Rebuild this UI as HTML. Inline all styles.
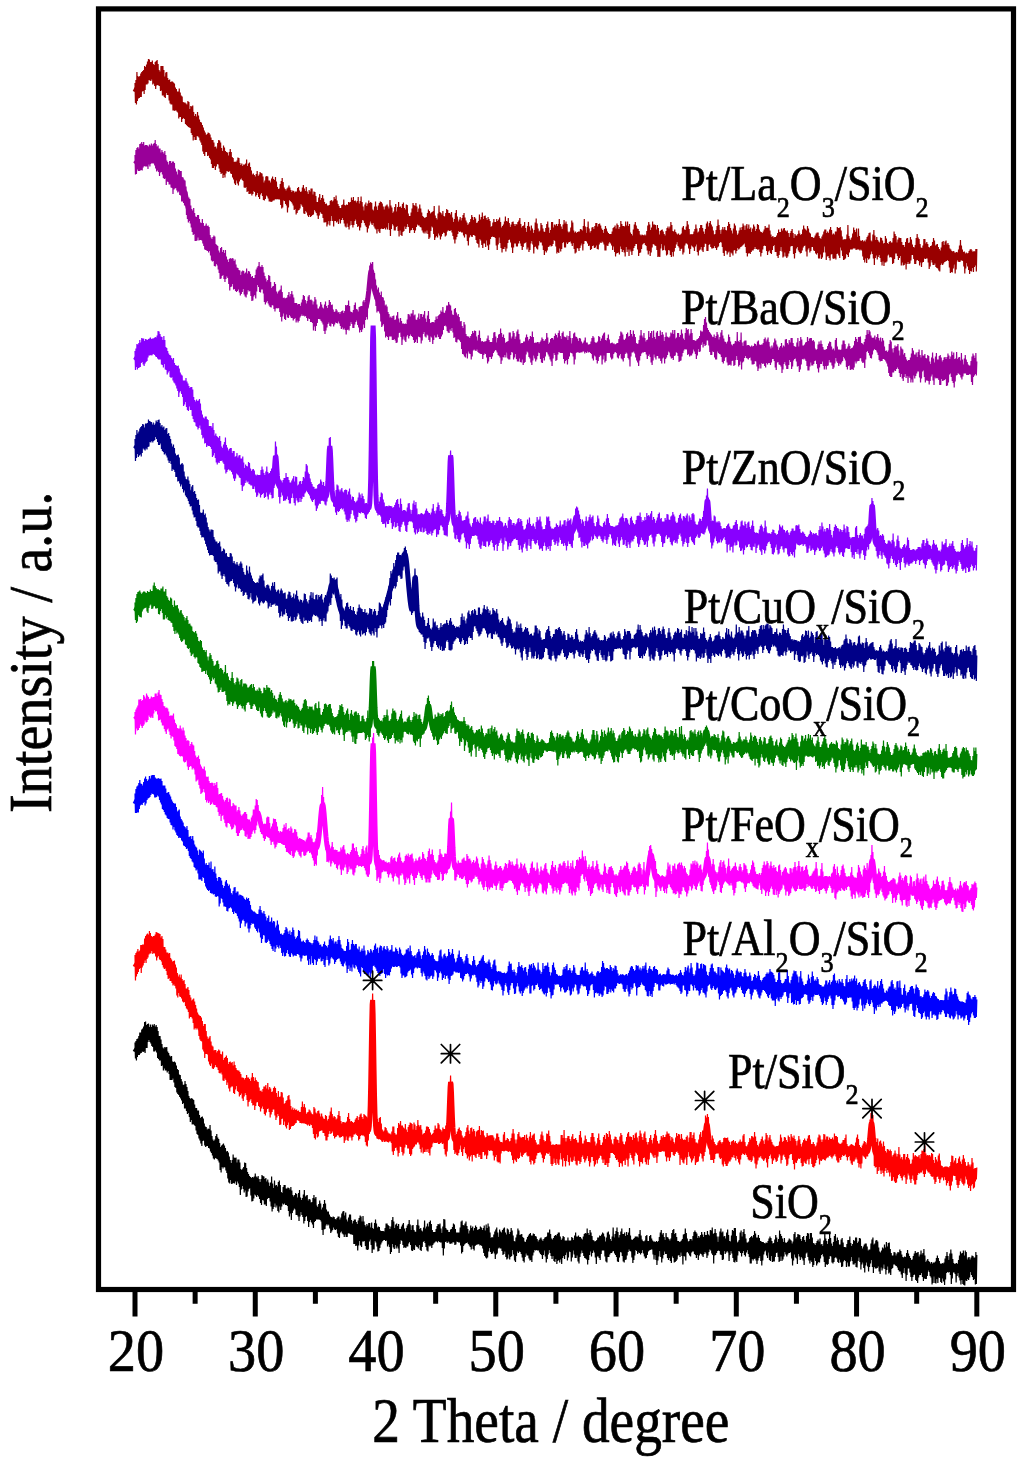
<!DOCTYPE html><html><head><meta charset="utf-8"><title>XRD</title><style>html,body{margin:0;padding:0;background:#fff;overflow:hidden}svg{display:block}text{font-family:'Liberation Serif','Times New Roman',serif;fill:#000;stroke:#000;stroke-width:0.7px}</style></head><body>
<svg width="1024" height="1461" viewBox="0 0 1024 1461">
<rect x="0" y="0" width="1024" height="1461" fill="#fff"/>
<path transform="translate(135.000 0) scale(0.48104 0.5)" d="M0 2104 l1-2 1-1 1-2 1-1 1-2 1-2 1-1 1-2 1-1 1-1 1-2 1-1 1-1 1-2 1-1 1-1 1-2 1-1 1-1 1-2 1-1 1-2 1-1 1-1 1-1 1-1 1-1 1-1 1 0 1 0 1 0 1 0 1 1 1 0 1 1 1 1 1 1 1 1 1 1 1 1 1 1 1 1 1 2 1 2 1 2 1 2 1 3 1 3 1 3 1 3 1 3 1 2 1 2 1 2 1 2 1 1 1 2 1 2 1 1 1 2 1 1 1 2 1 1 1 2 1 1 1 2 1 1 1 1 1 2 1 1 1 2 1 1 1 2 1 1 1 2 1 1 1 2 1 2 1 2 1 1 1 2 1 2 1 2 1 2 1 2 1 2 1 2 1 2 1 2 1 2 1 2 1 2 1 2 1 2 1 2 1 2 1 2 1 2 1 2 1 2 1 2 1 2 1 2 1 2 1 2 1 2 1 2 1 2 1 2 1 2 1 2 1 2 1 2 1 3 1 2 1 2 1 2 1 2 1 2 1 2 1 2 1 2 1 2 1 2 1 2 1 2 1 2 1 1 1 2 1 2 1 2 1 1 1 2 1 2 1 1 1 2 1 2 1 1 1 2 1 1 1 2 1 1 1 2 1 1 1 2 1 1 1 2 1 1 1 2 1 1 1 1 1 2 1 1 1 2 1 1 1 2 1 1 1 1 1 2 1 1 1 1 1 2 1 1 1 2 1 1 1 1 1 2 1 1 1 1 1 2 1 1 1 1 1 2 1 1 1 1 1 1 1 2 1 1 1 1 1 1 1 2 1 1 1 1 1 1 1 1 1 1 1 1 1 2 1 1 1 1 1 1 1 1 1 1 1 1 1 1 1 1 1 1 1 1 1 1 1 1 1 1 1 1 1 1 1 1 1 1 1 1 1 1 1 0 1 1 1 1 1 1 1 1 1 0 1 1 1 1 1 0 1 1 1 1 1 1 1 0 1 1 1 1 1 0 1 1 1 0 1 1 1 1 1 0 1 1 1 1 1 0 1 1 1 1 1 0 1 1 1 0 1 1 1 1 1 0 1 1 1 1 1 0 1 1 1 1 1 0 1 1 1 1 1 0 1 1 1 0 1 1 1 1 1 0 1 1 1 1 1 0 1 1 1 0 1 1 1 0 1 1 1 0 1 1 1 0 1 1 1 0 1 1 1 0 1 1 1 0 1 1 1 0 1 0 1 1 1 0 1 1 1 0 1 0 1 1 1 0 1 1 1 0 1 0 1 1 1 0 1 0 1 1 1 0 1 1 1 0 1 0 1 1 1 0 1 1 1 0 1 0 1 1 1 0 1 0 1 1 1 0 1 0 1 1 1 0 1 0 1 1 1 0 1 0 1 1 1 0 1 1 1 0 1 0 1 1 1 0 1 0 1 1 1 0 1 0 1 1 1 0 1 1 1 0 1 0 1 1 1 0 1 0 1 1 1 0 1 0 1 1 1 0 1 0 1 1 1 0 1 1 1 0 1 0 1 1 1 0 1 0 1 1 1 0 1 1 1 0 1 0 1 1 1 0 1 0 1 1 1 0 1 1 1 0 1 0 1 1 1 0 1 1 1 0 1 1 1 0 1 0 1 1 1 0 1 1 1 0 1 1 1 0 1 1 1 0 1 1 1 0 1 1 1 0 1 1 1 1 1 0 1 1 1 0 1 1 1 0 1 1 1 1 1 0 1 1 1 0 1 1 1 0 1 1 1 1 1 0 1 1 1 0 1 1 1 1 1 0 1 1 1 0 1 1 1 1 1 0 1 1 1 0 1 1 1 0 1 1 1 0 1 1 1 0 1 1 1 0 1 1 1 0 1 1 1 0 1 1 1 0 1 1 1 0 1 1 1 0 1 0 1 1 1 0 1 1 1 0 1 0 1 1 1 0 1 0 1 1 1 0 1 1 1 0 1 0 1 1 1 0 1 0 1 1 1 0 1 0 1 1 1 0 1 1 1 0 1 0 1 1 1 0 1 0 1 1 1 0 1 0 1 1 1 0 1 0 1 1 1 0 1 0 1 0 1 1 1 0 1 0 1 1 1 0 1 0 1 0 1 1 1 0 1 0 1 0 1 1 1 0 1 0 1 0 1 0 1 1 1 0 1 0 1 0 1 0 1 0 1 1 1 0 1 0 1 0 1 0 1 0 1 0 1 0 1 0 1 0 1 1 1 0 1 0 1 0 1 0 1 0 1 0 1 0 1 0 1 0 1 0 1 0 1 1 1 0 1 0 1 0 1 0 1 0 1 0 1 0 1 0 1 0 1 0 1 0 1 0 1 0 1 0 1 0 1 1 1 0 1 0 1 0 1 0 1 0 1 0 1 0 1 0 1 0 1 0 1 0 1 0 1 0 1 0 1 0 1 0 1 0 1 0 1 0 1 1 1 0 1 0 1 0 1 0 1 0 1 0 1 0 1 0 1 0 1 0 1 0 1 0 1 0 1 0 1 0 1 0 1 0 1 0 1 0 1 0 1 0 1 0 1 0 1 1 1 0 1 0 1 0 1 0 1 0 1 0 1 0 1 0 1 0 1 0 1 0 1 0 1 0 1 0 1 0 1 0 1 0 1 0 1 0 1 0 1 0 1 0 1 0 1 0 1 0 1 0 1 0 1 0 1 0 1 0 1 0 1 1 1 0 1 0 1 0 1 0 1 0 1 0 1 0 1 0 1 0 1 0 1 0 1 0 1 0 1 0 1 0 1 0 1 0 1 0 1 0 1 0 1 0 1 0 1 0 1 0 1 0 1 0 1 0 1 0 1 0 1 0 1 0 1 0 1 0 1 0 1 0 1 0 1 0 1 0 1 0 1 1 1 0 1 0 1 0 1 0 1 0 1 0 1 0 1 0 1 0 1 0 1 0 1 0 1 0 1 0 1 0 1 0 1 0 1 0 1 0 1 0 1 0 1 0 1 0 1 0 1 0 1 0 1 0 1 0 1 1 1 0 1 0 1 0 1 0 1 0 1 0 1 0 1 0 1 0 1 0 1 0 1 0 1 0 1 0 1 0 1 0 1 0 1 0 1 0 1 1 1 0 1 0 1 0 1 0 1 0 1 0 1 0 1 0 1 0 1 0 1 0 1 1 1 0 1 0 1 0 1 0 1 0 1 0 1 1 1 0 1 0 1 0 1 0 1 0 1 0 1 1 1 0 1 0 1 0 1 0 1 0 1 1 1 0 1 0 1 0 1 0 1 0 1 1 1 0 1 0 1 0 1 0 1 1 1 0 1 0 1 0 1 0 1 0 1 1 1 0 1 0 1 0 1 0 1 0 1 0 1 1 1 0 1 0 1 0 1 0 1 0 1 0 1 1 1 0 1 0 1 0 1 0 1 0 1 0 1 0 1 1 1 0 1 0 1 0 1 0 1 0 1 0 1 0 1 1 1 0 1 0 1 0 1 0 1 0 1 0 1 0 1 1 1 0 1 0 1 0 1 0 1 0 1 0 1 0 1 1 1 0 1 0 1 0 1 0 1 0 1 0 1 0 1 0 1 0 1 1 1 0 1 0 1 0 1 0 1 0 1 0 1 0 1 0 1 0 1 0 1 0 1 0 1 0 1 0 1 1 1 0 1 0 1 0 1 0 1 0 1 0 1 0 1 0 1 0 1 0 1 0 1 0 1 0 1 0 1 0 1 0 1 0 1 0 1 0 1 0 1 0 1 0 1 0 1 0 1 0 1 0 1 0 1 0 1 0 1 0 1 0 1 0 1 0 1 0 1 0 1 0 1 0 1 0 1 0 1 0 1 0 1 0 1 0 1 0 1 0 1 0 1 0 1 0 1 0 1 0 1 0 1 0 1 0 1 0 1 0 1 0 1 0 1 0 1 0 1 0 1 0 1 0 1 0 1 0 1 0 1 0 1 0 1 0 1 0 1 0 1 0 1 0 1 0 1 0 1 0 1 0 1 0 1 0 1 0 1 0 1 0 1 0 1 0 1 0 1 0 1 0 1 0 1 0 1 0 1 0 1 0 1 0 1 0 1 0 1 0 1 0 1 0 1 0 1 0 1 0 1 0 1 0 1 0 1 0 1 0 1 0 1 0 1 0 1 0 1 0 1 0 1 0 1 0 1 0 1 0 1 0 1 0 1 0 1 0 1 0 1 0 1 0 1 0 1 0 1 0 1 0 1 0 1 0 1 0 1 0 1 0 1 0 1 0 1 0 1 0 1 0 1 0 1 0 1 0 1 0 1 0 1 0 1 0 1 0 1 0 1 0 1 0 1 0 1 0 1 0 1 0 1 0 1 0 1 0 1 0 1 0 1 0 1 0 1 0 1 0 1 0 1 0 1 0 1 0 1 0 1 0 1 0 1 0 1 0 1 0 1 0 1 0 1 0 1 0 1 0 1 0 1 0 1 0 1 0 1 0 1 0 1 0 1 0 1 0 1 0 1 0 1 0 1 0 1 0 1 0 1 0 1 0 1 0 1 0 1 0 1 0 1 0 1 0 1 0 1 0 1 0 1 0 1 0 1 0 1 0 1 0 1 0 1 0 1 0 1 0 1 0 1 0 1 0 1 0 1 0 1 0 1 0 1 0 1 0 1 0 1 0 1 0 1 0 1 0 1 0 1 0 1 0 1 0 1 0 1 0 1 0 1 0 1 0 1 0 1 0 1 0 1 0 1 0 1 0 1 0 1 0 1 0 1 0 1 0 1 0 1 0 1 0 1 0 1 0 1 0 1 0 1 0 1 0 1 0 1 0 1 0 1 0 1 0 1 0 1 0 1 0 1 0 1 0 1 0 1 0 1 0 1 0 1 0 1 0 1 0 1 0 1 0 1 0 1 0 1 0 1 0 1 0 1 0 1 0 1 0 1 0 1 0 1 0 1 0 1 0 1 0 1 0 1 0 1 0 1 0 1 0 1 0 1 0 1 0 1 0 1 0 1 0 1 0 1 0 1 0 1 0 1 0 1 0 1 0 1 0 1 0 1 0 1 0 1 0 1 0 1 0 1 0 1 0 1 0 1 0 1 0 1 0 1 0 1 0 1 0 1 0 1 0 1 0 1 0 1 0 1 0 1 0 1 0 1 0 1 0 1 0 1 0 1 0 1 0 1 0 1 0 1 0 1 0 1 0 1 0 1 0 1 0 1 0 1 0 1 0 1 0 1 0 1 0 1 0 1 0 1 0 1 0 1 0 1 0 1 0 1 0 1 0 1 0 1 0 1 0 1 0 1 0 1 0 1 0 1 0 1 0 1 0 1 0 1 0 1 0 1 0 1 0 1 0 1 0 1 0 1 0 1 0 1 0 1 0 1 0 1 0 1 0 1 0 1 0 1 0 1 0 1 0 1 0 1 0 1 0 1 0 1 0 1 0 1 0 1 0 1 0 1 0 1 0 1 0 1 0 1 0 1 0 1 0 1 0 1 0 1 0 1 0 1 0 1 0 1 0 1 0 1 0 1 0 1 0 1 0 1 0 1 0 1 0 1 0 1 0 1 0 1 0 1 0 1 0 1 0 1 0 1 0 1 0 1 0 1 0 1 0 1 0 1 0 1 0 1 0 1 0 1 0 1 0 1 0 1 0 1 0 1 0 1 0 1 0 1 0 1 0 1 0 1 0 1 0 1 0 1 0 1 0 1 0 1 0 1 1 1 0 1 0 1 0 1 0 1 0 1 0 1 0 1 0 1 0 1 0 1 0 1 0 1 0 1 0 1 0 1 0 1 0 1 0 1 0 1 0 1 0 1 0 1 0 1 0 1 0 1 0 1 0 1 0 1 0 1 0 1 0 1 0 1 0 1 0 1 0 1 0 1 0 1 0 1 0 1 0 1 0 1 1 1 0 1 0 1 0 1 0 1 0 1 0 1 0 1 0 1 0 1 0 1 0 1 0 1 0 1 0 1 0 1 0 1 0 1 0 1 0 1 0 1 0 1 0 1 0 1 0 1 0 1 0 1 0 1 0 1 0 1 0 1 0 1 0 1 0 1 0 1 0 1 1 1 0 1 0 1 0 1 0 1 0 1 0 1 0 1 0 1 0 1 0 1 0 1 0 1 0 1 0 1 0 1 0 1 0 1 0 1 0 1 0 1 0 1 0 1 0 1 0 1 0 1 1 1 0 1 0 1 0 1 0 1 0 1 0 1 0 1 0 1 0 1 0 1 0 1 0 1 0 1 0 1 0 1 0 1 0 1 0 1 0 1 0 1 1 1 0 1 0 1 0 1 0 1 0 1 0 1 0 1 0 1 0 1 0 1 0 1 0 1 0 1 0 1 0 1 0 1 0 1 0 1 1 1 0 1 0 1 0 1 0 1 0 1 0 1 0 1 0 1 0 1 0 1 0 1 0 1 0 1 0 1 0 1 0 1 1 1 0 1 0 1 0 1 0 1 0 1 0 1 0 1 0 1 0 1 0 1 0 1 0 1 0 1 0 1 1 1 0 1 0 1 0 1 0 1 0 1 0 1 0 1 0 1 0 1 0 1 0 1 0 1 0 1 0 1 1 1 0 1 0 1 0 1 0 1 0 1 0 1 0 1 0 1 0 1 0 1 0 1 0 1 1 1 0 1 0 1 0 1 0 1 0 1 0 1 0 1 0 1 0 1 0 1 1 1 0 1 0 1 0 1 0 1 0 1 0 1 0 1 0 1 0 1 1 1 0 1 0 1 0 1 0 1 0 1 0 1 0 1 0 1 1 1 0 1 0 1 0 1 0 1 0 1 0 1 0 1 0 1 1 1 0 1 0 1 0 1 0 1 0 1 0 1 1 1 0 1 0 1 0 1 0 1 0 1 0 1 1 1 0 1 0 1 0 1 0 1 1 1 0 1 0 1 0 1 0 1 1 1 0 1 0 1 0 1 0 1 1 1 0 1 0 1 0 1 0 1 1 1 0 1 0 1 0 1 0 1 1 1 0 1 0 1 0 1 1 1 0 1 0 1 0 1 0 1 1 1 0 1 0 1 0 1 0 1 1 1 0 1 0 1 0 1 0 1 1 1 0 1 0 1 0 1 0 1 1 1 0 1 0 1 0 1 0 1 0 1 1 1 0 1 0 1 0 1 0 1 0 1 1 1 0 1 0 1 0 1 0 1 1 1 0 1 0 1 0 1 0 1 1 1 0 1 0 1 0 1 0 1 1 1 0 1 0 1 0 1 0 1 1 1 0 1 0 1 0 1 0 1 0 1 1 1 0 1 0 1 0 1 0 1 1 1 0 1 0 1 0 1 0 1 1 1 0 1 0 1 0 1 0 1 1 1 0 1 0 1 0 1 0 1 1 1 0 1 0 1 0 1 0 1 0 1 1 1 0 1 0 1 0 1 0 1 1 1 0 1 0 1 0 1 0 1 0 1 0 1 1 1 0 1 0 1 0 1 0 1 0 1 1 1 0 1 0 1 0 1 0 1 0 1 0 1 1 1 0 1 0 1 0 1 0 1 0 1 0 1 0 1 0 1 1 1 0 1 0 1 0 1 0 1 0 1 0 1 0 1 0 1 0 1 0 1 0 1 1 1 0 1 0 1 0 1 0 1 0 1 0 1 0 1 0 1 0 1 0 1 0 1 0 1 0 1 0 1 0 1 0 1 0 1 0 1 0 1 0 1 0 1 0 1 0 1 0 1 0 1 0 1 0 1 0 1 0 1 0 1 0 1 0 1 0 1 0 1 0 1 0 1 0 1 0 1 0 1 0 1 0 1 0 1 0 1 0 1 0 1 0 1 0 1 0 1 0 1 0 1 0 1 0 1 0 1 0 1 0 1 0 1 0 1 0 1 0 1 0 1 0 1 0 1 0 1 0 1 0 1 0 1 0 1 0 1 0 1 0 1 0 1 0 1 0 1 0 1 0" fill="none" stroke="#000000" stroke-width="5.00" stroke-linejoin="bevel" vector-effect="non-scaling-stroke"/>
<path transform="translate(135.000 0) scale(0.48104 0.5)" d="M0 2085 l1 32 1-35 1 39 1-43 1 36 1-37 1 33 1-38 1 38 1-45 1 42 1-42 1 41 1-47 1 44 1-46 1 47 1-51 1 50 1-59 1 62 1-63 1 53 1-46 1 46 1-48 1 36 1-37 1 33 1-26 1 30 1-35 1 38 1-33 1 38 1-43 1 45 1-43 1 52 1-55 1 55 1-50 1 48 1-51 1 55 1-51 1 62 1-54 1 56 1-46 1 49 1-49 1 49 1-42 1 53 1-44 1 43 1-36 1 46 1-44 1 40 1-43 1 47 1-46 1 46 1-47 1 51 1-42 1 39 1-36 1 42 1-37 1 49 1-47 1 47 1-48 1 48 1-37 1 34 1-33 1 41 1-42 1 51 1-49 1 51 1-45 1 54 1-47 1 50 1-48 1 50 1-41 1 45 1-44 1 47 1-39 1 43 1-38 1 45 1-38 1 36 1-37 1 48 1-55 1 55 1-49 1 54 1-48 1 54 1-46 1 44 1-34 1 42 1-38 1 48 1-46 1 42 1-44 1 53 1-51 1 50 1-48 1 50 1-41 1 43 1-36 1 45 1-45 1 52 1-47 1 49 1-49 1 56 1-47 1 51 1-45 1 51 1-53 1 58 1-59 1 49 1-45 1 44 1-34 1 44 1-38 1 41 1-40 1 38 1-33 1 33 1-35 1 39 1-38 1 39 1-47 1 53 1-42 1 45 1-34 1 39 1-32 1 38 1-35 1 37 1-40 1 37 1-44 1 45 1-49 1 50 1-43 1 46 1-43 1 47 1-39 1 54 1-46 1 51 1-54 1 43 1-45 1 48 1-50 1 47 1-43 1 44 1-39 1 45 1-38 1 43 1-44 1 55 1-52 1 60 1-52 1 54 1-47 1 40 1-34 1 42 1-48 1 47 1-58 1 57 1-51 1 52 1-51 1 47 1-48 1 55 1-45 1 38 1-44 1 48 1-48 1 55 1-49 1 65 1-52 1 41 1-39 1 32 1-35 1 41 1-44 1 51 1-60 1 56 1-55 1 68 1-58 1 57 1-49 1 39 1-35 1 30 1-26 1 24 1-22 1 37 1-35 1 47 1-49 1 48 1-47 1 42 1-44 1 36 1-42 1 44 1-38 1 41 1-39 1 35 1-38 1 41 1-35 1 40 1-34 1 42 1-48 1 52 1-60 1 50 1-48 1 49 1-48 1 56 1-51 1 51 1-53 1 56 1-49 1 35 1-39 1 37 1-31 1 31 1-24 1 31 1-38 1 48 1-60 1 70 1-56 1 51 1-42 1 38 1-53 1 46 1-36 1 44 1-45 1 41 1-38 1 49 1-58 1 61 1-64 1 52 1-43 1 50 1-36 1 29 1-27 1 21 1-33 1 35 1-39 1 37 1-37 1 40 1-33 1 33 1-33 1 35 1-37 1 47 1-46 1 57 1-54 1 48 1-53 1 66 1-59 1 45 1-36 1 31 1-28 1 24 1-27 1 29 1-33 1 44 1-42 1 42 1-35 1 38 1-47 1 56 1-62 1 53 1-38 1 29 1-24 1 30 1-34 1 38 1-45 1 58 1-67 1 62 1-49 1 41 1-43 1 41 1-42 1 52 1-41 1 53 1-56 1 46 1-45 1 41 1-35 1 40 1-41 1 45 1-53 1 60 1-66 1 54 1-47 1 45 1-48 1 45 1-28 1 28 1-25 1 25 1-31 1 31 1-38 1 39 1-33 1 36 1-24 1 41 1-45 1 55 1-62 1 51 1-59 1 58 1-51 1 44 1-32 1 29 1-25 1 28 1-28 1 26 1-20 1 28 1-24 1 33 1-32 1 29 1-28 1 25 1-27 1 22 1-21 1 25 1-21 1 22 1-21 1 19 1-22 1 31 1-34 1 41 1-41 1 43 1-37 1 26 1-30 1 28 1-36 1 40 1-44 1 46 1-47 1 52 1-43 1 38 1-44 1 49 1-35 1 35 1-31 1 24 1-32 1 31 1-37 1 39 1-39 1 40 1-29 1 29 1-22 1 23 1-28 1 46 1-49 1 49 1-49 1 53 1-48 1 47 1-43 1 53 1-60 1 50 1-55 1 46 1-51 1 60 1-58 1 61 1-51 1 40 1-51 1 51 1-40 1 39 1-32 1 42 1-39 1 46 1-51 1 52 1-49 1 48 1-53 1 37 1-37 1 33 1-24 1 35 1-45 1 61 1-50 1 43 1-41 1 41 1-53 1 36 1-43 1 46 1-38 1 46 1-38 1 48 1-50 1 49 1-48 1 42 1-35 1 28 1-27 1 23 1-23 1 20 1-20 1 18 1-17 1 17 1-24 1 26 1-35 1 34 1-34 1 46 1-43 1 39 1-37 1 42 1-36 1 50 1-55 1 51 1-64 1 48 1-54 1 61 1-52 1 55 1-42 1 34 1-41 1 48 1-50 1 46 1-41 1 45 1-49 1 58 1-48 1 30 1-30 1 22 1-27 1 29 1-33 1 41 1-44 1 50 1-39 1 37 1-31 1 33 1-40 1 37 1-42 1 42 1-45 1 39 1-47 1 44 1-35 1 41 1-30 1 41 1-50 1 51 1-52 1 49 1-39 1 40 1-37 1 27 1-26 1 29 1-43 1 44 1-55 1 58 1-46 1 39 1-32 1 42 1-44 1 46 1-41 1 33 1-31 1 21 1-29 1 27 1-41 1 45 1-29 1 37 1-41 1 48 1-54 1 56 1-50 1 38 1-47 1 49 1-52 1 50 1-43 1 48 1-36 1 30 1-26 1 23 1-23 1 21 1-21 1 19 1-25 1 25 1-31 1 33 1-37 1 34 1-33 1 35 1-37 1 38 1-28 1 28 1-19 1 30 1-43 1 58 1-73 1 59 1-58 1 45 1-28 1 27 1-24 1 27 1-26 1 23 1-19 1 21 1-21 1 24 1-29 1 28 1-29 1 29 1-33 1 30 1-37 1 38 1-36 1 41 1-32 1 31 1-24 1 18 1-18 1 19 1-19 1 20 1-20 1 20 1-30 1 36 1-48 1 64 1-66 1 63 1-54 1 42 1-41 1 38 1-42 1 40 1-44 1 43 1-34 1 33 1-27 1 30 1-21 1 24 1-30 1 33 1-43 1 48 1-43 1 35 1-38 1 45 1-37 1 40 1-45 1 36 1-41 1 39 1-36 1 35 1-29 1 29 1-30 1 29 1-30 1 33 1-38 1 37 1-35 1 37 1-32 1 37 1-41 1 50 1-55 1 61 1-51 1 54 1-66 1 68 1-61 1 59 1-68 1 56 1-50 1 43 1-31 1 39 1-28 1 32 1-34 1 33 1-32 1 28 1-34 1 38 1-44 1 55 1-59 1 50 1-54 1 52 1-42 1 32 1-23 1 21 1-36 1 38 1-34 1 34 1-32 1 37 1-42 1 50 1-53 1 51 1-53 1 48 1-38 1 49 1-45 1 50 1-62 1 60 1-58 1 50 1-41 1 51 1-55 1 50 1-58 1 56 1-51 1 39 1-29 1 38 1-27 1 39 1-38 1 41 1-49 1 37 1-43 1 34 1-46 1 49 1-45 1 42 1-33 1 34 1-35 1 39 1-40 1 47 1-41 1 48 1-46 1 49 1-42 1 31 1-30 1 23 1-28 1 32 1-37 1 37 1-40 1 46 1-49 1 53 1-55 1 54 1-49 1 53 1-53 1 40 1-44 1 38 1-37 1 32 1-28 1 29 1-28 1 27 1-22 1 23 1-18 1 18 1-21 1 25 1-28 1 31 1-33 1 35 1-31 1 39 1-36 1 28 1-32 1 23 1-26 1 38 1-39 1 51 1-52 1 45 1-53 1 44 1-44 1 35 1-41 1 47 1-38 1 44 1-35 1 41 1-39 1 33 1-36 1 46 1-50 1 52 1-54 1 48 1-47 1 57 1-60 1 54 1-57 1 55 1-55 1 60 1-52 1 46 1-39 1 48 1-51 1 39 1-44 1 40 1-38 1 44 1-37 1 29 1-29 1 24 1-24 1 40 1-46 1 40 1-34 1 22 1-22 1 23 1-23 1 42 1-49 1 41 1-39 1 25 1-21 1 29 1-38 1 45 1-51 1 51 1-43 1 38 1-38 1 50 1-52 1 56 1-53 1 40 1-40 1 33 1-30 1 24 1-22 1 27 1-33 1 39 1-44 1 48 1-50 1 51 1-50 1 52 1-62 1 72 1-63 1 54 1-50 1 40 1-50 1 43 1-38 1 48 1-41 1 34 1-26 1 21 1-20 1 24 1-22 1 32 1-33 1 46 1-48 1 33 1-38 1 38 1-38 1 41 1-45 1 49 1-48 1 36 1-39 1 32 1-36 1 36 1-34 1 34 1-28 1 40 1-30 1 40 1-48 1 50 1-60 1 49 1-51 1 51 1-45 1 40 1-31 1 28 1-24 1 24 1-33 1 30 1-48 1 47 1-27 1 32 1-39 1 42 1-48 1 52 1-59 1 68 1-59 1 60 1-49 1 40 1-45 1 34 1-41 1 42 1-48 1 55 1-44 1 55 1-55 1 57 1-60 1 55 1-48 1 47 1-55 1 47 1-41 1 34 1-39 1 34 1-43 1 46 1-31 1 32 1-24 1 36 1-35 1 46 1-48 1 42 1-44 1 35 1-38 1 27 1-27 1 29 1-29 1 35 1-33 1 30 1-37 1 38 1-46 1 49 1-38 1 35 1-27 1 21 1-18 1 25 1-24 1 30 1-32 1 36 1-45 1 44 1-46 1 40 1-28 1 21 1-21 1 19 1-29 1 28 1-30 1 29 1-22 1 22 1-18 1 28 1-26 1 36 1-36 1 27 1-26 1 36 1-38 1 48 1-46 1 37 1-39 1 31 1-39 1 28 1-37 1 49 1-54 1 65 1-56 1 48 1-51 1 44 1-36 1 29 1-23 1 28 1-42 1 42 1-34 1 42 1-41 1 45 1-42 1 38 1-35 1 41 1-45 1 49 1-60 1 47 1-53 1 56 1-58 1 67 1-57 1 56 1-58 1 56 1-48 1 45 1-37 1 29 1-29 1 28 1-26 1 30 1-31 1 22 1-24 1 31 1-34 1 51 1-60 1 43 1-44 1 45 1-56 1 64 1-55 1 39 1-28 1 27 1-21 1 24 1-25 1 29 1-33 1 35 1-35 1 27 1-24 1 22 1-31 1 31 1-39 1 44 1-47 1 49 1-46 1 52 1-49 1 43 1-34 1 44 1-48 1 39 1-36 1 32 1-37 1 38 1-44 1 47 1-42 1 45 1-40 1 34 1-44 1 40 1-34 1 37 1-37 1 46 1-54 1 49 1-42 1 35 1-33 1 28 1-39 1 41 1-40 1 46 1-52 1 55 1-42 1 59 1-61 1 45 1-53 1 52 1-44 1 40 1-33 1 29 1-18 1 17 1-28 1 29 1-39 1 46 1-52 1 53 1-45 1 55 1-57 1 56 1-46 1 29 1-30 1 36 1-31 1 28 1-40 1 37 1-43 1 46 1-35 1 52 1-40 1 28 1-27 1 19 1-31 1 36 1-47 1 56 1-54 1 62 1-68 1 69 1-69 1 65 1-49 1 52 1-39 1 26 1-28 1 19 1-22 1 23 1-38 1 41 1-45 1 52 1-40 1 33 1-42 1 38 1-44 1 52 1-42 1 45 1-36 1 28 1-20 1 15 1-15 1 23 1-25 1 31 1-38 1 51 1-53 1 53 1-55 1 46 1-43 1 46 1-51 1 48 1-56 1 55 1-50 1 54 1-46 1 53 1-53 1 46 1-51 1 46 1-40 1 36 1-30 1 40 1-39 1 48 1-47 1 37 1-37 1 25 1-23 1 17 1-16 1 14 1-16 1 26 1-25 1 30 1-34 1 23 1-28 1 43 1-47 1 49 1-46 1 36 1-30 1 42 1-37 1 36 1-37 1 37 1-44 1 35 1-44 1 36 1-31 1 30 1-21 1 30 1-36 1 46 1-63 1 61 1-54 1 45 1-41 1 50 1-45 1 42 1-35 1 29 1-37 1 28 1-19 1 24 1-23 1 27 1-29 1 25 1-28 1 25 1-29 1 29 1-27 1 25 1-23 1 36 1-30 1 44 1-48 1 38 1-53 1 41 1-45 1 51 1-38 1 40 1-43 1 54 1-60 1 40 1-39 1 44 1-43 1 50 1-42 1 36 1-32 1 35 1-43 1 47 1-49 1 58 1-50 1 36 1-32 1 23 1-35 1 33 1-39 1 48 1-47 1 54 1-43 1 49 1-61 1 55 1-55 1 58 1-49 1 59 1-48 1 44 1-43 1 29 1-26 1 32 1-36 1 45 1-49 1 45 1-48 1 45 1-41 1 42 1-48 1 40 1-28 1 21 1-22 1 20 1-16 1 21 1-32 1 43 1-58 1 68 1-57 1 51 1-46 1 48 1-42 1 40 1-50 1 40 1-50 1 44 1-36 1 37 1-26 1 38 1-33 1 35 1-43 1 40 1-52 1 44 1-48 1 46 1-32 1 35 1-42 1 49 1-44 1 46 1-37 1 30 1-30 1 36 1-46 1 55 1-58 1 57 1-48 1 38 1-29 1 26 1-26 1 28 1-27 1 39 1-46 1 37 1-45 1 53 1-53 1 53 1-60 1 50 1-37 1 28 1-22 1 30 1-34 1 41 1-49 1 49 1-47 1 44 1-51 1 59 1-59 1 60 1-49 1 36 1-39 1 32 1-39 1 48 1-47 1 62 1-47 1 37 1-32 1 28 1-32 1 43 1-47 1 56 1-58 1 44 1-44 1 38 1-32 1 40 1-32 1 42 1-44 1 35 1-35 1 28 1-40 1 33 1-41 1 55 1-59 1 71 1-57 1 45 1-47 1 50 1-56 1 56 1-57 1 56 1-53 1 50 1-38 1 48 1-40 1 45 1-43 1 30 1-34 1 40 1-46 1 42 1-40 1 32 1-40 1 49 1-43 1 54 1-65 1 56 1-47 1 40 1-47 1 61 1-62 1 60 1-47 1 52 1-44 1 32 1-27 1 25 1-25 1 18 1-25 1 25 1-24 1 26 1-20 1 21 1-25 1 28 1-31 1 36 1-35 1 38 1-44 1 44 1-41 1 47 1-40 1 47 1-42 1 32 1-31 1 21 1-23 1 34 1-33 1 48 1-56 1 44 1-50 1 37 1-30 1 30 1-25 1 33 1-29 1 38 1-34 1 42 1-43 1 35 1-42 1 38 1-43 1 42 1-47 1 58 1-54 1 56 1-57 1 61 1-62 1 51 1-42 1 37 1-41 1 41 1-49 1 45 1-37 1 45 1-48 1 56 1-64 1 59 1-46 1 47 1-34 1 34 1-37 1 31 1-34 1 23 1-19 1 22 1-20 1 28 1-25 1 28 1-31 1 45 1-42 1 39 1-41 1 28 1-28 1 41 1-43 1 44 1-51 1 42 1-47 1 55 1-50 1 39 1-33 1 34 1-29 1 37 1-36 1 38 1-40 1 31 1-30 1 36 1-38 1 45 1-53 1 42 1-47 1 34 1-42 1 40 1-32 1 33 1-25 1 24 1-37 1 43 1-51 1 69 1-61 1 50 1-39 1 27 1-19 1 19 1-17 1 20 1-21 1 38 1-39 1 26 1-24 1 18 1-26 1 35 1-44 1 50 1-58 1 66 1-62 1 53 1-54 1 62 1-67 1 69 1-59 1 60 1-70 1 60 1-57 1 58 1-43 1 39 1-43 1 45 1-46 1 41 1-36 1 25 1-29 1 35 1-39 1 43 1-42 1 48 1-45 1 43 1-43 1 54 1-65 1 64 1-58" fill="none" stroke="#000000" stroke-width="1.20" vector-effect="non-scaling-stroke"/>
<path transform="translate(135.000 0) scale(0.48104 0.5)" d="M0 1934 l1-2 1-1 1-2 1-1 1-2 1-2 1-1 1-2 1-1 1-2 1-2 1-1 1-2 1-2 1-1 1-2 1-2 1-2 1-2 1-1 1-2 1-1 1-2 1-1 1-1 1-1 1-1 1-1 1-1 1 0 1-1 1-1 1-1 1 0 1-1 1 0 1 0 1 0 1 0 1 0 1 1 1 0 1 1 1 1 1 0 1 1 1 1 1 1 1 1 1 1 1 1 1 1 1 2 1 2 1 2 1 2 1 2 1 2 1 3 1 2 1 3 1 2 1 2 1 3 1 2 1 2 1 2 1 2 1 2 1 1 1 2 1 2 1 2 1 1 1 2 1 1 1 2 1 2 1 1 1 2 1 1 1 2 1 2 1 1 1 2 1 1 1 2 1 2 1 2 1 1 1 2 1 2 1 1 1 2 1 2 1 1 1 2 1 2 1 1 1 2 1 2 1 2 1 1 1 2 1 2 1 1 1 2 1 2 1 2 1 1 1 2 1 2 1 2 1 2 1 1 1 2 1 2 1 2 1 2 1 2 1 2 1 2 1 2 1 2 1 2 1 2 1 2 1 3 1 2 1 2 1 3 1 2 1 3 1 2 1 3 1 3 1 2 1 3 1 2 1 3 1 2 1 3 1 2 1 2 1 3 1 2 1 2 1 2 1 2 1 2 1 1 1 2 1 2 1 2 1 2 1 2 1 1 1 2 1 2 1 2 1 1 1 2 1 1 1 2 1 2 1 1 1 2 1 1 1 1 1 2 1 1 1 1 1 2 1 1 1 1 1 1 1 1 1 1 1 1 1 1 1 1 1 1 1 1 1 1 1 1 1 1 1 1 1 0 1 1 1 1 1 1 1 1 1 0 1 1 1 1 1 1 1 1 1 0 1 1 1 1 1 1 1 1 1 1 1 0 1 1 1 1 1 1 1 1 1 0 1 1 1 1 1 1 1 1 1 1 1 0 1 1 1 1 1 1 1 1 1 0 1 1 1 1 1 1 1 0 1 1 1 1 1 1 1 0 1 1 1 1 1 1 1 0 1 1 1 1 1 0 1 1 1 1 1 1 1 0 1 1 1 1 1 0 1 1 1 1 1 0 1 1 1 1 1 0 1 1 1 1 1 0 1 1 1 0 1 1 1 1 1 0 1 1 1 0 1 1 1 0 1 1 1 0 1 1 1 0 1 1 1 0 1 1 1 0 1 1 1 0 1 0 1 1 1 0 1 1 1 0 1 1 1 0 1 0 1 1 1 0 1 1 1 0 1 1 1 0 1 1 1 0 1 0 1 1 1 0 1 1 1 1 1 0 1 1 1 0 1 1 1 0 1 1 1 1 1 0 1 1 1 1 1 0 1 1 1 1 1 0 1 1 1 1 1 0 1 1 1 0 1 1 1 0 1 1 1 1 1 0 1 0 1 1 1 0 1 1 1 0 1 1 1 0 1 1 1 0 1 1 1 0 1 0 1 1 1 0 1 1 1 0 1 1 1 0 1 0 1 1 1 0 1 1 1 0 1 0 1 1 1 0 1 0 1 1 1 0 1 1 1 0 1 0 1 1 1 0 1 0 1 1 1 0 1 0 1 1 1 0 1 0 1 0 1 1 1 0 1 0 1 1 1 0 1 0 1 1 1 0 1 0 1 0 1 1 1 0 1 0 1 1 1 0 1 0 1 0 1 1 1 0 1 0 1 0 1 1 1 0 1 0 1 0 1 1 1 0 1 0 1 1 1 0 1 0 1 0 1 0 1 1 1 0 1 0 1 0 1 1 1 0 1 0 1 0 1 1 1 0 1 0 1 0 1 0 1 1 1 0 1 0 1 0 1 0 1 1 1 0 1 0 1 0 1 0 1 1 1 0 1 0 1 0 1 0 1 0 1 1 1 0 1 0 1 0 1 0 1 0 1 1 1 0 1 0 1 0 1 0 1 0 1 0 1 0 1 1 1 0 1 0 1 0 1 0 1 0 1 0 1 0 1 0 1 1 1 0 1 0 1 0 1 0 1 0 1 0 1 0 1 0 1 0 1 1 1 0 1 0 1 0 1 0 1 0 1 0 1 0 1 0 1 1 1 0 1 0 1 0 1 0 1 0 1 0 1 0 1 1 1 0 1 0 1 0 1 0 1 0 1 1 1 0 1 0 1 0 1 0 1 1 1 0 1 0 1 0 1 0 1-3 1-6 1-15 1-28 1-44 1-57 1-58 1-42 1-9 1 28 1 52 1 61 1 52 1 36 1 22 1 10 1 5 1 2 1 0 1 1 1 0 1 0 1 1 1 0 1 0 1 1 1 0 1 0 1 1 1 0 1 0 1 1 1 0 1 0 1 1 1 0 1 0 1 0 1 1 1 0 1 0 1 0 1 1 1 0 1 0 1 0 1 0 1 1 1 0 1 0 1 0 1 0 1 0 1 0 1 1 1 0 1 0 1 0 1 0 1 0 1 0 1 0 1 0 1 0 1 0 1 0 1 0 1 0 1 0 1 0 1 0 1 0 1 0 1 0 1 0 1 0 1 0 1 0 1 0 1 0 1 0 1 0 1 0 1 0 1 0 1 0 1 0 1 0 1 0 1 0 1 0 1 0 1 0 1 0 1 0 1 0 1 0 1 0 1 0 1 0 1-1 1 0 1 0 1 0 1 0 1 0 1 0 1 0 1 0 1 0 1 0 1 0 1 0 1 0 1 0 1 0 1 0 1 0 1 0 1 0 1 0 1 0 1 0 1 0 1 0 1 0 1 0 1 0 1 0 1 0 1 0 1 0 1 0 1 0 1 0 1 0 1 0 1 0 1 0 1 0 1 0 1 0 1 0 1 0 1 0 1 0 1 0 1 0 1 0 1 0 1 0 1 0 1 1 1 0 1 0 1 0 1 0 1 0 1 0 1 0 1 0 1 0 1-1 1-1 1-5 1-9 1-15 1-23 1-26 1-23 1-11 1 4 1 18 1 26 1 25 1 19 1 13 1 7 1 3 1 1 1 0 1 1 1 0 1 0 1 0 1 0 1 0 1 1 1 0 1 0 1 0 1 0 1 0 1 0 1 1 1 0 1 0 1 0 1 0 1 0 1 1 1 0 1 0 1 0 1 0 1 0 1 1 1 0 1 0 1 0 1 0 1 0 1 1 1 0 1 0 1 0 1 0 1 0 1 1 1 0 1 0 1 0 1 0 1 0 1 1 1 0 1 0 1 0 1 0 1 0 1 0 1 1 1 0 1 0 1 0 1 0 1 0 1 0 1 1 1 0 1 0 1 0 1 0 1 0 1 0 1 0 1 1 1 0 1 0 1 0 1 0 1 0 1 0 1 0 1 0 1 0 1 1 1 0 1 0 1 0 1 0 1 0 1 0 1 0 1 0 1 0 1 0 1 0 1 0 1 1 1 0 1 0 1 0 1 0 1 0 1 0 1 0 1 0 1 0 1 0 1 0 1 0 1 0 1 0 1 1 1 0 1 0 1 0 1 0 1 0 1 0 1 0 1 0 1 0 1 0 1 0 1 0 1 0 1 0 1 1 1 0 1 0 1 0 1 0 1 0 1 0 1 0 1 0 1 0 1 0 1 0 1 0 1 0 1 0 1 0 1 1 1 0 1 0 1 0 1 0 1 0 1 0 1 0 1 0 1 0 1 0 1 0 1 0 1 0 1 0 1 0 1 0 1 0 1 1 1 0 1 0 1 0 1 0 1 0 1 0 1 0 1 0 1 0 1 0 1 0 1 0 1 0 1 0 1 0 1 0 1 0 1 0 1 0 1 0 1 0 1 0 1 0 1 1 1 0 1 0 1 0 1 0 1 0 1 0 1 0 1 0 1 0 1 0 1 0 1 0 1 0 1 0 1 0 1 0 1 0 1 0 1 0 1 0 1 0 1 0 1 0 1 0 1 0 1 0 1 0 1 0 1 0 1 0 1 0 1 0 1 0 1 0 1 0 1 0 1 0 1 0 1 0 1 0 1 0 1 0 1 0 1 0 1 0 1 0 1 0 1 0 1 0 1 0 1 0 1 0 1 0 1 0 1 0 1 0 1 0 1 0 1 0 1 0 1 0 1 0 1 0 1 0 1 0 1 0 1 0 1 0 1 0 1 0 1 0 1 0 1 0 1 0 1 0 1 0 1 0 1 0 1 0 1 0 1 0 1 0 1 0 1 0 1 0 1 0 1 0 1 0 1 0 1 0 1 0 1 0 1 0 1 0 1 0 1 0 1 0 1 0 1 0 1 0 1 0 1 0 1 0 1 0 1 0 1 0 1 0 1 0 1 0 1 0 1 0 1 0 1 0 1 0 1 0 1 0 1 0 1 0 1 0 1 0 1 0 1 0 1 0 1 0 1 0 1 0 1 0 1 0 1 0 1 0 1 0 1 0 1 0 1 0 1 0 1 0 1 0 1 0 1 0 1 0 1 0 1 0 1 0 1 0 1 0 1 0 1 0 1 0 1 0 1 0 1 0 1 0 1 0 1 0 1 0 1 0 1 0 1 0 1 0 1 0 1 0 1 0 1 0 1 0 1 0 1 0 1 0 1 0 1 0 1 0 1 0 1 0 1 0 1 0 1 0 1 0 1 0 1 0 1 0 1 0 1 0 1 0 1 0 1-1 1 0 1 0 1 0 1 0 1 0 1 0 1 0 1 0 1 0 1 0 1 0 1 0 1 0 1 0 1 0 1 0 1 0 1 0 1 0 1 0 1 0 1 0 1 0 1 0 1 0 1 0 1 0 1 0 1 0 1-1 1 0 1 0 1 0 1 0 1 0 1 0 1 0 1 0 1 0 1 0 1 0 1 0 1 0 1 0 1 0 1 0 1 0 1 0 1 0 1 0 1 0 1 0 1 0 1 0 1 0 1 0 1 0 1 0 1-1 1 0 1 0 1 0 1 0 1 0 1 0 1 0 1 0 1 0 1 0 1 0 1 0 1 0 1 0 1 0 1 0 1 0 1 0 1 0 1 0 1 0 1 0 1 0 1 0 1 0 1 0 1 0 1 0 1 0 1 0 1 0 1 0 1 0 1 0 1 0 1 0 1 0 1 0 1 0 1 0 1 0 1 0 1 0 1 0 1 0 1 0 1 0 1 0 1 0 1 0 1 0 1 0 1 0 1 0 1 0 1 1 1 0 1 0 1 0 1 0 1 0 1 0 1 0 1 0 1 0 1 0 1 0 1 0 1 0 1 0 1 0 1 0 1 0 1 0 1 0 1 0 1 0 1 1 1 0 1 0 1 0 1 0 1 0 1 0 1 0 1 0 1 0 1 0 1 0 1 0 1 0 1 0 1 0 1-1 1-1 1-3 1-4 1-7 1-8 1-10 1-8 1-6 1-1 1 3 1 8 1 9 1 9 1 8 1 6 1 3 1 2 1 1 1 1 1 0 1 0 1 0 1 0 1 0 1 0 1 0 1 0 1 0 1 0 1 0 1 0 1 0 1 0 1 0 1 1 1 0 1 0 1 0 1 0 1 0 1 0 1 0 1 0 1 0 1 0 1 0 1 0 1 0 1 0 1 0 1 0 1 0 1 0 1 0 1 0 1 0 1 0 1 0 1 0 1 0 1 0 1 0 1 0 1 0 1 0 1 0 1 1 1 0 1 0 1 0 1 0 1 0 1 0 1 0 1 0 1 0 1 0 1 0 1 0 1 0 1 0 1 0 1 0 1 0 1 0 1 0 1 0 1 0 1 0 1 0 1 0 1 0 1 0 1 0 1 0 1 0 1 0 1 0 1 0 1 0 1 0 1 0 1 0 1 0 1 0 1 0 1 0 1 1 1 0 1 0 1 0 1 0 1 0 1 0 1 0 1 0 1 0 1 0 1 0 1 0 1 0 1 0 1 0 1 0 1 0 1 0 1 0 1 0 1 0 1 0 1 0 1 0 1 0 1 0 1 0 1 0 1 0 1 0 1 0 1 0 1 0 1 0 1 0 1 0 1 0 1 0 1 0 1 0 1 0 1 0 1 0 1 0 1 0 1 0 1 0 1 0 1 0 1 0 1 0 1 0 1 0 1 0 1 0 1 0 1 0 1 0 1 0 1 0 1 0 1 0 1 0 1 0 1 0 1 0 1 0 1 0 1 0 1 0 1 0 1 0 1 0 1 0 1 0 1 0 1 0 1 0 1 0 1 0 1 0 1 0 1 0 1 0 1 0 1 0 1 0 1 0 1 0 1 0 1 0 1 0 1 0 1 0 1 0 1 0 1 0 1 0 1 0 1 0 1 0 1 0 1 0 1 0 1 0 1 0 1 0 1 0 1 0 1 0 1 0 1 0 1 0 1 0 1 0 1 0 1 0 1 0 1 0 1 0 1 0 1 0 1 0 1 0 1 0 1 0 1 0 1 0 1 0 1 0 1 0 1 0 1 0 1 0 1 0 1 0 1 0 1 0 1 0 1 0 1 0 1 0 1 0 1 0 1 0 1 0 1 0 1 0 1 0 1 0 1 0 1 0 1 0 1 0 1 0 1 0 1 0 1 0 1 0 1 0 1 0 1 0 1 0 1 0 1 0 1 0 1 0 1 0 1 0 1 0 1 0 1 0 1 0 1 0 1 0 1 0 1 0 1 0 1 0 1 0 1 0 1 0 1 0 1 0 1 0 1 0 1 0 1 1 1 0 1 0 1 0 1 0 1 0 1 0 1 0 1 0 1 0 1 0 1 0 1 0 1 0 1 0 1 0 1 0 1 0 1 0 1 0 1 1 1 0 1 0 1 0 1 0 1 0 1 0 1 0 1 0 1 0 1 0 1 0 1 0 1 0 1 0 1 1 1 0 1 0 1 0 1 0 1 0 1 0 1 0 1 0 1 0 1 0 1 0 1-1 1-3 1-4 1-7 1-9 1-11 1-11 1-9 1-4 1 2 1 7 1 11 1 12 1 11 1 9 1 6 1 3 1 2 1 2 1 1 1 0 1 1 1 0 1 0 1 1 1 0 1 1 1 0 1 1 1 0 1 1 1 0 1 1 1 0 1 1 1 0 1 1 1 0 1 1 1 0 1 1 1 0 1 1 1 0 1 1 1 0 1 1 1 0 1 1 1 0 1 1 1 0 1 0 1 1 1 0 1 1 1 0 1 1 1 0 1 0 1 1 1 0 1 0 1 1 1 0 1 0 1 1 1 0 1 0 1 0 1 1 1 0 1 0 1 0 1 1 1 0 1 0 1 0 1 0 1 0 1 0 1 1 1 0 1 0 1 0 1 0 1 0 1 0 1 1 1 0 1 0 1 0 1 0 1 0 1 0 1 0 1 1 1 0 1 0 1 0 1 0 1 0 1 0 1 0 1 0 1 1 1 0 1 0 1 0 1-1 1 0 1-1 1-1 1-2 1-1 1-3 1-2 1-2 1-1 1-1 1 0 1 1 1 2 1 2 1 2 1 3 1 2 1 1 1 2 1 1 1 0 1 1 1 0 1 0 1 0 1 0 1 0 1 1 1 0 1 0 1 0 1 0 1 0 1 0 1 0 1 0 1 0 1 0 1 0 1 0 1 0 1 1 1 0 1 0 1 0 1 0 1 0 1 0 1 0 1 0 1 0 1 0 1 0 1 0 1 0 1 0 1 1 1 0 1 0 1 0 1 0 1 0 1 0 1 0 1 0 1 0 1 0 1 0 1 0 1 0 1 0 1 0 1 1 1 0 1 0 1 0 1 0 1 0 1 0 1 0 1 0 1 0 1 0 1 0 1 0 1 0 1 0 1 0 1 0 1 0 1 0 1 1 1 0 1 0 1 0 1 0 1 0 1 0 1 0 1 0 1 0 1 0 1 0 1 0 1 0 1 0 1 0 1 0 1 0 1 0 1 0 1 0 1 0 1 0 1 1 1 0 1 0 1 0" fill="none" stroke="#ff0000" stroke-width="5.00" stroke-linejoin="bevel" vector-effect="non-scaling-stroke"/>
<path transform="translate(135.000 0) scale(0.48104 0.5)" d="M0 1910 l1 51 1-55 1 47 1-50 1 45 1-50 1 46 1-41 1 35 1-37 1 35 1-46 1 56 1-56 1 45 1-46 1 42 1-42 1 37 1-49 1 44 1-49 1 54 1-57 1 49 1-51 1 48 1-46 1 40 1-47 1 45 1-41 1 41 1-35 1 30 1-28 1 34 1-36 1 34 1-34 1 35 1-38 1 44 1-49 1 57 1-56 1 50 1-49 1 46 1-45 1 52 1-51 1 52 1-45 1 48 1-51 1 58 1-52 1 57 1-41 1 44 1-44 1 43 1-38 1 43 1-37 1 45 1-45 1 53 1-51 1 49 1-50 1 56 1-46 1 46 1-43 1 47 1-43 1 48 1-49 1 47 1-48 1 51 1-43 1 48 1-42 1 56 1-45 1 49 1-42 1 33 1-37 1 44 1-38 1 39 1-45 1 48 1-39 1 45 1-41 1 43 1-45 1 44 1-36 1 44 1-35 1 40 1-40 1 42 1-45 1 50 1-44 1 57 1-47 1 44 1-39 1 39 1-33 1 36 1-38 1 47 1-49 1 62 1-56 1 53 1-46 1 49 1-42 1 39 1-31 1 34 1-30 1 43 1-41 1 48 1-47 1 50 1-47 1 48 1-41 1 57 1-47 1 51 1-55 1 68 1-68 1 60 1-46 1 46 1-35 1 36 1-31 1 45 1-48 1 54 1-57 1 60 1-49 1 44 1-36 1 46 1-44 1 45 1-37 1 34 1-35 1 30 1-30 1 34 1-29 1 30 1-33 1 38 1-41 1 47 1-45 1 46 1-39 1 37 1-36 1 40 1-46 1 58 1-41 1 42 1-46 1 41 1-43 1 46 1-49 1 59 1-54 1 49 1-37 1 49 1-53 1 59 1-60 1 52 1-49 1 47 1-49 1 49 1-42 1 55 1-63 1 65 1-58 1 49 1-43 1 36 1-32 1 42 1-41 1 43 1-43 1 52 1-49 1 46 1-42 1 39 1-32 1 42 1-42 1 47 1-46 1 37 1-34 1 27 1-30 1 34 1-40 1 50 1-45 1 58 1-58 1 49 1-46 1 43 1-39 1 36 1-43 1 51 1-60 1 65 1-57 1 56 1-48 1 58 1-65 1 57 1-52 1 45 1-42 1 41 1-40 1 48 1-37 1 39 1-32 1 41 1-42 1 36 1-33 1 29 1-35 1 40 1-45 1 55 1-55 1 58 1-61 1 55 1-48 1 41 1-52 1 51 1-38 1 45 1-50 1 61 1-58 1 52 1-45 1 40 1-41 1 36 1-43 1 43 1-46 1 58 1-55 1 64 1-54 1 49 1-41 1 34 1-46 1 50 1-38 1 56 1-57 1 56 1-65 1 54 1-53 1 52 1-42 1 55 1-42 1 35 1-37 1 47 1-51 1 55 1-57 1 50 1-58 1 53 1-55 1 70 1-61 1 59 1-46 1 41 1-34 1 33 1-37 1 37 1-32 1 30 1-33 1 30 1-27 1 26 1-27 1 21 1-18 1 19 1-20 1 21 1-18 1 22 1-22 1 22 1-32 1 33 1-44 1 43 1-32 1 33 1-39 1 39 1-32 1 33 1-20 1 21 1-24 1 26 1-27 1 25 1-30 1 33 1-31 1 28 1-24 1 25 1-22 1 28 1-27 1 39 1-54 1 62 1-59 1 62 1-54 1 43 1-41 1 48 1-53 1 51 1-52 1 42 1-36 1 35 1-29 1 28 1-34 1 34 1-28 1 33 1-29 1 29 1-28 1 34 1-42 1 51 1-49 1 49 1-40 1 33 1-36 1 30 1-37 1 31 1-39 1 45 1-53 1 51 1-38 1 35 1-28 1 37 1-40 1 45 1-43 1 40 1-35 1 34 1-36 1 33 1-40 1 41 1-49 1 53 1-43 1 43 1-33 1 32 1-27 1 25 1-28 1 29 1-29 1 42 1-41 1 36 1-36 1 28 1-30 1 37 1-46 1 48 1-56 1 49 1-37 1 34 1-29 1 32 1-33 1 39 1-37 1 30 1-28 1 23 1-25 1 25 1-30 1 28 1-31 1 34 1-38 1 40 1-32 1 41 1-47 1 44 1-49 1 43 1-45 1 43 1-36 1 37 1-33 1 33 1-43 1 45 1-43 1 54 1-52 1 59 1-57 1 59 1-56 1 44 1-47 1 34 1-53 1 17 1-88 1-13 1-97 1-12 1-35 1 51 1 17 1 97 1 19 1 70 1-6 1 37 1-27 1 32 1-39 1 40 1-34 1 35 1-43 1 42 1-44 1 46 1-33 1 36 1-24 1 25 1-21 1 18 1-20 1 23 1-30 1 29 1-27 1 27 1-22 1 23 1-19 1 20 1-18 1 16 1-16 1 16 1-14 1 17 1-23 1 40 1-50 1 57 1-57 1 49 1-36 1 30 1-27 1 26 1-26 1 32 1-45 1 57 1-67 1 60 1-57 1 44 1-51 1 52 1-43 1 53 1-53 1 60 1-56 1 52 1-50 1 38 1-47 1 41 1-30 1 31 1-26 1 33 1-43 1 43 1-47 1 58 1-63 1 67 1-66 1 63 1-61 1 50 1-39 1 36 1-50 1 48 1-44 1 40 1-29 1 29 1-37 1 33 1-45 1 45 1-35 1 39 1-36 1 45 1-48 1 55 1-46 1 36 1-26 1 38 1-40 1 37 1-38 1 38 1-43 1 38 1-46 1 51 1-51 1 45 1-44 1 52 1-48 1 53 1-46 1 32 1-27 1 24 1-26 1 19 1-21 1 19 1-25 1 26 1-35 1 35 1-29 1 29 1-29 1 28 1-39 1 42 1-39 1 39 1-30 1 28 1-26 1 25 1-22 1 25 1-33 1 32 1-29 1 40 1-40 1 51 1-58 1 62 1-59 1 49 1-64 1 38 1-61 1 17 1-62 1 18 1-38 1 35 1-9 1 60 1-8 1 46 1-14 1 39 1-30 1 38 1-38 1 35 1-37 1 42 1-47 1 48 1-53 1 48 1-51 1 44 1-39 1 31 1-29 1 42 1-33 1 41 1-37 1 23 1-23 1 19 1-22 1 34 1-42 1 45 1-54 1 62 1-67 1 63 1-52 1 60 1-53 1 45 1-57 1 54 1-55 1 68 1-60 1 47 1-52 1 52 1-48 1 51 1-40 1 43 1-53 1 45 1-47 1 46 1-47 1 54 1-62 1 58 1-40 1 48 1-58 1 58 1-56 1 42 1-43 1 43 1-33 1 40 1-36 1 34 1-35 1 44 1-52 1 45 1-40 1 29 1-28 1 30 1-32 1 31 1-30 1 30 1-31 1 32 1-31 1 40 1-36 1 46 1-40 1 33 1-37 1 33 1-43 1 56 1-56 1 58 1-51 1 50 1-43 1 46 1-43 1 23 1-23 1 18 1-17 1 17 1-33 1 34 1-39 1 38 1-21 1 20 1-21 1 22 1-26 1 27 1-25 1 26 1-21 1 19 1-20 1 22 1-28 1 35 1-44 1 53 1-62 1 69 1-60 1 52 1-40 1 42 1-34 1 37 1-45 1 37 1-48 1 50 1-54 1 52 1-43 1 32 1-30 1 37 1-37 1 39 1-40 1 36 1-36 1 33 1-37 1 36 1-26 1 24 1-35 1 42 1-35 1 37 1-32 1 31 1-39 1 51 1-60 1 65 1-53 1 44 1-49 1 51 1-53 1 60 1-62 1 59 1-46 1 38 1-33 1 26 1-21 1 16 1-18 1 18 1-16 1 15 1-27 1 27 1-36 1 40 1-46 1 53 1-45 1 54 1-45 1 38 1-35 1 28 1-29 1 24 1-39 1 40 1-39 1 40 1-47 1 44 1-33 1 40 1-29 1 45 1-38 1 42 1-43 1 39 1-39 1 28 1-27 1 36 1-37 1 41 1-42 1 30 1-29 1 38 1-38 1 41 1-41 1 30 1-30 1 17 1-36 1 49 1-49 1 63 1-57 1 40 1-56 1 62 1-46 1 57 1-50 1 39 1-46 1 34 1-38 1 52 1-52 1 59 1-53 1 37 1-33 1 41 1-50 1 51 1-56 1 53 1-43 1 35 1-35 1 44 1-46 1 53 1-49 1 51 1-46 1 36 1-36 1 37 1-52 1 58 1-66 1 62 1-49 1 39 1-27 1 24 1-24 1 31 1-37 1 44 1-54 1 50 1-43 1 39 1-33 1 28 1-28 1 38 1-38 1 49 1-48 1 40 1-51 1 40 1-48 1 48 1-48 1 56 1-48 1 59 1-50 1 46 1-38 1 29 1-33 1 40 1-51 1 43 1-52 1 49 1-36 1 31 1-21 1 22 1-22 1 29 1-34 1 41 1-52 1 45 1-49 1 60 1-52 1 52 1-64 1 60 1-58 1 66 1-60 1 52 1-64 1 54 1-47 1 37 1-27 1 27 1-19 1 19 1-17 1 19 1-30 1 32 1-37 1 43 1-42 1 46 1-41 1 40 1-39 1 44 1-38 1 48 1-61 1 53 1-60 1 61 1-57 1 63 1-50 1 39 1-34 1 33 1-32 1 41 1-47 1 34 1-43 1 46 1-53 1 66 1-69 1 53 1-44 1 33 1-33 1 37 1-36 1 42 1-36 1 41 1-51 1 59 1-53 1 36 1-45 1 38 1-40 1 42 1-32 1 35 1-27 1 39 1-50 1 61 1-72 1 63 1-57 1 57 1-50 1 53 1-47 1 36 1-49 1 48 1-52 1 61 1-48 1 53 1-45 1 35 1-30 1 41 1-46 1 35 1-43 1 29 1-35 1 36 1-26 1 29 1-22 1 26 1-37 1 40 1-48 1 42 1-50 1 55 1-44 1 55 1-44 1 31 1-26 1 16 1-16 1 17 1-24 1 24 1-32 1 31 1-28 1 27 1-32 1 33 1-29 1 29 1-29 1 39 1-44 1 54 1-60 1 52 1-48 1 48 1-48 1 55 1-50 1 43 1-34 1 23 1-30 1 30 1-27 1 33 1-26 1 28 1-25 1 21 1-33 1 29 1-38 1 37 1-31 1 34 1-38 1 42 1-41 1 61 1-52 1 39 1-49 1 52 1-43 1 48 1-45 1 47 1-48 1 40 1-39 1 35 1-41 1 56 1-59 1 43 1-30 1 20 1-29 1 38 1-49 1 53 1-53 1 61 1-49 1 45 1-51 1 47 1-52 1 47 1-34 1 52 1-45 1 40 1-40 1 39 1-37 1 36 1-44 1 34 1-44 1 37 1-42 1 44 1-34 1 43 1-56 1 62 1-60 1 49 1-47 1 39 1-73 1 52 1-48 1 46 1-53 1 48 1-42 1 56 1-32 1 51 1-32 1 43 1-40 1 40 1-49 1 49 1-43 1 49 1-42 1 34 1-30 1 20 1-17 1 16 1-17 1 17 1-22 1 22 1-25 1 33 1-35 1 38 1-34 1 32 1-29 1 42 1-45 1 49 1-57 1 47 1-48 1 53 1-52 1 56 1-56 1 56 1-57 1 52 1-46 1 42 1-39 1 39 1-33 1 29 1-36 1 31 1-32 1 33 1-35 1 30 1-25 1 31 1-34 1 39 1-35 1 26 1-24 1 30 1-33 1 40 1-42 1 46 1-50 1 40 1-35 1 26 1-27 1 24 1-36 1 37 1-40 1 42 1-26 1 23 1-15 1 18 1-17 1 21 1-25 1 30 1-35 1 37 1-45 1 44 1-41 1 45 1-52 1 49 1-48 1 39 1-37 1 40 1-51 1 63 1-54 1 64 1-55 1 47 1-39 1 31 1-28 1 22 1-28 1 28 1-32 1 29 1-34 1 39 1-44 1 46 1-38 1 41 1-34 1 31 1-40 1 37 1-50 1 59 1-55 1 65 1-54 1 37 1-43 1 37 1-42 1 39 1-30 1 38 1-33 1 44 1-39 1 32 1-30 1 25 1-23 1 26 1-26 1 31 1-32 1 30 1-30 1 23 1-24 1 17 1-25 1 28 1-42 1 58 1-52 1 45 1-36 1 27 1-29 1 27 1-35 1 40 1-39 1 44 1-39 1 52 1-48 1 45 1-58 1 46 1-43 1 36 1-28 1 26 1-40 1 40 1-35 1 47 1-44 1 52 1-57 1 68 1-61 1 47 1-43 1 44 1-35 1 30 1-40 1 36 1-45 1 46 1-39 1 37 1-28 1 38 1-33 1 40 1-48 1 47 1-52 1 43 1-46 1 49 1-45 1 47 1-46 1 39 1-44 1 41 1-47 1 58 1-59 1 48 1-39 1 36 1-27 1 40 1-40 1 46 1-50 1 51 1-47 1 44 1-39 1 33 1-35 1 29 1-35 1 25 1-35 1 42 1-48 1 60 1-58 1 50 1-42 1 43 1-38 1 35 1-40 1 39 1-50 1 52 1-51 1 52 1-42 1 38 1-44 1 42 1-42 1 42 1-35 1 32 1-37 1 36 1-33 1 36 1-36 1 39 1-42 1 38 1-34 1 32 1-44 1 41 1-36 1 41 1-41 1 49 1-47 1 51 1-40 1 40 1-38 1 29 1-28 1 32 1-33 1 27 1-29 1 25 1-30 1 32 1-32 1 31 1-35 1 33 1-40 1 45 1-26 1 33 1-29 1 22 1-21 1 19 1-21 1 30 1-32 1 38 1-39 1 42 1-40 1 33 1-32 1 32 1-31 1 27 1-34 1 30 1-40 1 44 1-50 1 57 1-48 1 57 1-45 1 38 1-34 1 43 1-41 1 31 1-36 1 20 1-24 1 26 1-31 1 33 1-31 1 34 1-29 1 24 1-27 1 27 1-37 1 28 1-41 1 37 1-61 1 55 1-68 1 43 1-49 1 71 1-61 1 74 1-42 1 70 1-45 1 48 1-59 1 58 1-50 1 64 1-71 1 65 1-51 1 43 1-51 1 58 1-60 1 67 1-61 1 54 1-48 1 53 1-63 1 70 1-61 1 50 1-40 1 34 1-31 1 41 1-48 1 42 1-41 1 46 1-43 1 51 1-54 1 46 1-43 1 60 1-49 1 48 1-51 1 44 1-47 1 56 1-62 1 65 1-59 1 58 1-52 1 44 1-49 1 42 1-56 1 54 1-39 1 43 1-35 1 39 1-42 1 47 1-42 1 34 1-45 1 42 1-42 1 47 1-36 1 49 1-54 1 45 1-51 1 39 1-31 1 35 1-32 1 40 1-31 1 38 1-39 1 31 1-39 1 32 1-45 1 55 1-48 1 56 1-59 1 59 1-57 1 48 1-46 1 36 1-37 1 33 1-36 1 37 1-30 1 28 1-37 1 37 1-44 1 40 1-39 1 46 1-50 1 56 1-63 1 57 1-41 1 30 1-26 1 30 1-31 1 35 1-34 1 34 1-35 1 38 1-35 1 39 1-46 1 48 1-46 1 45 1-33 1 39 1-33 1 42 1-54 1 50 1-45 1 35 1-31 1 30 1-42 1 47 1-51 1 59 1-45 1 38 1-28 1 24 1-23 1 23 1-20 1 26 1-27 1 20 1-21 1 27 1-27 1 38 1-38 1 33 1-32 1 28 1-27 1 37 1-40 1 49 1-57 1 47 1-60 1 52 1-51 1 39 1-26 1 27 1-31 1 31 1-36 1 44 1-33 1 43 1-44 1 50 1-59 1 53 1-57 1 49 1-39 1 34 1-29 1 37 1-46 1 49 1-58 1 61 1-54 1 50 1-43 1 29 1-21 1 27 1-28 1 38 1-45 1 52 1-47 1 43 1-39 1 49 1-53 1 42 1-55 1 52 1-43 1 52 1-39 1 37 1-39 1 27 1-27 1 23 1-24" fill="none" stroke="#ff0000" stroke-width="1.20" vector-effect="non-scaling-stroke"/>
<path transform="translate(135.000 0) scale(0.48104 0.5)" d="M0 1608 l1-2 1-2 1-2 1-1 1-2 1-2 1-1 1-2 1-2 1-1 1-1 1-2 1-1 1-1 1-1 1 0 1-1 1-1 1-1 1 0 1-1 1-1 1-1 1 0 1-1 1-1 1 0 1-1 1 0 1-1 1-1 1 0 1 0 1-1 1 0 1-1 1 0 1 0 1 0 1 0 1-1 1 0 1 0 1 1 1 0 1 1 1 0 1 1 1 1 1 2 1 1 1 1 1 2 1 1 1 2 1 2 1 2 1 2 1 2 1 1 1 2 1 2 1 2 1 2 1 2 1 2 1 1 1 2 1 1 1 2 1 2 1 2 1 1 1 2 1 2 1 2 1 2 1 2 1 1 1 2 1 2 1 2 1 2 1 2 1 2 1 2 1 2 1 2 1 2 1 2 1 1 1 2 1 2 1 2 1 2 1 2 1 1 1 2 1 2 1 2 1 2 1 1 1 2 1 2 1 2 1 1 1 2 1 2 1 2 1 1 1 2 1 2 1 2 1 1 1 2 1 2 1 2 1 1 1 2 1 2 1 1 1 2 1 2 1 2 1 1 1 2 1 2 1 1 1 2 1 2 1 1 1 2 1 2 1 2 1 1 1 2 1 2 1 1 1 2 1 1 1 2 1 2 1 1 1 2 1 1 1 1 1 2 1 1 1 2 1 1 1 1 1 2 1 1 1 1 1 2 1 1 1 1 1 1 1 2 1 1 1 1 1 1 1 1 1 2 1 1 1 1 1 1 1 1 1 1 1 1 1 1 1 2 1 1 1 1 1 1 1 1 1 1 1 1 1 0 1 1 1 1 1 1 1 1 1 1 1 1 1 1 1 0 1 1 1 1 1 1 1 1 1 1 1 0 1 1 1 1 1 1 1 1 1 1 1 0 1 1 1 1 1 1 1 1 1 1 1 0 1 1 1 1 1 1 1 1 1 1 1 1 1 1 1 0 1 1 1 1 1 1 1 1 1 1 1 0 1 1 1 1 1 1 1 1 1 0 1 1 1 1 1 1 1 0 1 1 1 1 1 0 1 1 1 1 1 0 1 1 1 1 1 0 1 1 1 0 1 1 1 1 1 0 1 1 1 0 1 1 1 1 1 0 1 1 1 1 1 0 1 1 1 1 1 0 1 1 1 1 1 1 1 0 1 1 1 1 1 1 1 1 1 0 1 1 1 1 1 1 1 1 1 1 1 1 1 1 1 1 1 0 1 1 1 1 1 1 1 1 1 1 1 1 1 1 1 1 1 1 1 0 1 1 1 1 1 1 1 1 1 1 1 0 1 1 1 1 1 1 1 0 1 1 1 1 1 0 1 1 1 0 1 1 1 0 1 1 1 0 1 1 1 0 1 1 1 0 1 1 1 0 1 0 1 1 1 0 1 0 1 1 1 0 1 1 1 0 1 0 1 1 1 0 1 0 1 1 1 0 1 0 1 1 1 0 1 0 1 1 1 0 1 0 1 0 1 1 1 0 1 0 1 1 1 0 1 0 1 0 1 1 1 0 1 0 1 0 1 1 1 0 1 0 1 0 1 1 1 0 1 0 1 0 1 1 1 0 1 0 1 0 1 1 1 0 1 0 1 0 1 0 1 1 1 0 1 0 1 0 1 1 1 0 1 0 1 0 1 1 1 0 1 0 1 0 1 0 1 1 1 0 1 0 1 0 1 0 1 1 1 0 1 0 1 0 1 0 1 1 1 0 1 0 1 0 1 0 1 0 1 1 1 0 1 0 1 0 1 0 1 1 1 0 1 0 1 0 1 0 1 0 1 1 1 0 1 0 1 0 1 0 1 0 1 1 1 0 1 0 1 0 1 0 1 1 1 0 1 0 1 0 1 0 1 0 1 1 1 0 1 0 1 0 1 0 1 1 1 0 1 0 1 0 1 0 1 0 1 1 1 0 1 0 1 0 1 1 1 0 1 0 1 0 1 0 1 1 1 0 1 0 1 0 1 1 1 0 1 0 1 0 1 1 1 0 1 0 1 0 1 1 1 0 1 0 1 0 1 1 1 0 1 0 1 0 1 0 1 1 1 0 1 0 1 0 1 1 1 0 1 0 1 0 1 0 1 1 1 0 1 0 1 0 1 0 1 1 1 0 1 0 1 0 1 0 1 1 1 0 1 0 1 0 1 0 1 0 1 0 1 1 1 0 1 0 1 0 1 0 1 0 1 0 1 0 1 0 1 0 1 1 1 0 1 0 1 0 1 0 1 0 1 0 1 0 1 0 1 0 1 0 1 0 1 0 1 0 1 1 1 0 1 0 1 0 1 0 1 0 1 0 1 0 1 0 1 0 1 0 1 0 1 0 1 0 1 0 1 0 1 0 1 0 1 0 1 0 1 1 1 0 1 0 1 0 1 0 1 0 1 0 1 0 1 0 1 0 1 0 1 0 1 0 1 0 1 0 1 0 1 0 1 0 1 1 1 0 1 0 1 0 1 0 1 0 1 0 1 0 1 0 1 0 1 0 1 0 1 0 1 0 1 1 1 0 1 0 1 0 1 0 1 0 1 0 1 0 1 0 1 0 1 0 1 0 1 0 1 1 1 0 1 0 1 0 1 0 1 0 1 0 1 0 1 0 1 0 1 0 1 0 1 0 1 1 1 0 1 0 1 0 1 0 1 0 1 0 1 0 1 0 1 0 1 0 1 0 1 1 1 0 1 0 1 0 1 0 1 0 1 0 1 0 1 0 1 0 1 0 1 1 1 0 1 0 1 0 1 0 1 0 1 0 1 0 1 0 1 0 1 0 1 1 1 0 1 0 1 0 1 0 1 0 1 0 1 0 1 0 1 0 1 1 1 0 1 0 1 0 1 0 1 0 1 0 1 0 1 0 1 0 1 1 1 0 1 0 1 0 1 0 1 0 1 0 1 0 1 0 1 0 1 1 1 0 1 0 1 0 1 0 1 0 1 0 1 0 1 0 1 1 1 0 1 0 1 0 1 0 1 0 1 0 1 0 1 0 1 1 1 0 1 0 1 0 1 0 1 0 1 0 1 0 1 1 1 0 1 0 1 0 1 0 1 0 1 0 1 0 1 0 1 1 1 0 1 0 1 0 1 0 1 0 1 0 1 1 1 0 1 0 1 0 1 0 1 0 1 0 1 1 1 0 1 0 1 0 1 0 1 1 1 0 1 0 1 0 1 0 1 1 1 0 1 0 1 0 1 0 1 1 1 0 1 0 1 0 1 1 1 0 1 0 1 0 1 0 1 1 1 0 1 0 1 0 1 1 1 0 1 0 1 0 1 1 1 0 1 0 1 0 1 1 1 0 1 0 1 0 1 1 1 0 1 0 1 0 1 1 1 0 1 0 1 0 1 1 1 0 1 0 1 0 1 1 1 0 1 0 1 0 1 1 1 0 1 0 1 0 1 1 1 0 1 0 1 0 1 0 1 1 1 0 1 0 1 0 1 1 1 0 1 0 1 0 1 0 1 1 1 0 1 0 1 0 1 0 1 0 1 1 1 0 1 0 1 0 1 0 1 1 1 0 1 0 1 0 1 0 1 0 1 0 1 1 1 0 1 0 1 0 1 0 1 0 1 0 1 0 1 0 1 0 1 1 1 0 1 0 1 0 1 0 1 0 1 0 1 0 1 0 1 0 1 0 1 0 1 0 1 0 1 0 1 0 1 0 1 0 1 0 1 0 1 0 1 0 1 0 1 0 1 0 1 0 1 0 1 0 1 0 1 0 1 0 1 0 1 0 1 0 1 0 1 0 1 0 1 0 1 0 1 0 1 0 1 0 1 0 1 0 1 0 1 0 1 0 1 0 1 0 1 0 1 0 1 0 1 0 1 0 1 0 1 0 1 0 1 0 1 0 1 0 1 0 1 0 1 0 1 0 1 0 1 0 1 0 1 0 1 0 1 0 1 0 1 0 1 0 1 0 1 0 1 0 1 0 1 0 1 0 1 0 1 0 1 0 1 0 1 0 1 0 1 0 1 0 1 0 1 0 1 0 1 0 1 0 1 0 1 0 1 0 1 0 1 0 1 0 1 0 1 0 1 0 1 0 1 0 1 0 1 0 1 0 1 0 1 0 1 0 1 0 1 0 1 0 1 0 1 0 1 0 1 0 1 0 1 0 1 0 1 0 1 0 1 0 1 0 1 0 1 0 1 0 1 0 1 0 1 0 1 0 1 0 1 0 1 0 1 0 1 0 1 0 1 0 1 0 1 0 1 0 1 0 1 0 1 0 1 0 1 0 1 0 1 0 1 0 1 0 1 0 1 0 1 0 1 0 1 0 1 0 1 0 1 0 1 0 1 0 1 0 1 0 1 0 1 0 1 0 1 0 1 0 1 0 1 0 1 0 1 0 1 0 1 0 1 0 1 0 1 0 1 0 1-1 1 0 1 0 1 0 1 0 1 0 1 0 1 0 1 0 1 0 1 0 1 0 1 0 1 0 1 0 1 0 1 0 1 0 1 0 1 0 1 0 1 0 1 0 1 0 1 0 1 0 1 0 1 0 1 0 1 0 1 0 1 0 1 0 1 0 1 0 1 0 1 0 1 0 1 0 1 0 1 0 1 0 1 0 1-1 1 0 1 0 1 0 1 0 1 0 1 0 1 0 1 0 1 0 1 0 1 0 1 0 1 0 1 0 1 0 1 0 1 0 1 0 1 0 1 0 1 0 1 0 1 0 1 0 1 0 1 0 1 0 1 0 1 0 1 0 1 0 1 0 1 0 1 0 1 0 1 0 1 0 1 0 1 0 1 0 1 0 1 0 1 0 1 0 1 0 1 0 1 0 1 0 1 0 1 0 1 0 1 0 1 0 1 0 1 0 1 0 1 0 1 0 1 0 1 0 1 0 1 0 1 0 1 0 1 0 1 0 1 0 1 0 1 0 1 0 1 0 1 0 1 0 1 0 1 0 1 0 1 0 1 0 1 0 1 0 1 0 1 0 1 0 1 0 1 0 1 0 1 0 1 0 1 0 1 0 1 0 1 0 1 0 1 0 1 0 1 0 1 0 1 0 1 1 1 0 1 0 1 0 1 0 1 0 1 0 1 0 1 0 1 0 1 0 1 0 1 0 1 0 1 0 1 0 1 0 1 0 1 0 1 0 1 0 1 0 1 0 1 0 1 0 1 0 1 0 1 0 1 0 1 0 1 0 1 0 1 0 1 0 1 0 1 0 1 0 1 0 1 0 1 0 1 0 1 0 1 0 1 0 1 0 1 0 1 0 1 0 1 1 1 0 1 0 1 0 1 0 1 0 1 0 1 0 1 0 1 0 1 0 1 0 1 0 1 0 1 0 1 0 1 0 1 0 1 0 1 0 1 0 1 0 1 0 1 0 1 0 1 0 1 0 1 0 1 0 1 0 1 0 1 0 1 1 1 0 1 0 1 0 1 0 1 0 1 0 1 0 1 0 1 0 1 0 1 0 1 0 1 0 1 0 1 1 1 0 1 0 1 0 1 0 1 0 1 0 1 0 1 0 1 0 1 0 1 0 1 1 1 0 1 0 1 0 1 0 1 0 1 0 1 0 1 0 1 0 1 0 1 1 1 0 1 0 1 0 1 0 1 0 1 0 1 0 1 0 1 1 1 0 1 0 1 0 1 0 1 0 1 0 1 0 1 0 1 1 1 0 1 0 1 0 1 0 1 0 1 0 1 0 1 0 1 1 1 0 1 0 1 0 1 0 1 0 1 0 1 0 1 0 1 1 1 0 1 0 1 0 1 0 1 0 1 0 1 0 1 1 1 0 1 0 1 0 1 0 1 0 1 0 1 0 1 0 1 1 1 0 1 0 1 0 1 0 1 0 1 0 1 0 1 0 1 1 1 0 1 0 1 0 1 0 1 0 1 0 1 0 1 0 1 0 1 1 1 0 1 0 1 0 1 0 1 0 1 0 1 0 1 0 1 0 1 0 1 1 1 0 1 0 1 0 1 0 1 0 1 0 1 0 1 0 1 0 1 0 1 0 1 1 1 0 1 0 1 0 1 0 1 0 1 0 1 0 1 0 1 0 1 0 1 0 1 0 1 1 1 0 1 0 1 0 1 0 1 0 1 0 1 0 1 0 1 0 1 0 1 0 1 0 1 1 1 0 1 0 1 0 1 0 1 0 1 0 1 0 1 0 1 0 1 0 1 0 1 0 1 0 1 1 1 0 1 0 1 0 1 0 1 0 1 0 1 0 1 0 1 0 1 0 1 0 1 0 1 0 1 1 1 0 1 0 1 0 1 0 1 0 1 0 1 0 1 0 1 0 1 0 1 0 1 0 1 0 1 1 1 0 1 0 1 0 1 0 1 0 1 0 1 0 1 0 1 0 1 0 1 0 1 0 1 0 1 1 1 0 1 0 1 0 1 0 1 0 1 0 1 0 1 0 1 0 1 0 1 0 1 0 1 1 1 0 1 0 1 0 1 0 1 0 1 0 1 0 1 0 1 0 1 0 1 0 1 0 1 1 1 0 1 0 1 0 1 0 1 0 1 0 1 0 1 0 1 0 1 0 1 0 1 1 1 0 1 0 1 0 1 0 1 0 1 0 1 0 1 0 1 0 1 0 1 0 1 1 1 0 1 0 1 0 1 0 1 0 1 0 1 0 1 0 1 0 1 0 1 0 1 1 1 0 1 0 1 0 1 0 1 0 1 0 1 0 1 0 1 0 1 0 1 1 1 0 1 0 1 0 1 0 1 0 1 0 1 0 1 0 1 0 1 0 1 0 1 1 1 0 1 0 1 0 1 0 1 0 1 0 1 0 1 0 1 0 1 0 1 1 1 0 1 0 1 0 1 0 1 0 1 0 1 0 1 0 1 0 1 0 1 1 1 0 1 0 1 0 1 0 1 0 1 0 1 0 1 0 1 0 1 1 1 0 1 0 1 0 1 0 1 0 1 0 1 0 1 0 1 0 1 1 1 0 1 0 1 0 1 0 1 0 1 0 1 0 1 0 1 0 1 1 1 0 1 0 1 0 1 0 1 0 1 0 1 0 1 0 1 0 1 1 1 0 1 0 1 0 1 0 1 0 1 0 1 0 1 0 1 1 1 0 1 0 1 0 1 0 1 0 1 0 1 0 1 0 1 1 1 0 1 0 1 0 1 0 1 0 1 0 1 0 1 1 1 0 1 0 1 0 1 0 1 0 1 0 1 1 1 0 1 0 1 0 1 0 1 0 1 0 1 1 1 0 1 0 1 0 1 0 1 0 1 0 1 1 1 0 1 0 1 0 1 0 1 0 1 0 1 1 1 0 1 0 1 0 1 0 1 0 1 1 1 0 1 0 1 0 1 0 1 0 1 0 1 1 1 0 1 0 1 0 1 0 1 0 1 1 1 0 1 0 1 0 1 0 1 0 1 0 1 1 1 0 1 0 1 0 1 0 1 0 1 0 1 1 1 0 1 0 1 0 1 0 1 0 1 0 1 1 1 0 1 0 1 0 1 0 1 0 1 0 1 1 1 0 1 0 1 0 1 0 1 0 1 0 1 0 1 1 1 0 1 0 1 0 1 0 1 0 1 0 1 0 1 1 1 0 1 0 1 0 1 0 1 0 1 0 1 0 1 0 1 0 1 1 1 0 1 0 1 0 1 0 1 0 1 0 1 0 1 0 1 0 1 0 1 1 1 0 1 0 1 0 1 0 1 0 1 0 1 0 1 0 1 0 1 0 1 0 1 0 1 1 1 0 1 0 1 0 1 0 1 0 1 0 1 0 1 0 1 0 1 0 1 0 1 0 1 0 1 1 1 0 1 0 1 0 1 0 1 0 1 0 1 0 1 0 1 0 1 0 1 0 1 0 1 0 1 0 1 0 1 0 1 1 1 0 1 0 1 0 1 0 1 0 1 0 1 0 1 0 1 0 1 0" fill="none" stroke="#0000ff" stroke-width="5.00" stroke-linejoin="bevel" vector-effect="non-scaling-stroke"/>
<path transform="translate(135.000 0) scale(0.48104 0.5)" d="M0 1587 l1 39 1-48 1 48 1-53 1 52 1-54 1 54 1-59 1 52 1-58 1 51 1-44 1 42 1-41 1 42 1-39 1 35 1-42 1 40 1-47 1 54 1-58 1 54 1-49 1 42 1-38 1 35 1-38 1 37 1-44 1 42 1-37 1 33 1-39 1 36 1-37 1 38 1-38 1 39 1-39 1 45 1-40 1 40 1-38 1 37 1-36 1 33 1-35 1 37 1-36 1 43 1-42 1 47 1-48 1 52 1-47 1 56 1-47 1 49 1-49 1 53 1-53 1 58 1-52 1 54 1-45 1 50 1-51 1 53 1-54 1 54 1-49 1 56 1-52 1 57 1-51 1 52 1-48 1 56 1-53 1 48 1-47 1 54 1-54 1 58 1-51 1 56 1-47 1 49 1-51 1 55 1-57 1 56 1-42 1 43 1-38 1 43 1-40 1 42 1-38 1 46 1-39 1 40 1-38 1 40 1-37 1 41 1-46 1 45 1-37 1 42 1-28 1 38 1-39 1 43 1-44 1 46 1-40 1 45 1-51 1 53 1-44 1 53 1-45 1 47 1-43 1 48 1-46 1 44 1-38 1 46 1-37 1 49 1-60 1 60 1-58 1 58 1-56 1 59 1-56 1 48 1-53 1 55 1-39 1 49 1-37 1 44 1-47 1 51 1-47 1 50 1-50 1 52 1-57 1 55 1-44 1 50 1-63 1 64 1-48 1 48 1-49 1 51 1-45 1 44 1-55 1 60 1-46 1 47 1-38 1 36 1-30 1 31 1-39 1 59 1-59 1 53 1-51 1 40 1-35 1 37 1-28 1 35 1-29 1 37 1-41 1 41 1-50 1 51 1-54 1 62 1-55 1 56 1-51 1 45 1-48 1 47 1-39 1 37 1-28 1 31 1-28 1 35 1-42 1 46 1-53 1 48 1-49 1 52 1-40 1 41 1-44 1 49 1-49 1 54 1-46 1 52 1-54 1 67 1-66 1 57 1-56 1 50 1-49 1 47 1-44 1 47 1-44 1 55 1-53 1 47 1-52 1 50 1-47 1 59 1-61 1 69 1-63 1 55 1-47 1 40 1-31 1 27 1-25 1 27 1-25 1 24 1-24 1 32 1-30 1 33 1-31 1 35 1-34 1 37 1-37 1 29 1-38 1 46 1-53 1 63 1-55 1 66 1-61 1 53 1-51 1 43 1-48 1 49 1-43 1 57 1-52 1 53 1-45 1 43 1-48 1 43 1-48 1 51 1-38 1 44 1-45 1 49 1-57 1 63 1-53 1 57 1-60 1 51 1-50 1 61 1-49 1 42 1-46 1 39 1-49 1 53 1-45 1 48 1-36 1 30 1-23 1 28 1-29 1 39 1-36 1 42 1-43 1 36 1-39 1 47 1-53 1 52 1-58 1 52 1-49 1 43 1-37 1 45 1-40 1 45 1-52 1 53 1-44 1 36 1-42 1 45 1-54 1 58 1-53 1 51 1-38 1 38 1-33 1 34 1-37 1 33 1-36 1 36 1-48 1 50 1-48 1 53 1-38 1 46 1-40 1 34 1-34 1 28 1-30 1 30 1-27 1 28 1-26 1 25 1-31 1 31 1-34 1 44 1-41 1 50 1-46 1 34 1-33 1 44 1-43 1 26 1-23 1 37 1-40 1 44 1-50 1 38 1-47 1 49 1-40 1 50 1-57 1 50 1-41 1 35 1-32 1 33 1-28 1 25 1-26 1 34 1-30 1 29 1-29 1 25 1-30 1 42 1-47 1 51 1-44 1 30 1-28 1 20 1-17 1 25 1-30 1 41 1-52 1 48 1-56 1 46 1-39 1 36 1-33 1 36 1-41 1 43 1-32 1 41 1-45 1 41 1-41 1 37 1-32 1 30 1-38 1 37 1-45 1 45 1-37 1 43 1-34 1 39 1-32 1 36 1-34 1 35 1-32 1 26 1-25 1 21 1-21 1 29 1-39 1 54 1-68 1 60 1-54 1 47 1-31 1 42 1-43 1 36 1-47 1 55 1-63 1 49 1-41 1 47 1-44 1 46 1-49 1 42 1-42 1 45 1-36 1 42 1-40 1 45 1-51 1 54 1-43 1 49 1-52 1 33 1-37 1 39 1-34 1 40 1-51 1 57 1-47 1 43 1-33 1 35 1-37 1 42 1-51 1 50 1-47 1 42 1-39 1 49 1-57 1 49 1-46 1 42 1-38 1 27 1-32 1 31 1-40 1 43 1-47 1 50 1-39 1 44 1-47 1 51 1-40 1 41 1-52 1 57 1-61 1 57 1-56 1 55 1-46 1 45 1-51 1 43 1-46 1 56 1-50 1 58 1-56 1 49 1-57 1 59 1-54 1 53 1-47 1 48 1-51 1 44 1-45 1 38 1-47 1 43 1-30 1 31 1-31 1 31 1-31 1 29 1-37 1 39 1-36 1 36 1-32 1 30 1-24 1 24 1-37 1 40 1-36 1 48 1-40 1 49 1-46 1 41 1-40 1 40 1-42 1 46 1-48 1 47 1-55 1 53 1-53 1 46 1-49 1 46 1-39 1 38 1-50 1 48 1-37 1 47 1-39 1 46 1-43 1 33 1-34 1 25 1-27 1 25 1-19 1 19 1-28 1 30 1-33 1 31 1-37 1 38 1-33 1 33 1-25 1 35 1-28 1 35 1-43 1 33 1-40 1 44 1-55 1 60 1-53 1 60 1-49 1 51 1-64 1 55 1-48 1 54 1-51 1 48 1-43 1 40 1-42 1 41 1-45 1 52 1-48 1 43 1-35 1 22 1-19 1 20 1-19 1 23 1-22 1 39 1-40 1 33 1-44 1 35 1-45 1 42 1-44 1 48 1-34 1 47 1-43 1 39 1-47 1 41 1-43 1 51 1-46 1 40 1-37 1 36 1-39 1 45 1-59 1 70 1-64 1 56 1-50 1 42 1-45 1 44 1-53 1 51 1-41 1 35 1-26 1 26 1-18 1 20 1-22 1 22 1-29 1 29 1-36 1 37 1-45 1 44 1-31 1 42 1-42 1 43 1-39 1 45 1-40 1 36 1-32 1 25 1-31 1 27 1-36 1 36 1-40 1 38 1-30 1 32 1-21 1 26 1-25 1 35 1-33 1 27 1-26 1 19 1-28 1 29 1-39 1 37 1-29 1 30 1-20 1 25 1-22 1 31 1-34 1 45 1-47 1 43 1-49 1 39 1-40 1 45 1-49 1 45 1-49 1 65 1-68 1 63 1-51 1 41 1-37 1 30 1-31 1 32 1-29 1 31 1-36 1 41 1-45 1 44 1-38 1 44 1-35 1 46 1-42 1 43 1-52 1 44 1-52 1 41 1-43 1 48 1-36 1 38 1-27 1 25 1-23 1 17 1-19 1 25 1-24 1 26 1-26 1 30 1-28 1 35 1-34 1 45 1-45 1 36 1-37 1 25 1-23 1 19 1-20 1 27 1-30 1 42 1-53 1 58 1-67 1 57 1-52 1 43 1-44 1 39 1-26 1 26 1-22 1 33 1-38 1 49 1-44 1 43 1-36 1 22 1-27 1 20 1-32 1 39 1-49 1 59 1-51 1 55 1-53 1 48 1-52 1 62 1-56 1 50 1-45 1 40 1-46 1 42 1-43 1 40 1-30 1 33 1-26 1 21 1-34 1 31 1-40 1 58 1-56 1 56 1-59 1 44 1-36 1 34 1-44 1 55 1-50 1 47 1-43 1 35 1-29 1 29 1-31 1 28 1-42 1 49 1-35 1 41 1-39 1 37 1-30 1 29 1-33 1 39 1-57 1 61 1-49 1 51 1-57 1 54 1-55 1 62 1-62 1 55 1-61 1 50 1-41 1 43 1-33 1 40 1-33 1 46 1-52 1 46 1-61 1 60 1-65 1 54 1-44 1 33 1-28 1 30 1-22 1 20 1-19 1 20 1-17 1 17 1-18 1 23 1-22 1 31 1-31 1 24 1-26 1 24 1-35 1 40 1-45 1 51 1-47 1 47 1-53 1 51 1-55 1 52 1-39 1 32 1-33 1 41 1-45 1 55 1-50 1 48 1-43 1 31 1-36 1 42 1-53 1 45 1-40 1 33 1-22 1 24 1-21 1 32 1-31 1 39 1-39 1 37 1-37 1 27 1-36 1 30 1-36 1 33 1-34 1 37 1-30 1 32 1-32 1 31 1-47 1 48 1-31 1 38 1-42 1 54 1-48 1 44 1-39 1 32 1-33 1 23 1-25 1 23 1-26 1 25 1-20 1 32 1-28 1 43 1-44 1 35 1-33 1 32 1-40 1 42 1-45 1 44 1-43 1 49 1-46 1 41 1-43 1 45 1-55 1 60 1-72 1 69 1-65 1 55 1-46 1 37 1-34 1 36 1-38 1 52 1-52 1 52 1-50 1 46 1-45 1 39 1-48 1 55 1-51 1 45 1-37 1 40 1-46 1 49 1-46 1 38 1-46 1 46 1-45 1 40 1-32 1 26 1-19 1 20 1-15 1 16 1-18 1 17 1-19 1 19 1-17 1 19 1-21 1 30 1-28 1 33 1-32 1 33 1-35 1 29 1-30 1 22 1-19 1 32 1-37 1 47 1-52 1 47 1-53 1 39 1-42 1 47 1-46 1 43 1-38 1 29 1-25 1 24 1-26 1 33 1-43 1 61 1-59 1 44 1-45 1 43 1-35 1 35 1-39 1 35 1-29 1 24 1-28 1 32 1-37 1 39 1-34 1 35 1-41 1 49 1-55 1 58 1-43 1 52 1-46 1 47 1-56 1 45 1-50 1 60 1-54 1 50 1-49 1 55 1-52 1 40 1-48 1 40 1-42 1 34 1-28 1 28 1-28 1 31 1-29 1 28 1-18 1 31 1-33 1 33 1-34 1 24 1-20 1 18 1-19 1 22 1-24 1 25 1-25 1 19 1-17 1 19 1-21 1 21 1-28 1 27 1-33 1 32 1-29 1 29 1-19 1 21 1-20 1 19 1-18 1 18 1-19 1 18 1-17 1 19 1-17 1 14 1-16 1 20 1-21 1 24 1-21 1 23 1-27 1 29 1-31 1 36 1-42 1 48 1-43 1 40 1-35 1 21 1-20 1 20 1-27 1 36 1-46 1 47 1-40 1 52 1-58 1 53 1-57 1 50 1-36 1 37 1-45 1 32 1-43 1 43 1-34 1 37 1-24 1 33 1-29 1 18 1-21 1 27 1-35 1 40 1-56 1 55 1-54 1 56 1-45 1 54 1-54 1 50 1-59 1 52 1-53 1 49 1-39 1 48 1-57 1 58 1-56 1 59 1-58 1 64 1-52 1 40 1-33 1 22 1-20 1 18 1-26 1 24 1-32 1 41 1-48 1 51 1-53 1 49 1-40 1 36 1-29 1 36 1-36 1 37 1-34 1 31 1-28 1 26 1-41 1 53 1-53 1 65 1-48 1 41 1-57 1 55 1-50 1 48 1-46 1 40 1-38 1 36 1-34 1 35 1-46 1 49 1-55 1 64 1-57 1 61 1-58 1 47 1-49 1 40 1-30 1 28 1-35 1 41 1-39 1 49 1-44 1 48 1-39 1 31 1-37 1 35 1-44 1 38 1-42 1 37 1-31 1 31 1-28 1 30 1-33 1 30 1-29 1 36 1-28 1 34 1-32 1 34 1-42 1 48 1-56 1 49 1-42 1 37 1-30 1 27 1-25 1 23 1-25 1 26 1-33 1 43 1-37 1 48 1-37 1 29 1-30 1 24 1-31 1 24 1-30 1 32 1-30 1 28 1-22 1 27 1-31 1 37 1-47 1 53 1-44 1 46 1-37 1 31 1-28 1 22 1-25 1 20 1-24 1 24 1-26 1 28 1-29 1 32 1-37 1 40 1-43 1 48 1-45 1 48 1-51 1 45 1-52 1 49 1-44 1 54 1-53 1 57 1-55 1 55 1-51 1 51 1-44 1 55 1-48 1 34 1-34 1 31 1-35 1 41 1-56 1 58 1-60 1 51 1-34 1 38 1-32 1 28 1-27 1 24 1-25 1 19 1-22 1 21 1-26 1 26 1-26 1 35 1-53 1 66 1-54 1 44 1-31 1 22 1-20 1 19 1-26 1 46 1-53 1 51 1-57 1 62 1-68 1 67 1-65 1 57 1-58 1 68 1-61 1 53 1-49 1 49 1-37 1 44 1-56 1 55 1-66 1 55 1-40 1 39 1-33 1 31 1-24 1 19 1-18 1 17 1-20 1 21 1-21 1 22 1-29 1 40 1-52 1 59 1-51 1 48 1-39 1 34 1-46 1 40 1-51 1 59 1-50 1 41 1-31 1 27 1-30 1 31 1-28 1 28 1-36 1 36 1-32 1 31 1-21 1 24 1-22 1 27 1-27 1 34 1-31 1 37 1-37 1 34 1-34 1 22 1-26 1 33 1-41 1 49 1-49 1 43 1-35 1 29 1-33 1 28 1-33 1 31 1-22 1 28 1-33 1 46 1-49 1 57 1-68 1 60 1-63 1 54 1-40 1 30 1-25 1 24 1-29 1 33 1-27 1 26 1-35 1 34 1-29 1 35 1-33 1 32 1-39 1 41 1-33 1 37 1-31 1 37 1-36 1 36 1-51 1 47 1-55 1 45 1-30 1 31 1-32 1 31 1-37 1 37 1-32 1 32 1-38 1 46 1-42 1 55 1-59 1 63 1-69 1 65 1-54 1 51 1-56 1 64 1-51 1 46 1-50 1 43 1-45 1 35 1-30 1 28 1-24 1 38 1-39 1 50 1-58 1 45 1-49 1 57 1-59 1 52 1-42 1 38 1-32 1 25 1-20 1 29 1-29 1 33 1-50 1 46 1-49 1 41 1-22 1 27 1-29 1 38 1-42 1 56 1-59 1 48 1-45 1 49 1-46 1 35 1-48 1 52 1-37 1 32 1-38 1 43 1-52 1 45 1-49 1 49 1-39 1 36 1-27 1 26 1-18 1 17 1-16 1 15 1-20 1 21 1-19 1 21 1-27 1 33 1-37 1 39 1-39 1 39 1-49 1 57 1-60 1 71 1-63 1 54 1-44 1 50 1-53 1 48 1-43 1 32 1-49 1 50 1-51 1 56 1-43 1 40 1-54 1 56 1-41 1 38 1-25 1 19 1-18 1 17 1-31 1 40 1-47 1 56 1-43 1 37 1-28 1 22 1-28 1 36 1-37 1 29 1-33 1 28 1-34 1 34 1-36 1 35 1-35 1 49 1-44 1 55 1-45 1 47 1-57 1 44 1-52 1 41 1-36 1 42 1-40 1 49 1-45 1 46 1-33 1 35 1-36 1 46 1-43 1 40 1-41 1 32 1-37 1 34 1-44 1 54 1-49 1 55 1-56 1 50 1-53 1 54 1-51 1 56 1-48 1 32 1-27 1 26 1-30 1 44 1-49 1 43 1-46 1 44 1-42 1 45 1-39 1 39 1-38 1 47 1-43 1 41 1-40 1 31 1-28 1 23 1-24 1 29 1-29 1 24 1-24 1 20 1-19 1 20 1-21 1 27 1-38 1 45 1-57 1 57 1-51 1 44 1-27 1 28 1-35 1 42 1-51 1 53 1-62 1 56 1-48 1 50 1-44 1 50 1-51 1 49 1-60 1 56 1-55 1 44 1-34 1 41 1-36 1 46 1-40 1 31 1-28 1 29 1-28 1 34 1-34 1 32 1-32 1 30 1-29 1 37 1-36 1 32 1-31 1 25 1-32 1 31 1-44 1 54 1-57 1 67 1-61 1 55 1-53 1 44 1-38 1 30 1-28 1 25 1-30 1 37 1-37 1 42 1-46 1 46 1-42 1 40 1-35" fill="none" stroke="#0000ff" stroke-width="1.20" vector-effect="non-scaling-stroke"/>
<path transform="translate(135.000 0) scale(0.48104 0.5)" d="M0 1439 l1-1 1-1 1-1 1-1 1-2 1-1 1-1 1-1 1-1 1-1 1-1 1-1 1 0 1-1 1-1 1-1 1 0 1-1 1-1 1-1 1-1 1 0 1-1 1-1 1-1 1 0 1-1 1-1 1 0 1-1 1-1 1 0 1-1 1 0 1-1 1 0 1 0 1-1 1 0 1 0 1 0 1 0 1 0 1 0 1 0 1 1 1 1 1 0 1 1 1 1 1 2 1 1 1 1 1 2 1 1 1 2 1 2 1 1 1 2 1 2 1 1 1 2 1 2 1 1 1 2 1 1 1 2 1 1 1 2 1 1 1 2 1 1 1 2 1 1 1 2 1 1 1 2 1 2 1 1 1 2 1 2 1 1 1 2 1 1 1 2 1 2 1 1 1 2 1 2 1 1 1 2 1 1 1 2 1 1 1 2 1 2 1 1 1 1 1 2 1 1 1 2 1 1 1 2 1 1 1 1 1 2 1 1 1 1 1 2 1 1 1 2 1 1 1 1 1 2 1 1 1 2 1 1 1 2 1 1 1 2 1 2 1 1 1 2 1 2 1 1 1 2 1 2 1 2 1 2 1 2 1 2 1 2 1 2 1 3 1 2 1 2 1 2 1 2 1 2 1 2 1 2 1 2 1 2 1 1 1 2 1 2 1 1 1 2 1 1 1 2 1 1 1 1 1 1 1 2 1 1 1 1 1 1 1 2 1 1 1 1 1 1 1 1 1 1 1 1 1 1 1 1 1 1 1 1 1 2 1 1 1 1 1 1 1 1 1 1 1 1 1 1 1 1 1 1 1 1 1 2 1 1 1 1 1 1 1 1 1 1 1 1 1 1 1 1 1 2 1 1 1 1 1 1 1 1 1 1 1 1 1 1 1 0 1 1 1 1 1 1 1 1 1 1 1 0 1 1 1 1 1 1 1 0 1 1 1 1 1 1 1 0 1 1 1 1 1 0 1 1 1 1 1 0 1 1 1 1 1 0 1 1 1 0 1 1 1 0 1 1 1 0 1 0 1 1 1 0 1 0 1 1 1 0 1 0 1 1 1 0 1 0 1 0 1 1 1 0 1 0 1 0 1 0 1 0 1 0 1-1 1-1 1-2 1-2 1-3 1-4 1-4 1-4 1-3 1-2 1 0 1 1 1 3 1 3 1 5 1 5 1 4 1 4 1 3 1 2 1 2 1 1 1 1 1 1 1 0 1 1 1 0 1 1 1 0 1 1 1 0 1 1 1 0 1 0 1 1 1 0 1 1 1 0 1 1 1 0 1 1 1 0 1 1 1 0 1 0 1 1 1 0 1 1 1 0 1 1 1 0 1 0 1 1 1 0 1 1 1 0 1 0 1 1 1 0 1 0 1 1 1 0 1 1 1 0 1 0 1 1 1 0 1 0 1 1 1 0 1 0 1 1 1 0 1 0 1 1 1 0 1 0 1 1 1 0 1 0 1 1 1 0 1 0 1 1 1 0 1 0 1 1 1 0 1 0 1 0 1 1 1 0 1 0 1 1 1 0 1 0 1 1 1 0 1 0 1 1 1 0 1 0 1 1 1 0 1 0 1 0 1 1 1 0 1 0 1 1 1 0 1 0 1 1 1 0 1 0 1 1 1 0 1 0 1 0 1 1 1 0 1 0 1 1 1 0 1 0 1 1 1 0 1 0 1 0 1 1 1 0 1-1 1 0 1-2 1-2 1-4 1-5 1-7 1-8 1-11 1-11 1-12 1-10 1-9 1-5 1-2 1 2 1 6 1 9 1 12 1 12 1 12 1 11 1 9 1 8 1 5 1 4 1 3 1 2 1 2 1 0 1 1 1 1 1 0 1 0 1 1 1 0 1 0 1 0 1 1 1 0 1 0 1 1 1 0 1 0 1 0 1 1 1 0 1 0 1 0 1 1 1 0 1 0 1 0 1 1 1 0 1 0 1 0 1 1 1 0 1 0 1 1 1 0 1 0 1 0 1 1 1 0 1 0 1 0 1 1 1 0 1 0 1 0 1 1 1 0 1 0 1 0 1 1 1 0 1 0 1 0 1 0 1 1 1 0 1 0 1 0 1 1 1 0 1 0 1 0 1 0 1 1 1 0 1 0 1 0 1 1 1 0 1 0 1 0 1 0 1 0 1 1 1 0 1 0 1 0 1 1 1 0 1 0 1 0 1 0 1 0 1 0 1-2 1-4 1-11 1-22 1-37 1-50 1-54 1-43 1-16 1 17 1 43 1 55 1 50 1 37 1 22 1 12 1 5 1 2 1 1 1 0 1 0 1 0 1 1 1 0 1 0 1 0 1 0 1 1 1 0 1 0 1 0 1 0 1 0 1 1 1 0 1 0 1 0 1 0 1 0 1 0 1 1 1 0 1 0 1 0 1 0 1 0 1 0 1 0 1 0 1 1 1 0 1 0 1 0 1 0 1 0 1 0 1 0 1 0 1 0 1 0 1 0 1 0 1 0 1 0 1 0 1 0 1 0 1 0 1 0 1 0 1 0 1 0 1 0 1 0 1 0 1 0 1 0 1 0 1 0 1 0 1 0 1 0 1 0 1 0 1 0 1-1 1 0 1 0 1 0 1 0 1 0 1 0 1 0 1 0 1 0 1 0 1 0 1 0 1 0 1 0 1 0 1 0 1 0 1 0 1 0 1 0 1 0 1 0 1 0 1 0 1 0 1 0 1-1 1 0 1 0 1 0 1 0 1 0 1 0 1 0 1 0 1 0 1 0 1 0 1 0 1 0 1 0 1 0 1 0 1 0 1 0 1 0 1 0 1 0 1 0 1 0 1 0 1 0 1 0 1 0 1 0 1 0 1 0 1 0 1 0 1 0 1 0 1 0 1 0 1 0 1 0 1 0 1 1 1 0 1 0 1 0 1 0 1 0 1 0 1 0 1 0 1 0 1 0 1-1 1-3 1-7 1-12 1-18 1-22 1-21 1-13 1 0 1 13 1 21 1 23 1 18 1 12 1 7 1 3 1 2 1 0 1 0 1 1 1 0 1 0 1 0 1 0 1 0 1 1 1 0 1 0 1 0 1 0 1 0 1 0 1 1 1 0 1 0 1 0 1 0 1 0 1 1 1 0 1 0 1 0 1 0 1 0 1 1 1 0 1 0 1 0 1 0 1 0 1 0 1 1 1 0 1 0 1 0 1 0 1 0 1 1 1 0 1 0 1 0 1 0 1 0 1 1 1 0 1 0 1 0 1 0 1 0 1 1 1 0 1 0 1 0 1 0 1 0 1 0 1 1 1 0 1 0 1 0 1 0 1 0 1 0 1 1 1 0 1 0 1 0 1 0 1 0 1 0 1 1 1 0 1 0 1 0 1 0 1 0 1 0 1 0 1 0 1 1 1 0 1 0 1 0 1 0 1 0 1 0 1 0 1 0 1 1 1 0 1 0 1 0 1 0 1 0 1 0 1 0 1 1 1 0 1 0 1 0 1 0 1 0 1 0 1 0 1 1 1 0 1 0 1 0 1 0 1 0 1 0 1 0 1 1 1 0 1 0 1 0 1 0 1 0 1 0 1 0 1 0 1 1 1 0 1 0 1 0 1 0 1 0 1 0 1 0 1 0 1 1 1 0 1 0 1 0 1 0 1 0 1 0 1 0 1 0 1 0 1 1 1 0 1 0 1 0 1 0 1 0 1 0 1 0 1 0 1 0 1 0 1 0 1 0 1 1 1 0 1 0 1 0 1 0 1 0 1 0 1 0 1 0 1 0 1 0 1 0 1 0 1 0 1 0 1 0 1 0 1 0 1 0 1 0 1 0 1 0 1 0 1 0 1 0 1 0 1 0 1 0 1 0 1 0 1 0 1 0 1 0 1 0 1 0 1 0 1 0 1 0 1 0 1 0 1 0 1 0 1 0 1 0 1 0 1 0 1 0 1 0 1 0 1 0 1 0 1 0 1 0 1 0 1 0 1 0 1 0 1 0 1 0 1 0 1 0 1 0 1 0 1 0 1 0 1 0 1 0 1 0 1 0 1 0 1 0 1 0 1 0 1 0 1 0 1 0 1 0 1 0 1 0 1 0 1 0 1 0 1 0 1 0 1 0 1 0 1 0 1-1 1 0 1 0 1 0 1-1 1-1 1 0 1-1 1-1 1-2 1-1 1-2 1-1 1-2 1-1 1-2 1-1 1-1 1-1 1-1 1 0 1 0 1 1 1 1 1 1 1 1 1 2 1 1 1 2 1 1 1 2 1 1 1 2 1 1 1 1 1 0 1 1 1 1 1 0 1 0 1 0 1 1 1 0 1 0 1 0 1 0 1 0 1 0 1 0 1 0 1 0 1 0 1 0 1 0 1 0 1 0 1 0 1 0 1 0 1 0 1 0 1 0 1 0 1 0 1 0 1 0 1 0 1 0 1 0 1 0 1 0 1 0 1 0 1 0 1 0 1 0 1 0 1 0 1 0 1 0 1 0 1 0 1 0 1 0 1 0 1 0 1 0 1 0 1 0 1 0 1 0 1 0 1 0 1 0 1 0 1 0 1 0 1 0 1 0 1 0 1 0 1 0 1 0 1 0 1 0 1 0 1 0 1 0 1 0 1 0 1 0 1 0 1 0 1 0 1 0 1 0 1 1 1 0 1 0 1 0 1 0 1 0 1 0 1 0 1 0 1 0 1 0 1 0 1 0 1 0 1 0 1 0 1 0 1 0 1 0 1 0 1 0 1 0 1 0 1 0 1 0 1 0 1 0 1 0 1 1 1 0 1 0 1 0 1 0 1-1 1 0 1-1 1-1 1-1 1-3 1-4 1-5 1-6 1-8 1-7 1-7 1-5 1-2 1 0 1 2 1 6 1 6 1 8 1 7 1 6 1 6 1 4 1 2 1 2 1 1 1 1 1 0 1 1 1 0 1 0 1 0 1 0 1 0 1 0 1 0 1 0 1 0 1 0 1 0 1 0 1 0 1 0 1 0 1 0 1 0 1 0 1 0 1 0 1 0 1 0 1 0 1 0 1 0 1 0 1 0 1 0 1 0 1 0 1 0 1 0 1 0 1 0 1 0 1 0 1 0 1 0 1 0 1 0 1 0 1 0 1 0 1 0 1 0 1-1 1 0 1 0 1 0 1 0 1 0 1 0 1 0 1 0 1 0 1-1 1 0 1 0 1 0 1 0 1 0 1 0 1 0 1-1 1 0 1 0 1 0 1 0 1 0 1 0 1 0 1-1 1 0 1 0 1 0 1 0 1 0 1 0 1-1 1 0 1 0 1 0 1 0 1 0 1 0 1 0 1-1 1 0 1 0 1 0 1 0 1 0 1 0 1-1 1-1 1-2 1-3 1-5 1-6 1-7 1-7 1-5 1-2 1 2 1 5 1 7 1 7 1 6 1 5 1 3 1 1 1 1 1 1 1 0 1 0 1 0 1 0 1 0 1 0 1 0 1 0 1 0 1 0 1 0 1 0 1 0 1 0 1 0 1 0 1 0 1 0 1 0 1 0 1 0 1 0 1 0 1 0 1 0 1 0 1 0 1 0 1 0 1 1 1 0 1 0 1 0 1 0 1 0 1 0 1 0 1 0 1 0 1 0 1 0 1 0 1 0 1 0 1 0 1 0 1 0 1 0 1 0 1 0 1 0 1 0 1 0 1 0 1 0 1 0 1 0 1 1 1 0 1 0 1 0 1 0 1 0 1 0 1 0 1 0 1 0 1 0 1 0 1 0 1 0 1 0 1 0 1 0 1 0 1 0 1 0 1 0 1 0 1 0 1 1 1 0 1 0 1 0 1 0 1 0 1 0 1 0 1 0 1 0 1 0 1 0 1 0 1 0 1 0 1 0 1 0 1 0 1 0 1 0 1 0 1 0 1 0 1 0 1 0 1 1 1 0 1 0 1 0 1 0 1 0 1 0 1 0 1 0 1 0 1 0 1 0 1 0 1 0 1 0 1 0 1 0 1 0 1 0 1 0 1 0 1 0 1 0 1 0 1 0 1 0 1 0 1 0 1 0 1 0 1 0 1 0 1 0 1 1 1 0 1 0 1 0 1 0 1 0 1 0 1 0 1 0 1 0 1 0 1 0 1 0 1 0 1 0 1 0 1 0 1 0 1 0 1 0 1 0 1 0 1 0 1 0 1 0 1 0 1 0 1 0 1 0 1 0 1 0 1 0 1 0 1 0 1 0 1 0 1 0 1 0 1 0 1 0 1 1 1 0 1 0 1 0 1 0 1 0 1 0 1 0 1 0 1 0 1 0 1 0 1 0 1 0 1 0 1 0 1 0 1 0 1 0 1 0 1 0 1 0 1 0 1 0 1 0 1 0 1 0 1 0 1 0 1 0 1 0 1 0 1 0 1 0 1 0 1 0 1 0 1 0 1 0 1 0 1 1 1 0 1 0 1 0 1 0 1 0 1 0 1 0 1 0 1 0 1 0 1 0 1 0 1 0 1 0 1 0 1 0 1 0 1 0 1 0 1 0 1 0 1 0 1 0 1 0 1 0 1 0 1 0 1 0 1 0 1 0 1 0 1 0 1 0 1 1 1 0 1 0 1 0 1 0 1 0 1 0 1 0 1 0 1 0 1 0 1 0 1 0 1 0 1 0 1 0 1 0 1 0 1 0 1 0 1 0 1 0 1 0 1 0 1 0 1 0 1 0 1 0 1 0 1 0 1 0 1 0 1 0 1 1 1 0 1 0 1 0 1 0 1 0 1 0 1 0 1 0 1 0 1 0 1 0 1 0 1 0 1 0 1 0 1 0 1 0 1 0 1 0 1 0 1 0 1 0 1 1 1 0 1 0 1 0 1 0 1 0 1 0 1 0 1 0 1 0 1 0 1 0 1 0 1 0 1 0 1-1 1-1 1-3 1-4 1-7 1-8 1-8 1-8 1-4 1 0 1 5 1 7 1 9 1 9 1 6 1 5 1 3 1 2 1 1 1 0 1 1 1 0 1 0 1 1 1 0 1 0 1 0 1 0 1 1 1 0 1 0 1 0 1 1 1 0 1 0 1 0 1 1 1 0 1 0 1 0 1 0 1 1 1 0 1 0 1 0 1 1 1 0 1 0 1 0 1 1 1 0 1 0 1 0 1 1 1 0 1 0 1 0 1 0 1 1 1 0 1 0 1 0 1 0 1 1 1 0 1 0 1 0 1 0 1 0 1 1 1 0 1 0 1 0 1 0 1 0 1 0 1 1 1 0 1 0 1 0 1 0 1 0 1 0 1 0 1 1 1 0 1 0 1 0 1 0 1 0 1 0 1 0 1 1 1 0 1 0 1 0 1 0 1 0 1 0 1 1 1 0 1 0 1 0 1 0 1 0 1 0 1 0 1 1 1 0 1 0 1 0 1 0 1 0 1 0 1 0 1 1 1 0 1 0 1 0 1 0 1 0 1 0 1 0 1 0 1 1 1 0 1 0 1 0 1 0 1 0 1 0 1 0 1 0 1 0 1 0 1 1 1 0 1 0 1 0 1 0 1 0 1 0 1 0 1 0 1 0 1 0 1 0 1 0 1 0 1 1 1 0 1 0 1 0 1 0 1 0 1 0 1 0 1 0 1 0 1 0 1 0 1 0 1 0 1 0 1 0 1 0 1 0 1 0 1 0 1 0 1 0 1 0 1 0 1 0 1 0 1 0 1 0 1 0 1 0 1 0 1 0 1 0 1 0 1 0 1 0 1 0 1 0 1 0 1 0 1 0 1 0 1 0 1 0 1 0 1 0 1 0 1 0 1 0 1 0 1 0 1 0 1 0 1 0 1 0 1 0 1 0 1 0 1 0 1 0 1 0 1 0 1 0 1 0 1 0 1 0 1 0 1 0 1 0 1 0 1 0 1 0 1 0 1 0 1 0 1 0 1 0 1 0" fill="none" stroke="#ff00ff" stroke-width="5.00" stroke-linejoin="bevel" vector-effect="non-scaling-stroke"/>
<path transform="translate(135.000 0) scale(0.48104 0.5)" d="M0 1424 l1 45 1-50 1 38 1-42 1 46 1-50 1 49 1-61 1 57 1-57 1 50 1-51 1 54 1-50 1 54 1-56 1 52 1-62 1 59 1-56 1 48 1-44 1 48 1-58 1 57 1-53 1 49 1-46 1 37 1-33 1 36 1-37 1 39 1-43 1 40 1-38 1 41 1-42 1 33 1-33 1 26 1-33 1 36 1-36 1 35 1-30 1 37 1-44 1 56 1-61 1 60 1-51 1 50 1-49 1 55 1-47 1 53 1-47 1 47 1-39 1 46 1-45 1 50 1-47 1 52 1-53 1 44 1-42 1 40 1-34 1 40 1-31 1 38 1-39 1 46 1-46 1 41 1-41 1 43 1-47 1 54 1-42 1 53 1-46 1 48 1-45 1 49 1-42 1 52 1-51 1 52 1-52 1 55 1-61 1 62 1-56 1 55 1-51 1 52 1-58 1 68 1-62 1 64 1-54 1 53 1-48 1 45 1-39 1 51 1-53 1 60 1-58 1 52 1-42 1 40 1-44 1 45 1-49 1 55 1-50 1 47 1-45 1 48 1-37 1 47 1-38 1 52 1-48 1 46 1-47 1 45 1-48 1 59 1-52 1 59 1-48 1 59 1-55 1 53 1-49 1 47 1-46 1 40 1-45 1 52 1-44 1 59 1-47 1 52 1-51 1 47 1-48 1 53 1-44 1 41 1-37 1 44 1-44 1 42 1-43 1 40 1-39 1 43 1-37 1 38 1-44 1 44 1-40 1 44 1-50 1 51 1-39 1 48 1-35 1 43 1-44 1 40 1-41 1 55 1-56 1 46 1-40 1 38 1-31 1 40 1-36 1 43 1-46 1 53 1-57 1 59 1-60 1 51 1-42 1 42 1-49 1 51 1-49 1 54 1-40 1 46 1-47 1 46 1-52 1 49 1-46 1 40 1-38 1 40 1-40 1 55 1-43 1 49 1-52 1 52 1-58 1 52 1-45 1 40 1-32 1 31 1-28 1 25 1-28 1 31 1-33 1 35 1-38 1 48 1-48 1 50 1-46 1 41 1-31 1 40 1-39 1 38 1-38 1 39 1-35 1 31 1-39 1 33 1-37 1 32 1-44 1 41 1-41 1 48 1-56 1 49 1-62 1 53 1-51 1 39 1-29 1 33 1-21 1 33 1-27 1 36 1-26 1 30 1-24 1 25 1-20 1 27 1-28 1 34 1-35 1 31 1-30 1 24 1-37 1 39 1-41 1 42 1-41 1 42 1-30 1 35 1-24 1 33 1-37 1 31 1-37 1 36 1-46 1 52 1-51 1 59 1-59 1 56 1-50 1 45 1-36 1 32 1-23 1 24 1-21 1 21 1-24 1 24 1-22 1 24 1-25 1 26 1-33 1 34 1-41 1 41 1-36 1 42 1-50 1 58 1-44 1 44 1-46 1 48 1-50 1 52 1-46 1 48 1-57 1 49 1-45 1 55 1-46 1 50 1-51 1 48 1-55 1 47 1-46 1 42 1-37 1 37 1-28 1 31 1-26 1 31 1-33 1 36 1-35 1 38 1-37 1 26 1-25 1 24 1-23 1 31 1-30 1 31 1-29 1 27 1-31 1 26 1-30 1 28 1-38 1 37 1-37 1 41 1-32 1 31 1-35 1 39 1-32 1 39 1-32 1 37 1-36 1 47 1-49 1 45 1-51 1 54 1-66 1 46 1-51 1 35 1-43 1 28 1-41 1 18 1-41 1 29 1-55 1 52 1-68 1 71 1-51 1 59 1-48 1 66 1-30 1 59 1-35 1 59 1-42 1 41 1-40 1 42 1-35 1 31 1-24 1 36 1-40 1 34 1-43 1 38 1-28 1 31 1-25 1 29 1-30 1 29 1-28 1 36 1-36 1 39 1-35 1 27 1-28 1 26 1-26 1 36 1-44 1 55 1-51 1 40 1-46 1 48 1-51 1 45 1-36 1 30 1-22 1 28 1-26 1 39 1-42 1 38 1-36 1 25 1-24 1 30 1-35 1 33 1-37 1 39 1-52 1 62 1-62 1 64 1-55 1 49 1-43 1 34 1-42 1 37 1-28 1 27 1-20 1 23 1-19 1 18 1-19 1 19 1-24 1 26 1-36 1 34 1-40 1 40 1-31 1 35 1-28 1 33 1-46 1 54 1-58 1 62 1-48 1 49 1-40 1 35 1-42 1 21 1-67 1 14 1-95 1-19 1-86 1 31 1-40 1 102 1 4 1 103 1-4 1 69 1-34 1 56 1-59 1 54 1-57 1 54 1-44 1 56 1-49 1 40 1-38 1 26 1-24 1 23 1-24 1 21 1-20 1 22 1-19 1 19 1-20 1 20 1-17 1 22 1-23 1 30 1-31 1 25 1-22 1 19 1-31 1 34 1-37 1 44 1-37 1 44 1-47 1 37 1-38 1 32 1-25 1 30 1-28 1 30 1-39 1 41 1-47 1 60 1-64 1 46 1-36 1 36 1-29 1 24 1-21 1 24 1-24 1 34 1-37 1 48 1-58 1 54 1-57 1 46 1-43 1 47 1-52 1 49 1-42 1 53 1-57 1 40 1-41 1 38 1-40 1 45 1-35 1 43 1-35 1 45 1-48 1 34 1-39 1 39 1-35 1 29 1-29 1 22 1-28 1 31 1-33 1 39 1-32 1 36 1-38 1 42 1-56 1 46 1-42 1 43 1-35 1 41 1-39 1 47 1-43 1 43 1-51 1 44 1-56 1 63 1-68 1 68 1-56 1 47 1-48 1 41 1-50 1 42 1-31 1 37 1-27 1 30 1-26 1 29 1-26 1 27 1-29 1 35 1-39 1 39 1-50 1 49 1-61 1 46 1-37 1 41 1-39 1 53 1-48 1 46 1-46 1 34 1-41 1 39 1-39 1 42 1-41 1 38 1-30 1 22 1-38 1 23 1-47 1 9 1-62 1 28 1-46 1 58 1-16 1 57 1-3 1 39 1-17 1 38 1-38 1 38 1-36 1 29 1-27 1 21 1-27 1 29 1-24 1 30 1-31 1 30 1-29 1 32 1-39 1 39 1-41 1 38 1-40 1 37 1-31 1 39 1-38 1 46 1-60 1 67 1-63 1 56 1-50 1 42 1-43 1 44 1-40 1 44 1-38 1 36 1-39 1 34 1-38 1 37 1-31 1 25 1-28 1 31 1-41 1 40 1-36 1 41 1-31 1 42 1-34 1 29 1-26 1 24 1-35 1 42 1-55 1 61 1-57 1 62 1-55 1 49 1-45 1 33 1-26 1 38 1-45 1 54 1-62 1 54 1-64 1 68 1-59 1 55 1-48 1 47 1-37 1 39 1-36 1 27 1-28 1 32 1-40 1 41 1-49 1 57 1-50 1 41 1-34 1 30 1-31 1 26 1-29 1 47 1-48 1 44 1-40 1 46 1-41 1 35 1-37 1 30 1-36 1 33 1-40 1 40 1-38 1 38 1-30 1 28 1-37 1 34 1-41 1 41 1-38 1 38 1-31 1 32 1-39 1 43 1-37 1 40 1-37 1 46 1-47 1 44 1-47 1 55 1-66 1 73 1-61 1 51 1-42 1 43 1-46 1 36 1-46 1 40 1-37 1 39 1-30 1 30 1-36 1 43 1-47 1 57 1-49 1 41 1-35 1 31 1-26 1 37 1-34 1 43 1-46 1 36 1-46 1 36 1-45 1 39 1-43 1 46 1-33 1 41 1-42 1 39 1-32 1 42 1-45 1 48 1-62 1 52 1-40 1 34 1-21 1 16 1-23 1 24 1-34 1 36 1-29 1 45 1-43 1 45 1-50 1 44 1-52 1 54 1-57 1 63 1-51 1 39 1-32 1 20 1-18 1 19 1-16 1 20 1-31 1 32 1-41 1 47 1-55 1 65 1-53 1 48 1-47 1 39 1-44 1 51 1-39 1 43 1-38 1 29 1-41 1 45 1-52 1 61 1-62 1 56 1-52 1 44 1-44 1 37 1-43 1 43 1-46 1 44 1-40 1 39 1-29 1 31 1-35 1 35 1-46 1 51 1-40 1 54 1-48 1 41 1-53 1 61 1-54 1 58 1-70 1 61 1-47 1 50 1-47 1 53 1-59 1 52 1-64 1 54 1-55 1 57 1-55 1 60 1-67 1 52 1-48 1 34 1-35 1 32 1-48 1 47 1-35 1 45 1-37 1 42 1-51 1 41 1-32 1 41 1-24 1 33 1-37 1 48 1-53 1 48 1-39 1 54 1-58 1 54 1-56 1 54 1-64 1 54 1-41 1 34 1-29 1 27 1-35 1 34 1-45 1 52 1-45 1 51 1-41 1 43 1-36 1 30 1-26 1 20 1-20 1 30 1-29 1 34 1-41 1 25 1-41 1 42 1-36 1 41 1-28 1 40 1-38 1 32 1-41 1 48 1-53 1 54 1-54 1 40 1-42 1 34 1-30 1 30 1-25 1 34 1-26 1 39 1-37 1 40 1-43 1 46 1-43 1 35 1-35 1 23 1-29 1 34 1-39 1 44 1-52 1 41 1-33 1 42 1-43 1 46 1-50 1 54 1-58 1 60 1-59 1 46 1-55 1 57 1-54 1 65 1-53 1 53 1-48 1 41 1-34 1 30 1-34 1 24 1-29 1 28 1-34 1 39 1-41 1 42 1-39 1 38 1-31 1 40 1-41 1 46 1-59 1 49 1-53 1 48 1-45 1 45 1-37 1 36 1-23 1 19 1-29 1 35 1-50 1 65 1-48 1 39 1-33 1 23 1-30 1 33 1-51 1 51 1-72 1 49 1-58 1 38 1-40 1 26 1-18 1 28 1-16 1 30 1-23 1 36 1-35 1 58 1-54 1 72 1-56 1 45 1-36 1 23 1-22 1 25 1-23 1 27 1-24 1 29 1-30 1 23 1-25 1 23 1-21 1 30 1-29 1 33 1-32 1 24 1-27 1 36 1-48 1 37 1-51 1 44 1-36 1 36 1-40 1 45 1-32 1 35 1-29 1 32 1-49 1 56 1-55 1 54 1-59 1 62 1-52 1 51 1-49 1 43 1-53 1 56 1-58 1 69 1-71 1 63 1-58 1 59 1-64 1 57 1-51 1 43 1-37 1 38 1-43 1 49 1-45 1 48 1-39 1 48 1-45 1 39 1-35 1 29 1-31 1 22 1-33 1 34 1-46 1 54 1-52 1 48 1-55 1 47 1-42 1 45 1-51 1 57 1-48 1 50 1-57 1 50 1-46 1 40 1-31 1 27 1-32 1 41 1-43 1 53 1-43 1 44 1-37 1 24 1-26 1 17 1-21 1 11 1-29 1 22 1-42 1 35 1-52 1 56 1-42 1 55 1-41 1 52 1-42 1 47 1-37 1 44 1-49 1 55 1-65 1 70 1-59 1 52 1-40 1 39 1-36 1 29 1-26 1 14 1-17 1 20 1-31 1 37 1-45 1 59 1-64 1 66 1-52 1 42 1-52 1 45 1-48 1 44 1-36 1 33 1-26 1 28 1-17 1 19 1-33 1 35 1-51 1 54 1-39 1 39 1-29 1 24 1-27 1 32 1-35 1 44 1-47 1 58 1-59 1 54 1-61 1 51 1-43 1 31 1-24 1 23 1-21 1 21 1-30 1 29 1-34 1 35 1-29 1 31 1-22 1 22 1-25 1 27 1-41 1 51 1-48 1 55 1-53 1 43 1-36 1 29 1-21 1 20 1-17 1 18 1-21 1 17 1-24 1 25 1-34 1 37 1-46 1 51 1-47 1 50 1-41 1 41 1-32 1 34 1-29 1 30 1-30 1 31 1-30 1 22 1-25 1 20 1-16 1 30 1-34 1 42 1-52 1 41 1-47 1 49 1-56 1 58 1-50 1 61 1-63 1 56 1-63 1 60 1-56 1 66 1-55 1 47 1-53 1 46 1-54 1 50 1-41 1 46 1-42 1 53 1-59 1 60 1-54 1 43 1-45 1 56 1-48 1 40 1-38 1 51 1-64 1 57 1-59 1 54 1-43 1 40 1-29 1 26 1-33 1 25 1-28 1 30 1-34 1 42 1-45 1 57 1-54 1 46 1-38 1 38 1-36 1 45 1-44 1 41 1-53 1 50 1-49 1 40 1-32 1 28 1-36 1 40 1-43 1 47 1-57 1 59 1-49 1 48 1-41 1 37 1-46 1 39 1-49 1 56 1-46 1 46 1-35 1 36 1-45 1 44 1-45 1 43 1-34 1 39 1-41 1 42 1-49 1 43 1-46 1 38 1-29 1 35 1-25 1 22 1-18 1 19 1-20 1 23 1-24 1 27 1-31 1 30 1-34 1 29 1-31 1 37 1-41 1 47 1-60 1 58 1-45 1 36 1-20 1 29 1-31 1 37 1-36 1 28 1-42 1 42 1-54 1 52 1-35 1 33 1-22 1 24 1-26 1 30 1-30 1 35 1-35 1 29 1-28 1 23 1-23 1 16 1-17 1 20 1-18 1 22 1-29 1 39 1-41 1 40 1-52 1 46 1-51 1 68 1-58 1 61 1-49 1 37 1-54 1 51 1-38 1 35 1-28 1 28 1-31 1 32 1-42 1 36 1-44 1 47 1-50 1 52 1-44 1 45 1-36 1 31 1-25 1 28 1-26 1 20 1-21 1 19 1-20 1 22 1-21 1 28 1-36 1 48 1-59 1 64 1-48 1 38 1-35 1 37 1-35 1 42 1-42 1 27 1-26 1 29 1-40 1 44 1-59 1 65 1-60 1 50 1-42 1 50 1-44 1 42 1-38 1 43 1-57 1 55 1-63 1 63 1-58 1 51 1-47 1 40 1-54 1 64 1-49 1 55 1-56 1 44 1-49 1 30 1-55 1 35 1-55 1 58 1-44 1 62 1-33 1 46 1-34 1 42 1-33 1 42 1-46 1 39 1-42 1 44 1-54 1 51 1-45 1 38 1-35 1 31 1-23 1 30 1-32 1 39 1-48 1 52 1-63 1 69 1-56 1 53 1-46 1 44 1-35 1 30 1-27 1 25 1-25 1 18 1-20 1 21 1-23 1 28 1-29 1 47 1-50 1 40 1-39 1 38 1-36 1 46 1-38 1 33 1-31 1 21 1-25 1 21 1-33 1 36 1-44 1 55 1-49 1 52 1-43 1 51 1-55 1 44 1-39 1 39 1-47 1 46 1-49 1 61 1-59 1 62 1-48 1 36 1-30 1 40 1-45 1 33 1-49 1 38 1-35 1 37 1-18 1 19 1-29 1 28 1-29 1 36 1-26 1 29 1-42 1 49 1-61 1 57 1-48 1 43 1-34 1 37 1-43 1 52 1-54 1 60 1-49 1 52 1-63 1 55 1-59 1 47 1-37 1 39 1-53 1 54 1-41 1 44 1-38 1 47 1-44 1 46 1-40 1 37 1-35 1 37 1-40 1 31 1-34 1 26 1-38 1 44 1-37 1 46 1-46 1 52 1-61 1 57 1-63 1 54 1-44 1 39 1-32 1 31 1-22 1 21 1-28 1 27 1-37 1 35 1-36 1 37 1-29 1 36 1-25 1 29 1-28 1 30 1-31 1 28 1-35 1 33 1-42 1 43 1-53 1 53 1-43 1 37 1-34 1 29 1-21 1 20 1-16 1 22 1-21 1 30 1-33 1 40 1-36 1 35 1-39 1 27 1-25 1 31 1-39 1 35 1-44 1 54 1-45 1 52 1-48 1 49 1-57 1 41 1-44 1 54 1-53 1 49 1-52 1 41 1-33 1 31 1-29 1 33 1-24 1 25 1-27 1 23 1-26 1 34 1-42 1 50 1-48 1 51 1-54 1 48 1-52 1 37 1-34 1 30 1-21" fill="none" stroke="#ff00ff" stroke-width="1.20" vector-effect="non-scaling-stroke"/>
<path transform="translate(135.000 0) scale(0.48104 0.5)" d="M0 1223 l1-1 1-2 1-2 1-2 1-2 1-1 1-2 1-1 1-2 1-1 1-1 1-2 1-1 1 0 1-1 1-1 1 0 1-1 1 0 1-1 1 0 1-1 1 0 1-1 1 0 1 0 1-1 1 0 1-1 1 0 1 0 1 0 1-1 1 0 1 0 1 0 1-1 1 0 1 0 1 0 1 0 1 0 1 0 1 0 1 0 1 1 1 0 1 1 1 1 1 1 1 0 1 1 1 1 1 2 1 1 1 1 1 1 1 1 1 2 1 1 1 1 1 2 1 1 1 1 1 1 1 2 1 1 1 1 1 1 1 1 1 1 1 1 1 1 1 1 1 2 1 1 1 1 1 1 1 1 1 1 1 2 1 1 1 1 1 1 1 1 1 2 1 1 1 1 1 1 1 2 1 1 1 1 1 1 1 2 1 1 1 1 1 2 1 1 1 1 1 1 1 2 1 1 1 1 1 2 1 1 1 1 1 1 1 2 1 1 1 1 1 2 1 1 1 2 1 1 1 1 1 2 1 1 1 1 1 2 1 1 1 2 1 1 1 2 1 1 1 2 1 1 1 2 1 2 1 2 1 1 1 2 1 2 1 2 1 1 1 2 1 2 1 2 1 1 1 2 1 2 1 1 1 2 1 2 1 1 1 1 1 2 1 1 1 1 1 1 1 1 1 1 1 2 1 1 1 1 1 0 1 1 1 1 1 1 1 1 1 1 1 1 1 1 1 0 1 1 1 1 1 1 1 1 1 1 1 0 1 1 1 1 1 1 1 1 1 1 1 1 1 1 1 1 1 1 1 1 1 1 1 2 1 1 1 1 1 1 1 2 1 1 1 1 1 1 1 1 1 2 1 1 1 1 1 1 1 1 1 1 1 1 1 1 1 0 1 1 1 1 1 0 1 1 1 0 1 1 1 0 1 1 1 0 1 0 1 1 1 0 1 1 1 0 1 0 1 1 1 0 1 0 1 1 1 0 1 0 1 1 1 0 1 0 1 0 1 1 1 0 1 0 1 1 1 0 1 1 1 0 1 0 1 1 1 0 1 0 1 1 1 0 1 0 1 1 1 0 1 0 1 1 1 0 1 0 1 1 1 0 1 0 1 1 1 0 1 0 1 1 1 0 1 0 1 1 1 0 1 0 1 1 1 0 1 1 1 0 1 0 1 1 1 0 1 0 1 1 1 0 1 1 1 0 1 0 1 1 1 0 1 0 1 1 1 0 1 1 1 0 1 0 1 1 1 0 1 0 1 1 1 0 1 1 1 0 1 0 1 1 1 0 1 0 1 1 1 0 1 1 1 0 1 0 1 1 1 0 1 0 1 1 1 0 1 0 1 1 1 0 1 0 1 1 1 0 1 0 1 1 1 0 1 0 1 1 1 0 1 0 1 1 1 0 1 0 1 1 1 0 1 0 1 1 1 0 1 0 1 1 1 0 1 0 1 1 1 0 1 0 1 1 1 0 1 0 1 1 1 0 1 0 1 1 1 0 1 0 1 0 1 1 1 0 1 0 1 1 1 0 1 0 1 1 1 0 1 0 1 0 1 1 1 0 1 0 1 0 1 1 1 0 1 0 1 0 1 1 1 0 1 0 1 0 1 1 1 0 1 0 1 0 1 0 1 1 1 0 1 0 1 0 1 0 1 1 1 0 1 0 1 0 1 0 1 0 1 1 1 0 1 0 1 0 1 0 1 0 1 1 1 0 1 0 1 0 1 0 1 0 1 0 1 1 1 0 1 0 1 0 1 0 1 0 1 0 1 1 1 0 1 0 1 0 1 0 1 0 1 0 1 0 1 1 1 0 1 0 1 0 1 0 1 0 1 1 1 0 1 0 1 0 1 0 1 0 1 0 1 1 1 0 1 0 1 0 1 0 1 1 1 0 1 0 1 0 1 0 1 1 1 0 1 0 1 0 1 1 1 0 1 0 1 0 1 1 1 0 1 0 1 1 1 0 1 0 1 0 1 1 1 0 1 0 1 1 1 0 1 0 1 1 1 0 1 0 1 1 1 0 1 0 1 1 1 0 1 0 1 0 1 1 1 0 1 0 1 0 1 1 1 0 1 0 1 0 1 0 1 0 1 1 1 0 1 0 1 0 1 0 1 0 1 0 1 0 1 0 1 0 1 0 1 0 1 0 1 0 1 0 1 0 1 0 1 0 1 0 1 0 1-1 1-1 1-2 1-6 1-11 1-19 1-25 1-28 1-21 1-9 1 8 1 22 1 28 1 25 1 18 1 11 1 6 1 2 1 1 1 0 1 0 1 0 1 0 1 0 1 0 1 0 1 0 1 0 1 0 1 0 1 0 1-1 1 0 1 0 1 0 1 0 1 0 1 0 1 0 1 0 1 0 1 0 1 0 1 0 1 0 1-1 1 0 1 0 1 0 1 0 1 0 1 0 1 0 1 0 1 0 1 0 1 0 1 0 1 0 1 0 1 0 1 0 1 0 1 0 1 0 1 0 1 0 1 1 1 0 1 0 1 0 1 0 1 1 1 0 1 0 1 1 1 0 1 0 1 1 1 0 1 0 1 0 1 1 1 0 1 0 1 0 1 1 1 0 1 0 1 0 1 0 1 0 1 0 1 0 1 0 1 0 1 0 1 1 1 0 1 0 1 0 1 0 1 0 1 0 1 0 1 0 1 0 1 0 1 0 1 0 1 0 1 0 1 0 1 0 1-1 1-1 1-2 1-4 1-5 1-7 1-7 1-8 1-7 1-5 1-2 1 2 1 5 1 7 1 8 1 8 1 6 1 5 1 4 1 2 1 2 1 0 1 1 1 0 1 0 1 0 1 0 1-1 1 0 1 0 1 0 1-1 1 0 1-1 1 0 1-1 1 0 1-1 1-1 1 0 1-1 1-1 1-2 1-1 1-1 1-2 1-1 1-2 1-1 1-2 1-1 1-2 1-1 1-1 1-1 1-1 1 0 1-1 1 1 1 0 1 1 1 1 1 1 1 2 1 1 1 2 1 2 1 2 1 2 1 2 1 1 1 2 1 1 1 2 1 1 1 1 1 2 1 1 1 1 1 0 1 1 1 1 1 1 1 1 1 0 1 1 1 1 1 1 1 0 1 1 1 1 1 0 1 1 1 1 1 0 1 1 1 0 1 1 1 1 1 0 1 1 1 0 1 1 1 0 1 1 1 0 1 1 1 0 1 1 1 0 1 1 1 0 1 0 1 1 1 0 1 0 1 0 1 0 1 1 1 0 1 0 1 0 1 0 1 1 1 0 1 0 1 0 1 0 1 1 1 0 1 0 1 0 1 0 1 1 1 0 1 0 1 0 1 0 1 1 1 0 1 0 1 0 1 0 1 0 1 1 1 0 1 0 1 0 1 0 1 0 1 1 1 0 1 0 1 0 1 0 1 0 1 1 1 0 1 0 1 0 1 0 1 0 1 0 1 1 1 0 1 0 1 0 1 0 1 0 1 0 1 0 1 1 1 0 1 0 1 0 1 0 1 0 1 0 1 0 1 0 1 1 1 0 1 0 1 0 1 0 1 0 1 0 1 0 1 0 1 0 1 0 1 0 1 0 1 1 1 0 1 0 1 0 1 0 1 0 1 0 1 0 1 0 1 0 1 0 1 0 1 0 1 0 1 0 1 0 1 0 1 0 1 0 1 0 1 0 1 0 1 0 1 0 1 0 1 0 1 0 1 0 1 0 1 0 1 0 1 0 1 0 1 0 1 0 1 0 1 0 1 0 1 0 1 0 1 0 1 0 1 0 1 0 1 0 1 0 1 0 1 0 1 0 1 0 1 0 1 0 1 0 1 0 1 0 1 0 1 0 1 0 1 0 1 0 1 0 1 0 1 0 1 0 1 0 1 0 1 0 1 0 1 0 1 0 1 0 1 0 1 0 1 0 1 0 1 0 1 0 1 0 1 0 1 0 1 0 1 0 1 0 1 0 1 0 1 0 1 0 1 0 1 0 1 0 1 0 1 0 1 0 1 0 1 0 1 0 1 0 1 0 1 0 1 0 1 0 1 0 1 0 1 0 1 0 1 0 1 0 1 0 1 0 1 0 1 0 1 0 1 0 1 0 1 0 1 0 1 0 1 0 1 0 1 0 1 0 1 0 1 0 1 0 1 0 1 0 1 0 1 0 1 0 1 0 1 0 1 0 1 0 1 0 1 0 1 0 1 0 1 0 1 0 1 0 1 0 1 0 1 0 1 0 1 0 1 0 1 0 1 0 1 0 1 0 1 0 1 0 1 0 1 0 1 0 1 0 1 0 1 0 1 0 1 0 1 0 1 0 1-1 1 0 1 0 1 0 1 0 1 0 1 0 1 0 1 0 1 0 1 0 1 0 1 0 1 0 1 0 1 0 1 0 1 0 1 0 1-1 1 0 1 0 1 0 1 0 1 0 1 0 1 0 1 0 1 0 1 0 1 0 1 0 1 0 1 0 1-1 1 0 1 0 1 0 1 0 1 0 1 0 1 0 1 0 1 0 1 0 1 0 1 0 1-1 1 0 1 0 1 0 1 0 1 0 1 0 1 0 1 0 1 0 1 0 1 0 1 0 1 0 1 0 1-1 1 0 1 0 1 0 1 0 1 0 1 0 1 0 1 0 1 0 1 0 1 0 1 0 1 0 1 0 1 0 1 0 1 0 1 0 1-1 1 0 1 0 1 0 1 0 1 0 1 0 1 0 1 0 1 0 1 0 1 0 1 0 1 0 1 0 1 0 1 0 1 0 1 0 1 0 1 0 1 0 1 0 1 0 1 0 1 0 1 0 1 0 1 0 1 0 1 0 1 0 1 0 1 0 1 0 1 0 1 0 1 0 1 0 1 0 1 0 1 0 1 0 1 0 1 0 1 0 1 0 1 0 1 0 1 0 1 0 1 0 1 0 1 0 1 0 1 0 1 0 1 0 1 0 1 0 1 0 1 0 1 0 1 0 1 0 1 0 1 1 1 0 1 0 1 0 1 0 1 0 1 0 1 0 1 0 1 0 1 0 1 0 1 0 1 0 1 0 1 0 1 0 1 0 1 0 1 0 1 0 1 0 1 0 1 0 1 0 1 0 1 0 1 0 1 0 1 0 1 0 1 0 1 0 1 0 1 0 1 0 1 0 1 1 1 0 1 0 1 0 1 0 1 0 1 0 1 0 1 0 1 0 1 0 1 0 1 0 1 0 1 0 1 0 1 0 1 0 1 0 1 0 1 0 1 0 1 0 1 0 1 0 1 0 1 0 1 0 1 0 1 0 1 1 1 0 1 0 1 0 1 0 1 0 1 0 1 0 1 0 1-1 1 0 1-1 1-2 1-3 1-4 1-5 1-6 1-5 1-2 1 0 1 2 1 5 1 6 1 5 1 5 1 3 1 2 1 1 1 0 1 1 1 0 1 0 1 0 1 0 1 0 1 0 1 0 1 0 1 0 1 0 1 0 1 0 1 0 1 0 1 0 1 1 1 0 1 0 1 0 1 0 1 0 1 0 1 0 1 0 1 0 1 0 1 0 1 0 1 0 1 0 1 1 1 0 1 0 1 0 1 0 1 0 1 0 1 0 1 0 1 0 1 0 1 0 1 0 1 0 1 1 1 0 1 0 1 0 1 0 1 0 1 0 1 0 1 0 1 0 1 0 1 0 1 0 1 0 1 1 1 0 1 0 1 0 1 0 1 0 1 0 1 0 1 0 1 0 1 0 1 0 1 0 1 1 1 0 1 0 1 0 1 0 1 0 1 0 1 0 1 0 1 0 1 0 1 0 1 0 1 1 1 0 1 0 1 0 1 0 1 0 1 0 1 0 1 0 1 0 1 0 1 0 1 0 1 0 1 1 1 0 1 0 1 0 1 0 1 0 1 0 1 0 1 0 1 0 1 0 1 0 1 0 1 0 1 0 1 1 1 0 1 0 1 0 1 0 1 0 1 0 1 0 1 0 1 0 1 0 1 0 1 0 1 0 1 0 1 0 1 0 1 0 1 1 1 0 1 0 1 0 1 0 1 0 1 0 1 0 1 0 1 0 1 0 1 0 1 0 1 0 1 0 1 0 1 0 1 0 1 0 1 0 1 0 1 1 1 0 1 0 1 0 1 0 1 0 1 0 1 0 1 0 1 0 1 0 1 0 1 0 1 0 1 0 1 0 1 0 1 0 1 0 1 0 1 0 1 0 1 1 1 0 1 0 1 0 1 0 1 0 1 0 1 0 1 0 1 0 1 0 1 0 1 0 1 0 1 0 1 0 1 0 1 0 1 0 1 0 1 0 1 0 1 0 1 1 1 0 1 0 1 0 1 0 1 0 1 0 1 0 1 0 1 0 1 0 1 0 1 0 1 0 1 0 1 0 1 0 1 0 1 0 1 0 1 0 1 1 1 0 1 0 1 0 1 0 1 0 1 0 1 0 1 0 1 0 1 0 1 0 1 0 1 0 1 0 1 0 1 0 1 0 1 1 1 0 1 0 1 0 1 0 1 0 1 0 1 0 1 0 1 0 1 0 1 0 1 0 1 0 1 0 1 1 1 0 1 0 1 0 1 0 1 0 1 0 1 0 1 0 1 0 1 0 1 0 1 1 1 0 1 0 1 0 1 0 1 0 1 0 1 0 1 0 1 0 1 0 1 1 1 0 1 0 1 0 1 0 1 0 1 0 1 0 1 0 1 0 1 1 1 0 1 0 1 0 1 0 1 0 1 0 1 0 1 0 1 1 1 0 1 0 1 0 1 0 1 0 1 0 1 0 1 0 1 1 1 0 1 0 1 0 1 0 1 0 1 0 1 0 1 0 1 1 1 0 1 0 1 0 1 0 1 0 1 0 1 0 1 0 1 1 1 0 1 0 1 0 1 0 1 0 1 0 1 0 1 0 1 1 1 0 1 0 1 0 1 0 1 0 1 0 1 0 1 0 1 0 1 1 1 0 1 0 1 0 1 0 1 0 1 0 1 0 1 0 1 0 1 0 1 1 1 0 1 0 1 0 1 0 1 0 1 0 1 0 1 0 1 0 1 0 1 0 1 1 1 0 1 0 1 0 1 0 1 0 1 0 1 0 1 0 1 0 1 0 1 0 1 0 1 0 1 0 1 1 1 0 1 0 1 0 1 0 1 0 1 0 1 0 1 0 1 0 1 0 1 0 1 0 1 0 1 0 1 0 1 0 1 0 1 0 1 1 1 0 1 0 1 0 1 0 1 0 1 0 1 0 1 0 1 0 1 0 1 0 1 0 1 0 1 0 1 0 1 0 1 0 1 0 1 0 1 0 1 0 1 0 1 1 1 0 1 0 1 0 1 0 1 0 1 0 1 0 1 0 1 0 1 0 1 0 1 0 1 0 1 0 1 0 1 0 1 0 1 0 1 0 1 0 1 0 1 0 1 0 1 0 1 1 1 0 1 0 1 0 1 0 1 0 1 0 1 0 1 0 1 0 1 0 1 0 1 0 1 0 1 0 1 0 1 0 1 0 1 0 1 0 1 0 1 0 1 1 1 0 1 0 1 0 1 0 1 0 1 0 1 0 1 0 1 0 1 0 1 0 1 0 1 0 1 0 1 0 1 0 1 0 1 1 1 0 1 0 1 0 1 0 1 0 1 0 1 0 1 0 1 0 1 0 1 0 1 0 1 0 1 1 1 0 1 0 1 0 1 0 1 0 1 0 1 0 1 0 1 0 1 0 1 0 1 1 1 0 1 0 1 0 1 0 1 0 1 0 1 0 1 0 1 0 1 1 1 0 1 0 1 0 1 0 1 0 1 0 1 0 1 0 1 0 1 1 1 0 1 0 1 0 1 0 1 0 1 0 1 0 1 0 1 1 1 0 1 0 1 0 1 0 1 0 1 0 1 0 1 1 1 0 1 0 1 0 1 0" fill="none" stroke="#008000" stroke-width="5.00" stroke-linejoin="bevel" vector-effect="non-scaling-stroke"/>
<path transform="translate(135.000 0) scale(0.48104 0.5)" d="M0 1205 l1 35 1-44 1 50 1-58 1 55 1-59 1 46 1-47 1 50 1-52 1 53 1-49 1 50 1-47 1 35 1-38 1 34 1-36 1 34 1-34 1 33 1-31 1 30 1-29 1 37 1-41 1 44 1-42 1 32 1-32 1 27 1-32 1 30 1-27 1 36 1-36 1 35 1-46 1 42 1-48 1 47 1-40 1 45 1-41 1 41 1-38 1 37 1-38 1 50 1-48 1 49 1-48 1 41 1-45 1 41 1-41 1 49 1-53 1 66 1-56 1 56 1-56 1 47 1-52 1 59 1-45 1 42 1-39 1 45 1-40 1 41 1-39 1 40 1-47 1 50 1-48 1 49 1-36 1 44 1-40 1 48 1-61 1 67 1-57 1 50 1-50 1 56 1-57 1 55 1-48 1 52 1-44 1 51 1-55 1 60 1-61 1 64 1-57 1 55 1-52 1 49 1-45 1 45 1-38 1 48 1-53 1 54 1-58 1 64 1-56 1 58 1-50 1 48 1-49 1 58 1-54 1 61 1-59 1 56 1-47 1 45 1-43 1 50 1-49 1 52 1-55 1 52 1-47 1 48 1-41 1 52 1-44 1 46 1-45 1 51 1-54 1 56 1-54 1 62 1-49 1 48 1-43 1 42 1-42 1 42 1-38 1 44 1-48 1 41 1-28 1 37 1-29 1 33 1-41 1 46 1-53 1 62 1-58 1 52 1-44 1 37 1-33 1 37 1-27 1 24 1-25 1 36 1-38 1 40 1-47 1 53 1-54 1 64 1-57 1 56 1-46 1 42 1-44 1 39 1-38 1 47 1-44 1 44 1-37 1 36 1-39 1 38 1-52 1 60 1-43 1 55 1-56 1 65 1-58 1 55 1-48 1 49 1-47 1 41 1-47 1 48 1-60 1 68 1-56 1 51 1-41 1 37 1-34 1 34 1-39 1 45 1-54 1 63 1-61 1 56 1-50 1 47 1-41 1 40 1-49 1 52 1-54 1 59 1-44 1 39 1-45 1 52 1-52 1 56 1-56 1 43 1-41 1 37 1-31 1 29 1-29 1 30 1-32 1 37 1-40 1 48 1-50 1 50 1-42 1 36 1-44 1 40 1-34 1 35 1-28 1 32 1-31 1 38 1-41 1 43 1-40 1 40 1-47 1 40 1-38 1 50 1-45 1 51 1-46 1 48 1-49 1 36 1-47 1 41 1-40 1 46 1-42 1 46 1-56 1 63 1-58 1 60 1-60 1 61 1-60 1 58 1-51 1 49 1-52 1 47 1-41 1 35 1-25 1 29 1-34 1 32 1-25 1 38 1-37 1 38 1-33 1 29 1-37 1 39 1-46 1 42 1-47 1 42 1-36 1 43 1-36 1 46 1-40 1 48 1-46 1 49 1-52 1 41 1-43 1 55 1-50 1 40 1-43 1 34 1-39 1 47 1-45 1 44 1-45 1 40 1-37 1 38 1-38 1 46 1-48 1 57 1-50 1 47 1-42 1 37 1-39 1 34 1-31 1 45 1-43 1 42 1-37 1 27 1-24 1 29 1-32 1 32 1-35 1 46 1-55 1 59 1-66 1 55 1-57 1 51 1-48 1 54 1-43 1 57 1-51 1 38 1-43 1 44 1-44 1 53 1-52 1 44 1-45 1 55 1-49 1 47 1-45 1 41 1-53 1 47 1-50 1 59 1-49 1 54 1-53 1 47 1-61 1 50 1-37 1 39 1-26 1 31 1-30 1 35 1-41 1 33 1-39 1 34 1-44 1 40 1-41 1 40 1-38 1 40 1-35 1 36 1-40 1 39 1-41 1 45 1-45 1 53 1-44 1 48 1-39 1 42 1-36 1 33 1-30 1 34 1-35 1 20 1-20 1 27 1-29 1 28 1-32 1 38 1-46 1 50 1-60 1 49 1-47 1 43 1-47 1 51 1-45 1 56 1-46 1 58 1-52 1 37 1-40 1 37 1-43 1 43 1-47 1 44 1-33 1 35 1-23 1 20 1-33 1 38 1-45 1 53 1-44 1 55 1-52 1 41 1-48 1 62 1-64 1 65 1-65 1 55 1-48 1 37 1-41 1 40 1-36 1 36 1-23 1 23 1-24 1 24 1-34 1 33 1-34 1 33 1-26 1 28 1-23 1 37 1-37 1 34 1-41 1 34 1-49 1 53 1-37 1 46 1-62 1 53 1-59 1 18 1-57 1 4 1-58 1 23 1-23 1 53 1-10 1 59 1-17 1 49 1-28 1 38 1-36 1 40 1-34 1 37 1-34 1 27 1-24 1 21 1-22 1 26 1-24 1 27 1-34 1 40 1-46 1 50 1-46 1 43 1-47 1 42 1-53 1 62 1-50 1 55 1-44 1 36 1-37 1 37 1-40 1 38 1-49 1 43 1-53 1 49 1-44 1 54 1-55 1 66 1-62 1 56 1-43 1 43 1-39 1 42 1-45 1 39 1-45 1 54 1-59 1 52 1-59 1 64 1-48 1 38 1-30 1 19 1-21 1 20 1-20 1 21 1-20 1 23 1-30 1 31 1-34 1 35 1-38 1 34 1-25 1 29 1-25 1 25 1-29 1 30 1-36 1 49 1-59 1 62 1-54 1 59 1-64 1 54 1-52 1 54 1-45 1 40 1-48 1 47 1-48 1 65 1-56 1 39 1-33 1 26 1-22 1 21 1-26 1 24 1-36 1 28 1-28 1 24 1-46 1 39 1-52 1 47 1-52 1 48 1-37 1 46 1-28 1 41 1-32 1 37 1-26 1 33 1-35 1 42 1-43 1 42 1-50 1 44 1-39 1 47 1-48 1 57 1-65 1 63 1-61 1 52 1-47 1 43 1-47 1 50 1-49 1 42 1-45 1 41 1-33 1 28 1-30 1 34 1-42 1 43 1-45 1 46 1-47 1 35 1-33 1 29 1-31 1 25 1-36 1 56 1-63 1 55 1-41 1 39 1-42 1 41 1-30 1 42 1-37 1 38 1-35 1 32 1-26 1 25 1-24 1 37 1-35 1 50 1-49 1 40 1-41 1 42 1-40 1 32 1-34 1 37 1-45 1 68 1-60 1 49 1-43 1 33 1-29 1 32 1-35 1 46 1-44 1 55 1-48 1 46 1-49 1 58 1-61 1 49 1-41 1 30 1-25 1 23 1-21 1 30 1-32 1 49 1-54 1 34 1-33 1 31 1-33 1 43 1-44 1 39 1-33 1 33 1-46 1 49 1-43 1 48 1-39 1 48 1-41 1 45 1-48 1 38 1-42 1 38 1-36 1 29 1-39 1 38 1-39 1 38 1-27 1 32 1-44 1 50 1-55 1 61 1-49 1 44 1-49 1 61 1-65 1 54 1-44 1 46 1-49 1 46 1-36 1 37 1-31 1 35 1-37 1 41 1-47 1 32 1-34 1 33 1-29 1 30 1-21 1 18 1-16 1 28 1-25 1 37 1-44 1 40 1-47 1 54 1-60 1 55 1-52 1 51 1-40 1 42 1-38 1 32 1-32 1 26 1-24 1 18 1-18 1 21 1-21 1 32 1-45 1 52 1-67 1 70 1-65 1 57 1-57 1 48 1-45 1 42 1-38 1 50 1-55 1 49 1-54 1 63 1-54 1 57 1-48 1 35 1-26 1 23 1-32 1 41 1-51 1 53 1-56 1 68 1-60 1 43 1-39 1 30 1-40 1 51 1-52 1 60 1-57 1 58 1-46 1 39 1-33 1 26 1-30 1 36 1-47 1 48 1-42 1 43 1-36 1 27 1-27 1 31 1-34 1 33 1-36 1 34 1-32 1 26 1-24 1 19 1-16 1 16 1-15 1 17 1-16 1 17 1-18 1 16 1-17 1 17 1-26 1 26 1-38 1 38 1-41 1 42 1-37 1 37 1-31 1 32 1-29 1 26 1-20 1 24 1-32 1 47 1-54 1 65 1-56 1 43 1-49 1 44 1-45 1 41 1-35 1 30 1-33 1 45 1-45 1 45 1-38 1 29 1-33 1 28 1-32 1 39 1-44 1 52 1-56 1 54 1-50 1 52 1-44 1 37 1-36 1 30 1-27 1 28 1-22 1 20 1-20 1 22 1-20 1 16 1-20 1 23 1-32 1 32 1-41 1 45 1-40 1 38 1-28 1 26 1-30 1 30 1-39 1 38 1-45 1 47 1-36 1 45 1-37 1 39 1-36 1 42 1-45 1 35 1-31 1 30 1-25 1 30 1-29 1 23 1-27 1 24 1-28 1 30 1-40 1 43 1-52 1 53 1-53 1 59 1-49 1 47 1-38 1 30 1-47 1 42 1-35 1 41 1-25 1 32 1-36 1 34 1-43 1 56 1-69 1 63 1-58 1 52 1-42 1 37 1-50 1 43 1-36 1 34 1-31 1 31 1-37 1 38 1-48 1 44 1-34 1 36 1-39 1 44 1-50 1 57 1-46 1 52 1-58 1 64 1-59 1 58 1-49 1 36 1-29 1 32 1-32 1 41 1-46 1 48 1-54 1 43 1-45 1 34 1-26 1 29 1-41 1 51 1-54 1 44 1-50 1 45 1-41 1 39 1-29 1 29 1-31 1 35 1-41 1 46 1-44 1 44 1-55 1 55 1-51 1 45 1-39 1 36 1-37 1 34 1-25 1 26 1-24 1 26 1-31 1 30 1-25 1 27 1-26 1 30 1-37 1 35 1-43 1 57 1-53 1 62 1-51 1 49 1-51 1 40 1-45 1 32 1-41 1 37 1-34 1 40 1-32 1 40 1-50 1 49 1-53 1 64 1-51 1 47 1-42 1 36 1-33 1 33 1-30 1 27 1-35 1 48 1-55 1 59 1-67 1 54 1-52 1 52 1-42 1 43 1-40 1 45 1-47 1 56 1-56 1 50 1-48 1 53 1-53 1 46 1-43 1 31 1-27 1 35 1-47 1 55 1-68 1 71 1-63 1 45 1-45 1 38 1-36 1 34 1-25 1 30 1-33 1 41 1-50 1 49 1-47 1 50 1-50 1 47 1-38 1 49 1-54 1 41 1-49 1 42 1-33 1 37 1-30 1 33 1-32 1 31 1-52 1 45 1-31 1 36 1-52 1 55 1-38 1 44 1-35 1 30 1-39 1 47 1-42 1 45 1-37 1 17 1-20 1 19 1-17 1 29 1-35 1 43 1-56 1 44 1-46 1 50 1-45 1 47 1-49 1 49 1-45 1 35 1-43 1 41 1-32 1 32 1-27 1 27 1-36 1 45 1-48 1 63 1-54 1 46 1-55 1 46 1-41 1 35 1-26 1 23 1-28 1 20 1-23 1 10 1-23 1 27 1-30 1 41 1-37 1 56 1-44 1 46 1-39 1 33 1-31 1 41 1-44 1 38 1-39 1 27 1-26 1 27 1-32 1 33 1-31 1 30 1-26 1 32 1-30 1 39 1-47 1 55 1-47 1 47 1-38 1 28 1-32 1 24 1-34 1 29 1-39 1 46 1-44 1 51 1-39 1 54 1-46 1 36 1-42 1 37 1-41 1 54 1-55 1 41 1-36 1 26 1-22 1 25 1-19 1 24 1-23 1 27 1-31 1 31 1-30 1 17 1-16 1 16 1-18 1 21 1-22 1 23 1-29 1 27 1-40 1 46 1-37 1 40 1-34 1 37 1-33 1 32 1-34 1 29 1-32 1 30 1-28 1 25 1-32 1 34 1-27 1 25 1-20 1 22 1-22 1 28 1-34 1 39 1-53 1 55 1-49 1 51 1-40 1 36 1-44 1 43 1-46 1 60 1-59 1 45 1-40 1 41 1-34 1 42 1-36 1 45 1-57 1 53 1-57 1 41 1-34 1 27 1-19 1 26 1-32 1 39 1-48 1 50 1-48 1 41 1-30 1 28 1-27 1 35 1-37 1 43 1-51 1 51 1-56 1 46 1-48 1 54 1-49 1 50 1-44 1 50 1-41 1 34 1-34 1 25 1-33 1 28 1-32 1 32 1-21 1 24 1-21 1 28 1-36 1 42 1-52 1 46 1-43 1 52 1-41 1 43 1-40 1 32 1-30 1 33 1-34 1 41 1-45 1 35 1-39 1 32 1-37 1 33 1-39 1 44 1-37 1 42 1-44 1 40 1-53 1 55 1-51 1 55 1-47 1 48 1-52 1 50 1-57 1 73 1-63 1 44 1-37 1 28 1-19 1 32 1-32 1 42 1-52 1 49 1-61 1 57 1-56 1 60 1-51 1 43 1-47 1 36 1-43 1 41 1-29 1 30 1-35 1 37 1-46 1 45 1-36 1 36 1-43 1 42 1-32 1 34 1-39 1 40 1-28 1 26 1-22 1 21 1-19 1 31 1-37 1 35 1-41 1 51 1-59 1 58 1-47 1 53 1-43 1 37 1-37 1 30 1-35 1 45 1-51 1 49 1-56 1 62 1-67 1 56 1-49 1 46 1-37 1 34 1-26 1 35 1-34 1 36 1-43 1 35 1-37 1 34 1-37 1 31 1-27 1 29 1-30 1 39 1-38 1 46 1-45 1 56 1-64 1 56 1-52 1 48 1-37 1 25 1-23 1 22 1-20 1 31 1-42 1 52 1-66 1 66 1-62 1 65 1-56 1 50 1-54 1 43 1-42 1 31 1-39 1 45 1-42 1 53 1-42 1 47 1-51 1 57 1-62 1 52 1-57 1 63 1-51 1 55 1-44 1 35 1-33 1 33 1-36 1 31 1-41 1 46 1-50 1 60 1-53 1 49 1-39 1 28 1-34 1 42 1-59 1 68 1-58 1 51 1-51 1 62 1-62 1 47 1-46 1 35 1-41 1 48 1-39 1 43 1-43 1 29 1-22 1 22 1-16 1 19 1-27 1 29 1-35 1 39 1-48 1 51 1-47 1 45 1-36 1 49 1-57 1 55 1-46 1 33 1-23 1 31 1-30 1 41 1-40 1 33 1-34 1 32 1-39 1 31 1-40 1 38 1-49 1 53 1-41 1 44 1-34 1 38 1-47 1 37 1-47 1 48 1-43 1 52 1-46 1 46 1-37 1 34 1-28 1 28 1-28 1 33 1-36 1 36 1-45 1 41 1-49 1 51 1-55 1 59 1-54 1 48 1-44 1 40 1-33 1 27 1-30 1 45 1-53 1 62 1-60 1 42 1-34 1 28 1-29 1 28 1-34 1 35 1-44 1 45 1-38 1 39 1-28 1 36 1-41 1 46 1-40 1 32 1-26 1 20 1-21 1 20 1-24 1 23 1-31 1 31 1-39 1 48 1-40 1 43 1-35 1 38 1-33 1 36 1-34 1 38 1-37 1 31 1-31 1 37 1-39 1 32 1-31 1 40 1-46 1 48 1-49 1 39 1-39 1 29 1-31 1 32 1-30 1 47 1-52 1 47 1-46 1 34 1-30 1 44 1-53 1 42 1-39 1 46 1-39 1 37 1-32 1 47 1-55 1 42 1-43 1 40 1-34 1 37 1-36 1 33 1-45 1 44 1-53 1 50 1-38 1 44 1-36 1 46 1-50 1 53 1-58 1 58 1-60 1 49 1-44 1 41 1-55 1 52 1-38 1 34 1-21 1 20 1-19 1 19 1-20 1 20 1-21 1 22 1-23 1 30 1-37 1 39 1-43 1 43 1-51 1 44 1-45 1 45 1-42 1 44 1-29 1 33 1-29 1 23 1-23 1 20 1-28 1 31 1-35 1 47 1-53 1 60 1-63 1 60 1-58 1 57 1-50 1 41 1-49 1 54 1-49 1 40 1-39 1 52 1-46 1 42 1-37 1 29 1-21 1 29 1-28 1 31 1-40 1 40 1-57 1 54 1-47 1 39 1-46 1 44 1-31" fill="none" stroke="#008000" stroke-width="1.20" vector-effect="non-scaling-stroke"/>
<path transform="translate(135.000 0) scale(0.48104 0.5)" d="M0 898 l1-1 1-2 1-1 1-1 1-2 1-1 1-1 1-2 1-1 1-1 1-1 1-1 1-1 1-1 1-1 1-1 1-1 1-1 1-1 1 0 1-1 1-1 1-1 1-1 1-1 1-1 1-1 1 0 1-1 1-1 1-1 1 0 1-1 1 0 1-1 1 0 1-1 1 0 1-1 1 0 1 0 1 0 1 0 1 0 1 0 1 1 1 0 1 1 1 1 1 1 1 1 1 1 1 1 1 1 1 2 1 1 1 2 1 1 1 2 1 1 1 2 1 1 1 2 1 2 1 1 1 2 1 1 1 2 1 1 1 2 1 2 1 2 1 1 1 2 1 2 1 2 1 3 1 2 1 2 1 2 1 2 1 3 1 2 1 2 1 3 1 2 1 2 1 3 1 2 1 2 1 3 1 2 1 2 1 2 1 2 1 3 1 2 1 2 1 2 1 2 1 2 1 2 1 2 1 3 1 2 1 2 1 2 1 2 1 2 1 2 1 3 1 2 1 2 1 2 1 2 1 2 1 3 1 2 1 2 1 2 1 3 1 2 1 2 1 3 1 2 1 3 1 2 1 3 1 2 1 3 1 2 1 3 1 2 1 3 1 2 1 2 1 2 1 3 1 2 1 2 1 2 1 2 1 2 1 2 1 2 1 2 1 2 1 2 1 2 1 2 1 2 1 2 1 2 1 1 1 2 1 2 1 2 1 2 1 2 1 1 1 2 1 2 1 1 1 2 1 2 1 2 1 1 1 2 1 2 1 1 1 2 1 2 1 1 1 2 1 2 1 1 1 2 1 1 1 2 1 1 1 2 1 1 1 1 1 2 1 1 1 1 1 1 1 1 1 1 1 1 1 1 1 1 1 1 1 1 1 1 1 0 1 1 1 1 1 1 1 1 1 0 1 1 1 1 1 0 1 1 1 1 1 1 1 0 1 1 1 1 1 0 1 1 1 1 1 0 1 1 1 1 1 1 1 0 1 1 1 1 1 0 1 1 1 1 1 1 1 0 1 1 1 1 1 0 1 1 1 1 1 0 1 1 1 0 1 1 1 1 1 0 1 1 1 1 1 0 1 1 1 0 1 1 1 1 1 0 1 1 1 0 1 1 1 0 1 1 1 1 1 0 1 1 1 0 1 1 1 0 1 1 1 0 1 1 1 0 1 1 1 0 1 1 1 1 1 0 1 1 1 0 1 1 1 0 1 1 1 0 1 1 1 1 1 0 1 1 1 0 1 1 1 0 1 1 1 1 1 0 1 1 1 0 1 1 1 1 1 0 1 1 1 0 1 1 1 0 1 1 1 0 1 1 1 0 1 1 1 0 1 1 1 0 1 1 1 0 1 1 1 0 1 0 1 1 1 0 1 1 1 0 1 1 1 0 1 0 1 1 1 0 1 1 1 0 1 0 1 1 1 0 1 0 1 1 1 0 1 0 1 1 1 0 1 0 1 1 1 0 1 0 1 1 1 0 1 0 1 0 1 1 1 0 1 0 1 1 1 0 1 0 1 0 1 1 1 0 1 0 1 0 1 0 1 0 1 1 1 0 1 0 1 0 1 0 1 0 1 0 1 0 1 0 1 0 1 0 1 0 1 0 1 0 1 0 1 0 1 0 1 0 1 1 1 0 1 0 1 0 1 0 1 0 1 0 1 0 1 0 1 0 1 0 1 0 1 0 1 0 1 0 1 0 1 1 1 0 1 0 1 0 1 0 1 0 1 0 1 0 1 0 1 0 1 0 1 0 1 0 1 0 1-1 1-1 1-1 1-1 1-2 1-2 1-2 1-3 1-3 1-4 1-4 1-4 1-4 1-4 1-4 1-4 1-3 1-3 1-2 1-1 1-1 1 1 1 1 1 2 1 3 1 3 1 4 1 4 1 5 1 5 1 4 1 5 1 4 1 5 1 3 1 4 1 3 1 2 1 3 1 2 1 1 1 2 1 1 1 1 1 0 1 1 1 1 1 0 1 0 1 1 1 0 1 0 1 1 1 0 1 0 1 0 1 0 1 1 1 0 1 0 1 0 1 0 1 0 1 0 1 0 1 0 1 1 1 0 1 0 1 0 1 0 1 0 1 0 1 0 1 0 1 0 1 0 1 0 1 1 1 0 1 0 1 0 1 0 1 0 1 0 1 0 1 0 1 0 1 0 1 0 1 0 1 0 1 0 1 0 1 0 1 0 1 1 1 0 1 0 1 0 1 0 1-1 1 0 1 0 1 0 1 0 1 0 1 0 1 0 1-1 1 0 1-1 1 0 1-1 1 0 1-1 1-1 1-1 1-1 1-1 1-1 1-2 1-1 1-2 1-2 1-2 1-2 1-3 1-2 1-3 1-3 1-3 1-4 1-3 1-3 1-4 1-4 1-3 1-4 1-4 1-4 1-3 1-4 1-3 1-4 1-3 1-3 1-3 1-2 1-3 1-2 1-1 1-2 1-1 1-1 1 0 1-1 1 0 1-1 1-1 1-1 1-2 1-3 1-3 1-4 1-4 1-4 1-4 1-2 1 0 1 1 1 5 1 6 1 8 1 11 1 11 1 11 1 12 1 10 1 10 1 9 1 7 1 6 1 4 1 2 1-3 1-7 1-14 1-17 1-17 1-9 1 1 1 14 1 20 1 22 1 18 1 12 1 7 1 4 1 2 1 1 1 1 1 0 1 1 1 1 1 0 1 1 1 0 1 1 1 0 1 1 1 0 1 1 1 0 1 1 1 0 1 1 1 0 1 1 1 0 1 1 1 1 1 0 1 1 1 0 1 1 1 0 1 1 1 0 1 0 1 1 1 0 1 1 1 0 1 0 1 1 1 0 1 0 1 0 1 1 1 0 1 0 1 0 1 0 1 0 1 0 1 0 1 0 1 0 1 0 1-1 1 0 1 0 1 0 1 0 1 0 1 0 1-1 1 0 1 0 1 0 1 0 1-1 1 0 1 0 1-1 1 0 1 0 1 0 1-1 1 0 1 0 1-1 1 0 1 0 1-1 1 0 1-1 1 0 1 0 1-1 1 0 1-1 1 0 1-1 1 0 1 0 1-1 1-1 1 0 1-1 1 0 1-1 1 0 1-1 1-1 1 0 1-1 1-1 1 0 1-1 1-1 1-1 1 0 1-1 1-1 1 0 1-1 1-1 1-1 1 0 1-1 1-1 1 0 1-1 1 0 1-1 1-1 1 0 1-1 1 0 1 0 1-1 1 0 1-1 1 0 1 0 1 0 1 0 1 0 1-1 1 0 1 0 1 1 1 0 1 0 1 0 1 0 1 0 1 1 1 0 1 0 1 1 1 0 1 1 1 0 1 1 1 0 1 1 1 1 1 0 1 1 1 0 1 1 1 1 1 0 1 1 1 1 1 0 1 1 1 1 1 1 1 0 1 1 1 0 1 1 1 1 1 0 1 1 1 1 1 0 1 1 1 0 1 1 1 1 1 0 1 1 1 1 1 0 1 1 1 1 1 1 1 0 1 1 1 1 1 0 1 1 1 1 1 0 1 1 1 1 1 0 1 1 1 0 1 1 1 1 1 0 1 1 1 0 1 1 1 1 1 0 1 1 1 0 1 1 1 0 1 0 1 1 1 0 1 1 1 0 1 0 1 1 1 0 1 0 1 0 1 1 1 0 1 0 1 0 1 0 1 0 1 0 1 0 1 1 1 0 1 0 1 0 1 0 1 0 1 0 1 0 1 0 1 1 1 0 1 0 1 0 1 0 1 0 1 0 1 0 1 0 1 0 1 0 1 1 1 0 1 0 1 0 1 0 1 0 1 0 1 0 1 0 1 0 1 0 1 0 1 1 1 0 1 0 1 0 1 0 1 0 1 0 1 0 1 0 1 0 1 0 1 0 1 0 1 0 1 1 1 0 1 0 1 0 1 0 1 0 1 0 1 0 1 0 1 0 1 0 1 0 1 0 1 0 1 0 1 0 1 1 1 0 1 0 1 0 1 0 1 0 1 0 1 0 1 0 1 0 1 0 1 0 1 0 1 0 1 0 1 0 1 0 1 0 1 0 1 0 1 0 1 0 1 0 1 0 1 1 1 0 1 0 1 0 1 0 1 0 1 0 1 0 1 0 1 0 1 0 1 0 1 0 1 0 1 0 1 0 1 0 1 0 1 0 1 0 1 0 1 0 1 0 1 0 1 0 1 0 1 0 1 0 1 0 1 0 1 0 1 0 1 0 1 0 1 0 1 0 1 0 1 0 1 0 1 0 1 0 1 0 1 0 1 0 1 0 1 0 1 0 1 0 1 0 1 0 1 0 1 0 1 0 1 0 1 0 1-1 1 0 1 0 1 0 1 0 1 0 1 0 1 0 1 0 1 0 1 0 1 0 1 0 1 0 1 0 1 0 1 0 1 0 1 0 1 0 1 0 1-1 1 0 1 0 1 0 1 0 1 0 1 0 1 0 1 0 1 0 1 0 1 0 1 0 1 0 1 0 1 0 1 0 1-1 1 0 1 0 1 0 1 0 1 0 1 0 1 0 1 0 1 0 1 0 1 0 1 0 1 0 1 0 1 0 1 0 1 0 1-1 1 0 1 0 1 0 1 0 1 0 1 0 1 0 1 0 1 0 1 0 1 0 1 0 1 0 1 0 1 0 1 0 1 0 1 0 1 0 1 0 1-1 1 0 1 0 1 0 1 0 1 0 1 0 1 0 1 0 1 0 1 0 1 0 1 0 1 0 1 0 1 0 1 0 1 0 1 0 1 0 1 0 1 0 1 0 1 0 1 0 1 0 1 0 1 0 1 0 1 0 1 0 1 0 1 0 1 0 1 0 1 0 1 0 1 0 1 0 1 0 1 0 1 0 1 0 1 0 1 0 1 0 1 0 1 0 1 1 1 0 1 0 1 0 1 0 1 0 1 0 1 0 1 0 1 0 1 0 1 0 1 0 1 0 1 0 1 0 1 0 1 0 1 0 1 0 1 0 1 1 1 0 1 0 1 0 1 0 1 0 1 0 1 0 1 0 1 0 1 0 1 0 1 0 1 0 1 0 1 0 1 0 1 0 1 1 1 0 1 0 1 0 1 0 1 0 1 0 1 0 1 0 1 0 1 0 1 0 1 0 1 0 1 0 1 0 1 0 1 1 1 0 1 0 1 0 1 0 1 0 1 0 1 0 1 0 1 0 1 0 1 0 1 0 1 0 1 0 1 0 1 0 1 0 1 0 1 0 1 0 1 1 1 0 1 0 1 0 1 0 1 0 1 0 1 0 1 0 1 0 1 0 1 0 1 0 1 0 1 0 1 0 1 0 1 0 1 0 1 0 1 0 1 0 1 0 1 0 1 0 1 0 1 0 1 0 1 0 1 0 1 0 1 0 1 0 1 0 1 0 1 0 1 0 1 0 1 0 1 0 1 0 1 0 1 0 1 0 1-1 1 0 1 0 1 0 1 0 1 0 1 0 1 0 1 0 1 0 1 0 1 0 1 0 1 0 1 0 1 0 1-1 1 0 1 0 1 0 1 0 1 0 1 0 1 0 1 0 1 0 1 0 1 0 1-1 1 0 1 0 1 0 1 0 1 0 1 0 1 0 1 0 1 0 1-1 1 0 1 0 1 0 1 0 1 0 1 0 1 0 1 0 1 0 1 0 1-1 1 0 1 0 1 0 1 0 1 0 1 0 1 0 1 0 1 0 1-1 1 0 1 0 1 0 1 0 1 0 1 0 1 0 1 0 1 0 1 0 1-1 1 0 1 0 1 0 1 0 1 0 1 0 1 0 1 0 1 0 1 0 1 0 1-1 1 0 1 0 1 0 1 0 1 0 1 0 1 0 1 0 1 0 1 0 1 0 1 0 1 0 1 0 1 0 1-1 1 0 1 0 1 0 1 0 1 0 1 0 1 0 1 0 1 0 1 0 1 0 1 0 1 0 1 0 1 0 1 0 1 0 1 0 1 0 1 0 1 0 1 0 1 0 1 0 1 0 1 0 1 0 1 0 1 0 1 0 1 0 1 1 1 0 1 0 1 0 1 0 1 0 1 0 1 0 1 0 1 0 1 1 1 0 1 0 1 0 1 0 1 0 1 0 1 1 1 0 1 0 1 0 1 0 1 0 1 1 1 0 1 0 1 0 1 0 1 1 1 0 1 0 1 0 1 0 1 1 1 0 1 0 1 0 1 0 1 1 1 0 1 0 1 0 1 1 1 0 1 0 1 0 1 0 1 1 1 0 1 0 1 0 1 1 1 0 1 0 1 0 1 1 1 0 1 0 1 0 1 0 1 1 1 0 1 0 1 0 1 1 1 0 1 0 1 0 1 1 1 0 1 0 1 0 1 0 1 1 1 0 1 0 1 0 1 1 1 0 1 0 1 0 1 0 1 1 1 0 1 0 1 0 1 0 1 1 1 0 1 0 1 0 1 0 1 1 1 0 1 0 1 0 1 0 1 0 1 1 1 0 1 0 1 0 1 0 1 0 1 0 1 0 1 1 1 0 1 0 1 0 1 0 1 0 1 0 1 0 1 0 1 1 1 0 1 0 1 0 1 0 1 0 1 0 1 0 1 0 1 0 1 0 1 1 1 0 1 0 1 0 1 0 1 0 1 0 1 0 1 0 1 0 1 0 1 0 1 1 1 0 1 0 1 0 1 0 1 0 1 0 1 0 1 0 1 0 1 0 1 0 1 0 1 1 1 0 1 0 1 0 1 0 1 0 1 0 1 0 1 0 1 0 1 0 1 0 1 0 1 0 1 0 1 1 1 0 1 0 1 0 1 0 1 0 1 0 1 0 1 0 1 0 1 0 1 0 1 0 1 0 1 0 1 1 1 0 1 0 1 0 1 0 1 0 1 0 1 0 1 0 1 0 1 0 1 0 1 0 1 0 1 0 1 0 1 1 1 0 1 0 1 0 1 0 1 0 1 0 1 0 1 0 1 0 1 0 1 0 1 0 1 0 1 0 1 0 1 1 1 0 1 0 1 0 1 0 1 0 1 0 1 0 1 0 1 0 1 0 1 0 1 0 1 0 1 0 1 1 1 0 1 0 1 0 1 0 1 0 1 0 1 0 1 0 1 0 1 0 1 0 1 0 1 0 1 1 1 0 1 0 1 0 1 0 1 0 1 0 1 0 1 0 1 0 1 0 1 0 1 0 1 0 1 1 1 0 1 0 1 0 1 0 1 0 1 0 1 0 1 0 1 0 1 0 1 0 1 0 1 0 1 1 1 0 1 0 1 0 1 0 1 0 1 0 1 0 1 0 1 0 1 0 1 0 1 0 1 0 1 1 1 0 1 0 1 0 1 0 1 0 1 0 1 0 1 0 1 0 1 0 1 0 1 0 1 0 1 1 1 0 1 0 1 0 1 0 1 0 1 0 1 0 1 0 1 0 1 0 1 0 1 0 1 1 1 0 1 0 1 0 1 0 1 0 1 0 1 0 1 0 1 0 1 0 1 0 1 0 1 0 1 1 1 0 1 0 1 0 1 0 1 0 1 0 1 0 1 0 1 0 1 0 1 0 1 1 1 0 1 0 1 0 1 0 1 0 1 0 1 0 1 0 1 0 1 0 1 0 1 1 1 0 1 0 1 0 1 0 1 0 1 0 1 0 1 0 1 0 1 0 1 0 1 1 1 0 1 0 1 0 1 0 1 0 1 0 1 0 1 0 1 0 1 0 1 1 1 0 1 0 1 0 1 0 1 0 1 0 1 0 1 0 1 0 1 1 1 0 1 0 1 0 1 0 1 0 1 0 1 0 1 0 1 0 1 1 1 0 1 0 1 0 1 0 1 0 1 0 1 0 1 0 1 0 1 1 1 0 1 0 1 0 1 0 1 0 1 0 1 0 1 0 1 1 1 0 1 0 1 0 1 0 1 0 1 0" fill="none" stroke="#000088" stroke-width="5.00" stroke-linejoin="bevel" vector-effect="non-scaling-stroke"/>
<path transform="translate(135.000 0) scale(0.48104 0.5)" d="M0 878 l1 44 1-52 1 46 1-56 1 48 1-41 1 47 1-51 1 48 1-54 1 52 1-55 1 59 1-61 1 54 1-58 1 49 1-48 1 50 1-44 1 46 1-54 1 50 1-50 1 52 1-53 1 48 1-55 1 54 1-51 1 42 1-41 1 42 1-41 1 38 1-33 1 36 1-40 1 37 1-32 1 30 1-33 1 27 1-33 1 37 1-34 1 40 1-44 1 50 1-51 1 51 1-44 1 41 1-34 1 45 1-48 1 52 1-47 1 49 1-51 1 56 1-49 1 47 1-50 1 54 1-55 1 59 1-47 1 53 1-55 1 60 1-54 1 50 1-44 1 50 1-41 1 55 1-49 1 45 1-49 1 51 1-44 1 48 1-37 1 47 1-43 1 43 1-44 1 53 1-54 1 53 1-47 1 52 1-37 1 43 1-45 1 41 1-43 1 52 1-49 1 56 1-42 1 38 1-28 1 38 1-33 1 36 1-35 1 38 1-44 1 49 1-41 1 47 1-40 1 45 1-32 1 31 1-39 1 48 1-51 1 59 1-45 1 51 1-53 1 52 1-46 1 54 1-46 1 56 1-52 1 55 1-56 1 56 1-45 1 52 1-37 1 45 1-44 1 49 1-50 1 49 1-55 1 56 1-45 1 51 1-54 1 61 1-53 1 58 1-48 1 55 1-46 1 52 1-47 1 52 1-48 1 47 1-51 1 51 1-51 1 51 1-50 1 52 1-38 1 47 1-42 1 45 1-41 1 41 1-41 1 46 1-42 1 60 1-61 1 57 1-60 1 60 1-50 1 58 1-48 1 55 1-56 1 50 1-55 1 51 1-49 1 54 1-46 1 57 1-58 1 62 1-55 1 56 1-55 1 59 1-59 1 50 1-58 1 56 1-55 1 55 1-49 1 45 1-32 1 40 1-44 1 51 1-46 1 56 1-54 1 46 1-51 1 45 1-40 1 48 1-45 1 44 1-49 1 51 1-55 1 61 1-57 1 55 1-46 1 56 1-48 1 46 1-41 1 36 1-35 1 35 1-54 1 59 1-49 1 57 1-51 1 52 1-66 1 62 1-50 1 41 1-35 1 48 1-42 1 50 1-45 1 42 1-40 1 38 1-36 1 35 1-35 1 25 1-27 1 31 1-29 1 41 1-50 1 54 1-60 1 54 1-52 1 49 1-52 1 55 1-58 1 60 1-46 1 44 1-32 1 28 1-25 1 26 1-32 1 35 1-36 1 48 1-46 1 42 1-36 1 29 1-25 1 33 1-42 1 38 1-45 1 44 1-37 1 37 1-45 1 43 1-28 1 33 1-28 1 26 1-29 1 31 1-33 1 47 1-39 1 48 1-54 1 51 1-55 1 46 1-42 1 52 1-46 1 42 1-43 1 43 1-44 1 33 1-20 1 28 1-29 1 35 1-43 1 53 1-59 1 53 1-52 1 49 1-42 1 52 1-47 1 47 1-49 1 48 1-55 1 47 1-37 1 44 1-52 1 50 1-58 1 52 1-41 1 34 1-27 1 30 1-26 1 35 1-39 1 44 1-43 1 46 1-41 1 43 1-47 1 34 1-48 1 55 1-54 1 52 1-42 1 43 1-38 1 43 1-39 1 34 1-41 1 42 1-51 1 49 1-56 1 60 1-48 1 37 1-48 1 44 1-31 1 32 1-31 1 33 1-42 1 41 1-42 1 44 1-34 1 36 1-45 1 53 1-49 1 44 1-47 1 51 1-54 1 64 1-53 1 42 1-36 1 31 1-41 1 48 1-53 1 53 1-51 1 35 1-43 1 39 1-41 1 30 1-43 1 36 1-58 1 63 1-59 1 45 1-40 1 31 1-30 1 32 1-34 1 27 1-22 1 36 1-38 1 43 1-46 1 48 1-24 1 32 1-20 1 28 1-25 1 48 1-54 1 70 1-59 1 52 1-36 1 24 1-22 1 25 1-21 1 31 1-39 1 44 1-51 1 51 1-52 1 43 1-34 1 38 1-34 1 37 1-43 1 49 1-41 1 42 1-41 1 37 1-44 1 45 1-37 1 38 1-32 1 41 1-39 1 41 1-48 1 41 1-48 1 45 1-52 1 60 1-54 1 58 1-56 1 44 1-43 1 51 1-45 1 43 1-43 1 42 1-48 1 53 1-45 1 38 1-39 1 30 1-25 1 28 1-31 1 38 1-49 1 52 1-50 1 53 1-53 1 44 1-33 1 38 1-44 1 48 1-53 1 38 1-34 1 42 1-33 1 44 1-45 1 27 1-35 1 34 1-51 1 46 1-44 1 44 1-38 1 44 1-38 1 31 1-36 1 42 1-47 1 39 1-43 1 40 1-51 1 40 1-44 1 30 1-35 1 16 1-29 1 31 1-47 1 55 1-69 1 56 1-51 1 34 1-42 1 38 1-51 1 46 1-39 1 44 1-57 1 53 1-63 1 54 1-59 1 47 1-47 1 45 1-40 1 43 1-43 1 48 1-45 1 44 1-47 1 31 1-38 1 30 1-37 1 37 1-40 1 46 1-39 1 53 1-28 1 58 1-34 1 48 1-35 1 50 1-45 1 54 1-32 1 41 1-23 1 19 1-35 1 17 1-57 1 20 1-34 1 30 1-17 1 49 1-18 1 55 1-16 1 37 1-34 1 41 1-38 1 40 1-33 1 36 1-34 1 34 1-44 1 49 1-41 1 51 1-44 1 58 1-46 1 34 1-34 1 25 1-31 1 31 1-41 1 39 1-25 1 33 1-26 1 37 1-35 1 43 1-47 1 39 1-57 1 50 1-42 1 37 1-39 1 39 1-29 1 37 1-40 1 44 1-38 1 41 1-37 1 31 1-36 1 45 1-54 1 47 1-39 1 48 1-52 1 51 1-53 1 53 1-54 1 49 1-49 1 36 1-43 1 40 1-34 1 38 1-34 1 50 1-59 1 60 1-65 1 65 1-58 1 56 1-49 1 38 1-39 1 34 1-31 1 29 1-25 1 22 1-25 1 21 1-20 1 22 1-23 1 24 1-22 1 29 1-34 1 38 1-54 1 49 1-56 1 49 1-36 1 40 1-47 1 57 1-49 1 47 1-41 1 35 1-45 1 51 1-63 1 50 1-54 1 51 1-44 1 48 1-45 1 45 1-54 1 58 1-60 1 44 1-37 1 26 1-35 1 34 1-31 1 36 1-27 1 32 1-32 1 37 1-52 1 58 1-58 1 56 1-43 1 40 1-39 1 34 1-38 1 32 1-40 1 39 1-46 1 47 1-39 1 43 1-41 1 47 1-54 1 62 1-57 1 51 1-43 1 41 1-46 1 45 1-36 1 47 1-49 1 50 1-62 1 52 1-48 1 49 1-47 1 41 1-38 1 44 1-51 1 49 1-40 1 47 1-35 1 36 1-30 1 34 1-37 1 45 1-47 1 52 1-56 1 49 1-40 1 31 1-27 1 27 1-25 1 34 1-35 1 46 1-55 1 53 1-61 1 58 1-54 1 49 1-47 1 52 1-44 1 50 1-39 1 38 1-30 1 27 1-30 1 35 1-33 1 44 1-54 1 44 1-56 1 54 1-41 1 43 1-50 1 48 1-41 1 49 1-58 1 68 1-59 1 65 1-57 1 38 1-39 1 31 1-35 1 39 1-44 1 54 1-51 1 63 1-64 1 58 1-51 1 41 1-34 1 25 1-27 1 36 1-37 1 50 1-46 1 42 1-42 1 46 1-52 1 47 1-61 1 52 1-52 1 67 1-62 1 60 1-49 1 42 1-50 1 60 1-57 1 56 1-43 1 44 1-39 1 37 1-38 1 36 1-37 1 26 1-26 1 18 1-31 1 31 1-36 1 38 1-40 1 52 1-58 1 66 1-56 1 57 1-47 1 49 1-44 1 35 1-38 1 29 1-35 1 43 1-43 1 49 1-58 1 64 1-65 1 59 1-57 1 51 1-55 1 54 1-56 1 57 1-53 1 49 1-45 1 39 1-30 1 27 1-31 1 39 1-44 1 52 1-44 1 43 1-33 1 39 1-39 1 36 1-49 1 44 1-43 1 36 1-29 1 31 1-31 1 31 1-36 1 34 1-30 1 35 1-30 1 38 1-39 1 29 1-43 1 36 1-42 1 43 1-32 1 35 1-25 1 33 1-28 1 30 1-33 1 25 1-23 1 26 1-27 1 32 1-30 1 24 1-29 1 21 1-31 1 47 1-56 1 60 1-55 1 54 1-50 1 57 1-72 1 64 1-52 1 41 1-32 1 25 1-28 1 30 1-34 1 30 1-35 1 37 1-40 1 49 1-44 1 48 1-44 1 52 1-44 1 45 1-47 1 31 1-26 1 20 1-19 1 29 1-30 1 35 1-34 1 39 1-40 1 30 1-40 1 50 1-47 1 50 1-41 1 39 1-43 1 35 1-38 1 28 1-27 1 36 1-45 1 56 1-58 1 57 1-51 1 49 1-57 1 40 1-35 1 30 1-23 1 23 1-21 1 21 1-26 1 25 1-32 1 32 1-35 1 34 1-29 1 31 1-21 1 18 1-15 1 17 1-19 1 30 1-36 1 38 1-52 1 60 1-55 1 56 1-50 1 39 1-46 1 38 1-38 1 40 1-40 1 57 1-52 1 37 1-26 1 18 1-19 1 18 1-17 1 16 1-24 1 25 1-27 1 29 1-31 1 29 1-36 1 35 1-45 1 63 1-52 1 56 1-66 1 66 1-57 1 53 1-48 1 53 1-46 1 38 1-36 1 39 1-42 1 37 1-41 1 35 1-33 1 26 1-21 1 24 1-22 1 38 1-47 1 56 1-62 1 49 1-44 1 52 1-62 1 64 1-58 1 60 1-68 1 60 1-53 1 42 1-31 1 25 1-28 1 36 1-47 1 55 1-56 1 65 1-59 1 57 1-51 1 43 1-52 1 43 1-49 1 47 1-42 1 52 1-41 1 39 1-32 1 32 1-32 1 38 1-49 1 38 1-47 1 48 1-39 1 43 1-35 1 31 1-24 1 25 1-28 1 32 1-39 1 53 1-58 1 41 1-43 1 35 1-32 1 30 1-40 1 43 1-41 1 42 1-34 1 41 1-43 1 47 1-52 1 43 1-27 1 23 1-22 1 23 1-31 1 30 1-29 1 33 1-42 1 52 1-41 1 50 1-59 1 52 1-62 1 53 1-42 1 36 1-33 1 34 1-46 1 44 1-34 1 36 1-44 1 45 1-30 1 36 1-51 1 67 1-60 1 52 1-43 1 44 1-38 1 34 1-35 1 41 1-52 1 49 1-47 1 39 1-40 1 49 1-61 1 60 1-51 1 42 1-30 1 22 1-18 1 31 1-28 1 43 1-47 1 38 1-43 1 44 1-50 1 58 1-51 1 37 1-29 1 23 1-24 1 29 1-32 1 35 1-42 1 35 1-37 1 38 1-37 1 39 1-41 1 43 1-49 1 44 1-35 1 37 1-31 1 35 1-34 1 23 1-28 1 24 1-21 1 23 1-22 1 29 1-42 1 51 1-60 1 59 1-46 1 44 1-55 1 56 1-45 1 48 1-44 1 37 1-47 1 40 1-28 1 33 1-31 1 34 1-36 1 29 1-35 1 29 1-49 1 45 1-28 1 42 1-44 1 57 1-67 1 55 1-42 1 35 1-41 1 46 1-46 1 53 1-49 1 47 1-41 1 32 1-26 1 31 1-37 1 48 1-58 1 51 1-51 1 49 1-58 1 67 1-46 1 37 1-37 1 36 1-45 1 39 1-43 1 51 1-50 1 57 1-58 1 48 1-47 1 38 1-32 1 35 1-28 1 34 1-40 1 26 1-36 1 35 1-41 1 39 1-41 1 44 1-35 1 47 1-56 1 50 1-42 1 34 1-41 1 40 1-42 1 49 1-51 1 54 1-53 1 58 1-49 1 50 1-57 1 51 1-48 1 41 1-38 1 33 1-21 1 25 1-25 1 23 1-27 1 29 1-29 1 31 1-38 1 45 1-34 1 43 1-40 1 42 1-48 1 48 1-47 1 44 1-40 1 40 1-52 1 54 1-63 1 56 1-46 1 43 1-42 1 51 1-45 1 38 1-44 1 35 1-39 1 45 1-34 1 34 1-29 1 34 1-27 1 24 1-25 1 25 1-22 1 21 1-23 1 41 1-40 1 29 1-29 1 22 1-21 1 29 1-27 1 38 1-39 1 42 1-40 1 39 1-43 1 32 1-41 1 42 1-45 1 43 1-37 1 52 1-55 1 53 1-63 1 54 1-53 1 41 1-33 1 41 1-50 1 57 1-42 1 32 1-35 1 34 1-44 1 41 1-38 1 46 1-42 1 54 1-38 1 27 1-39 1 32 1-42 1 46 1-48 1 46 1-33 1 35 1-30 1 33 1-42 1 50 1-52 1 55 1-59 1 64 1-50 1 43 1-32 1 27 1-40 1 50 1-57 1 64 1-55 1 56 1-56 1 45 1-53 1 49 1-46 1 43 1-34 1 39 1-28 1 33 1-33 1 44 1-42 1 29 1-29 1 34 1-36 1 30 1-27 1 21 1-21 1 15 1-16 1 23 1-25 1 36 1-33 1 39 1-43 1 37 1-40 1 43 1-44 1 42 1-50 1 60 1-63 1 58 1-67 1 58 1-50 1 45 1-36 1 40 1-38 1 44 1-54 1 57 1-55 1 58 1-53 1 43 1-37 1 44 1-50 1 46 1-47 1 39 1-33 1 32 1-31 1 42 1-46 1 49 1-63 1 52 1-54 1 56 1-40 1 41 1-39 1 35 1-39 1 46 1-45 1 58 1-48 1 37 1-48 1 45 1-54 1 47 1-39 1 36 1-27 1 26 1-28 1 25 1-28 1 31 1-33 1 33 1-34 1 33 1-34 1 34 1-24 1 26 1-21 1 21 1-18 1 15 1-17 1 32 1-30 1 42 1-43 1 45 1-52 1 38 1-42 1 49 1-42 1 51 1-45 1 46 1-48 1 40 1-38 1 29 1-28 1 17 1-19 1 18 1-17 1 20 1-26 1 30 1-38 1 40 1-48 1 49 1-52 1 60 1-51 1 56 1-45 1 34 1-36 1 43 1-47 1 54 1-68 1 66 1-48 1 37 1-36 1 27 1-30 1 27 1-21 1 26 1-31 1 51 1-51 1 47 1-46 1 40 1-32 1 39 1-47 1 54 1-55 1 44 1-41 1 32 1-26 1 19 1-19 1 22 1-30 1 29 1-41 1 46 1-44 1 45 1-44 1 49 1-51 1 55 1-59 1 53 1-53 1 59 1-50 1 51 1-40 1 39 1-40 1 32 1-46 1 41 1-38 1 45 1-41 1 44 1-43 1 50 1-39 1 33 1-29 1 27 1-30 1 40 1-46 1 49 1-54 1 44 1-42 1 34 1-40 1 46 1-53 1 63 1-51 1 57 1-52 1 42 1-48 1 42 1-39 1 30 1-31 1 31 1-24 1 39 1-31 1 36 1-38 1 44 1-46 1 39 1-56 1 45 1-35 1 30 1-45 1 42 1-45 1 58 1-42 1 53 1-49 1 49 1-56 1 51 1-64 1 68 1-59 1 56 1-54 1 62 1-65 1 55 1-50 1 59 1-61 1 59 1-48 1 40 1-39 1 52 1-49 1 38 1-41 1 28 1-40 1 51 1-55 1 62 1-45 1 30 1-24 1 25 1-29 1 31 1-40 1 51 1-52 1 49 1-45 1 54 1-59 1 60 1-56 1 49 1-49 1 55 1-66 1 54 1-44 1 35 1-42 1 41 1-42 1 51 1-42 1 52 1-51 1 54 1-47 1 48 1-61 1 53 1-58 1 67 1-69 1 67 1-57 1 62 1-51" fill="none" stroke="#000088" stroke-width="1.20" vector-effect="non-scaling-stroke"/>
<path transform="translate(135.000 0) scale(0.48104 0.5)" d="M0 721 l1-1 1-2 1-1 1-2 1-1 1-1 1-2 1-1 1-1 1-1 1-1 1-1 1-1 1-1 1-1 1-1 1 0 1-1 1-1 1-1 1 0 1-1 1-1 1 0 1-1 1-1 1 0 1-1 1 0 1-1 1-1 1 0 1-1 1 0 1 0 1-1 1 0 1 0 1 0 1-1 1 0 1 0 1 0 1 0 1 1 1 0 1 1 1 0 1 1 1 1 1 1 1 1 1 2 1 1 1 1 1 2 1 1 1 2 1 1 1 2 1 1 1 2 1 2 1 1 1 2 1 1 1 2 1 1 1 2 1 1 1 2 1 1 1 2 1 2 1 2 1 1 1 2 1 2 1 2 1 2 1 2 1 2 1 2 1 2 1 1 1 2 1 2 1 2 1 2 1 2 1 2 1 2 1 2 1 1 1 2 1 2 1 1 1 2 1 2 1 1 1 2 1 1 1 2 1 2 1 1 1 2 1 1 1 2 1 1 1 2 1 1 1 2 1 2 1 1 1 2 1 1 1 2 1 2 1 1 1 2 1 1 1 2 1 2 1 2 1 1 1 2 1 2 1 2 1 2 1 2 1 1 1 2 1 2 1 2 1 2 1 2 1 2 1 2 1 2 1 2 1 1 1 2 1 2 1 2 1 2 1 1 1 2 1 2 1 2 1 1 1 2 1 2 1 2 1 1 1 2 1 2 1 1 1 2 1 2 1 2 1 1 1 2 1 2 1 1 1 2 1 1 1 2 1 1 1 2 1 1 1 1 1 2 1 1 1 1 1 1 1 1 1 1 1 1 1 1 1 1 1 1 1 1 1 1 1 0 1 1 1 1 1 1 1 1 1 0 1 1 1 1 1 1 1 0 1 1 1 1 1 1 1 0 1 1 1 1 1 1 1 1 1 1 1 1 1 1 1 1 1 1 1 1 1 1 1 1 1 1 1 2 1 1 1 1 1 1 1 1 1 1 1 1 1 1 1 1 1 1 1 1 1 1 1 1 1 1 1 1 1 0 1 1 1 1 1 0 1 1 1 0 1 1 1 1 1 0 1 1 1 0 1 1 1 0 1 0 1 1 1 0 1 1 1 0 1 1 1 0 1 0 1 1 1 0 1 1 1 0 1 0 1 1 1 0 1 0 1 1 1 0 1 0 1 1 1 0 1 0 1 1 1 0 1 0 1 0 1 1 1 0 1 0 1 1 1 0 1 0 1 0 1 1 1 0 1 0 1 0 1 1 1 0 1 0 1 0 1 0 1 1 1 0 1 0 1 0 1 0 1 0 1-3 1-5 1-10 1-14 1-15 1-10 1 1 1 10 1 15 1 14 1 11 1 6 1 2 1 1 1 1 1 0 1 0 1 1 1 0 1 0 1 0 1 0 1 1 1 0 1 0 1 0 1 0 1 1 1 0 1 0 1 0 1 0 1 1 1 0 1 0 1 0 1 0 1 1 1 0 1 0 1 0 1 0 1 1 1 0 1 0 1 0 1 0 1 0 1 1 1 0 1 0 1 0 1 0 1 1 1 0 1 0 1 0 1 0 1 0 1 1 1 0 1 0 1 0 1 0 1-1 1-1 1-3 1-5 1-5 1-6 1-3 1 0 1 4 1 6 1 6 1 4 1 4 1 2 1 1 1 0 1 1 1 0 1 0 1 0 1 1 1 0 1 0 1 0 1 1 1 0 1 0 1 0 1 1 1 0 1 0 1 1 1 0 1 0 1 1 1 0 1 0 1 1 1 0 1 0 1 1 1 0 1 1 1 0 1 0 1 0 1 0 1-2 1-4 1-10 1-15 1-22 1-23 1-19 1-7 1 8 1 19 1 24 1 23 1 16 1 10 1 6 1 2 1 1 1 1 1 0 1 1 1 0 1 1 1 0 1 0 1 1 1 0 1 0 1 1 1 0 1 0 1 1 1 0 1 0 1 1 1 0 1 0 1 0 1 1 1 0 1 0 1 1 1 0 1 0 1 0 1 0 1 1 1 0 1 0 1 0 1 1 1 0 1 0 1 0 1 0 1 1 1 0 1 0 1 0 1 0 1 0 1 1 1 0 1 0 1 0 1 0 1 0 1 1 1 0 1 0 1 0 1 0 1 0 1 1 1 0 1 0 1 0 1 0 1 0 1 1 1 0 1 0 1 0 1 0 1 0 1 0 1 0 1 0 1 0 1 0 1-3 1-7 1-18 1-33 1-56 1-76 1-83 1-65 1-25 1 25 1 66 1 83 1 76 1 56 1 34 1 17 1 7 1 3 1 1 1 1 1 0 1 0 1 0 1 0 1 0 1 0 1 0 1 0 1 1 1 0 1 0 1 0 1 0 1 0 1 0 1 0 1 1 1 0 1 0 1 0 1 0 1 0 1 0 1 1 1 0 1 0 1 0 1 0 1 0 1 1 1 0 1 0 1 0 1 1 1 0 1 0 1 1 1 0 1 1 1 0 1 1 1 0 1 1 1 1 1 0 1 1 1 0 1 1 1 0 1 1 1 0 1 0 1 1 1 0 1 0 1 0 1 0 1 0 1 0 1 1 1 0 1 0 1 0 1 0 1 0 1 0 1 0 1 0 1 0 1 0 1 0 1 1 1 0 1 0 1 0 1 0 1 0 1 0 1 0 1 0 1 0 1 0 1 0 1 0 1 0 1 0 1 0 1 0 1 0 1 0 1 0 1 0 1 0 1 1 1 0 1 0 1 0 1 0 1 0 1 0 1 0 1 0 1 0 1 0 1 0 1 0 1 0 1 0 1 0 1 0 1 1 1 0 1 0 1 0 1 0 1 0 1 0 1 0 1 0 1 0 1 1 1 0 1 0 1 0 1 0 1 0 1 1 1 0 1 0 1 0 1 1 1 0 1 0 1 0 1 1 1 0 1 0 1 1 1 0 1 0 1 0 1 0 1-2 1-5 1-10 1-19 1-26 1-30 1-27 1-13 1 5 1 22 1 30 1 30 1 23 1 15 1 8 1 4 1 1 1 1 1 1 1 0 1 0 1 1 1 0 1 1 1 0 1 0 1 1 1 0 1 0 1 1 1 0 1 0 1 1 1 0 1 1 1 0 1 0 1 1 1 0 1 0 1 1 1 0 1 0 1 0 1 1 1 0 1 0 1 1 1 0 1 0 1 0 1 1 1 0 1 0 1 0 1 0 1 1 1 0 1 0 1 0 1 0 1 0 1 1 1 0 1 0 1 0 1 0 1 0 1 0 1 0 1 0 1 0 1 0 1 1 1 0 1 0 1 0 1 0 1 0 1 0 1 0 1 0 1 0 1 0 1 0 1 0 1 0 1 0 1 0 1 1 1 0 1 0 1 0 1 0 1 0 1 0 1 0 1 0 1 0 1 0 1 0 1 0 1 0 1 0 1 0 1 0 1 1 1 0 1 0 1 0 1 0 1 0 1 0 1 0 1 0 1 0 1 0 1 0 1 0 1 0 1 0 1 0 1 0 1 0 1 0 1 0 1 0 1 0 1 0 1 0 1 1 1 0 1 0 1 0 1 0 1 0 1 0 1 0 1 0 1 0 1 0 1 0 1 0 1 0 1 0 1 0 1 0 1 0 1 0 1 0 1 0 1 0 1 0 1 0 1 0 1 0 1 0 1 0 1 0 1 0 1 0 1 0 1 0 1 0 1 0 1 0 1 0 1 0 1 0 1 0 1 0 1 0 1 0 1 0 1 0 1 0 1 0 1 0 1 0 1 0 1 0 1 0 1 0 1 0 1 0 1-1 1 0 1 0 1 0 1 0 1 0 1 0 1 0 1 0 1 0 1 0 1 0 1 0 1 0 1 0 1 0 1 0 1 0 1 0 1 0 1-1 1 0 1 0 1 0 1 0 1 0 1 0 1 0 1 0 1 0 1 0 1 0 1 0 1 0 1 0 1 0 1-1 1 0 1 0 1 0 1 0 1 0 1 0 1 0 1 0 1 0 1 0 1 0 1 0 1 0 1 0 1-1 1 0 1 0 1 0 1 0 1 0 1 0 1 0 1 0 1 0 1 0 1 0 1 0 1 0 1 0 1-1 1 0 1 0 1 0 1 0 1 0 1 0 1 0 1 0 1-1 1-1 1-2 1-3 1-4 1-6 1-5 1-5 1-3 1 0 1 3 1 4 1 6 1 5 1 5 1 3 1 1 1 1 1 1 1 0 1 0 1 0 1 0 1 0 1 0 1 0 1 0 1 0 1 0 1 0 1 0 1 0 1 0 1 0 1 0 1 0 1 0 1 0 1 0 1 0 1 0 1 0 1 0 1 0 1 0 1 0 1 0 1-1 1 0 1 0 1 0 1 0 1 0 1 0 1 0 1 0 1 0 1 0 1 0 1 0 1 0 1 0 1 0 1 0 1 0 1 0 1 0 1 0 1 0 1 0 1 0 1 0 1 0 1 0 1 0 1 0 1 0 1 0 1 0 1 0 1 0 1 0 1 0 1 0 1 0 1 0 1 0 1 0 1 0 1 0 1 0 1 0 1 0 1 0 1 0 1 0 1 0 1 0 1 0 1 0 1 0 1 0 1 0 1 0 1 0 1 0 1 0 1 0 1 0 1 0 1 0 1 0 1 0 1 0 1-1 1 0 1 0 1 0 1 0 1 0 1 0 1 0 1 0 1 0 1 0 1 0 1 0 1 0 1 0 1 0 1 0 1 0 1 0 1 0 1 0 1 0 1 0 1 0 1 0 1 0 1 0 1 0 1 0 1 0 1 0 1 0 1 0 1 0 1 0 1 0 1 0 1 0 1 0 1 0 1 0 1 0 1 0 1 0 1 0 1 0 1 0 1 0 1 0 1 0 1 0 1 0 1 0 1 0 1 0 1 0 1 0 1 0 1 0 1 0 1 0 1 0 1-1 1 0 1 0 1 0 1 0 1 0 1 0 1 0 1 0 1 0 1 0 1 0 1 0 1 0 1 0 1 0 1 0 1 0 1 0 1 0 1 0 1 0 1 0 1 0 1 0 1 0 1 0 1 0 1 0 1 0 1 0 1 0 1 0 1 0 1 0 1 0 1 0 1 0 1 0 1 0 1 0 1 0 1 0 1 0 1 0 1 0 1 0 1 0 1 0 1-1 1 0 1 0 1 0 1 0 1 0 1 0 1 0 1 0 1 0 1 0 1 0 1 0 1 0 1 0 1 0 1 0 1 0 1 0 1 0 1 0 1 0 1 0 1 0 1 0 1 0 1 0 1 0 1 0 1 0 1 0 1 0 1 0 1 0 1 0 1 0 1 0 1 0 1 0 1 0 1 0 1 0 1 0 1 0 1 0 1 0 1 0 1 0 1-1 1-1 1-3 1-5 1-9 1-12 1-13 1-11 1-3 1 4 1 11 1 14 1 13 1 9 1 6 1 3 1 1 1 1 1 0 1 1 1 0 1 0 1 0 1 0 1 0 1 1 1 0 1 0 1 0 1 0 1 0 1 1 1 0 1 0 1 0 1 0 1 0 1 1 1 0 1 0 1 0 1 0 1 0 1 0 1 1 1 0 1 0 1 0 1 0 1 0 1 0 1 0 1 1 1 0 1 0 1 0 1 0 1 0 1 0 1 1 1 0 1 0 1 0 1 0 1 0 1 0 1 0 1 0 1 1 1 0 1 0 1 0 1 0 1 0 1 0 1 0 1 0 1 1 1 0 1 0 1 0 1 0 1 0 1 0 1 0 1 0 1 1 1 0 1 0 1 0 1 0 1 0 1 0 1 0 1 0 1 0 1 0 1 1 1 0 1 0 1 0 1 0 1 0 1 0 1 0 1 0 1 0 1 0 1 1 1 0 1 0 1 0 1 0 1 0 1 0 1 0 1 0 1 0 1 0 1 1 1 0 1 0 1 0 1 0 1 0 1 0 1 0 1 0 1 0 1 0 1 0 1 0 1 1 1 0 1 0 1 0 1 0 1 0 1 0 1 0 1 0 1 0 1 0 1 0 1 0 1 1 1 0 1 0 1 0 1 0 1 0 1 0 1 0 1 0 1 0 1 0 1 0 1 0 1 1 1 0 1 0 1 0 1 0 1 0 1 0 1 0 1 0 1 0 1 0 1 0 1 0 1 0 1 1 1 0 1 0 1 0 1 0 1 0 1 0 1 0 1 0 1 0 1 0 1 0 1 0 1 0 1 0 1 1 1 0 1 0 1 0 1 0 1 0 1 0 1 0 1 0 1 0 1 0 1 0 1 0 1 0 1 0 1 1 1 0 1 0 1 0 1 0 1 0 1 0 1 0 1 0 1 0 1 0 1 0 1 0 1 0 1 0 1 0 1 0 1 0 1 1 1 0 1 0 1 0 1 0 1 0 1 0 1 0 1 0 1 0 1 0 1 0 1 0 1 0 1 0 1 0 1 0 1 0 1 0 1 0 1 0 1 0 1 0 1 1 1 0 1 0 1 0 1 0 1 0 1 0 1 0 1 0 1 0 1 0 1 0 1 0 1 0 1 0 1 0 1 0 1 0 1 0 1 0 1 0 1 0 1 0 1 0 1 0 1 0 1 0 1 0 1 0 1 0 1 0 1 0 1 0 1 0 1 0 1 0 1 0 1 0 1 0 1 0 1 0 1 0 1 0 1 0 1 0 1 0 1 0 1 0 1 0 1 0 1 0 1 0 1 0 1 0 1 0 1 0 1 0 1 0 1 0 1 0 1 1 1 0 1 0 1 0 1 0 1 0 1 0 1 0 1 0 1 0 1 0 1 0 1 0 1 0 1 0 1 0 1 0 1 0 1 0 1 0 1 0 1 0 1 0 1 0 1 0 1 0 1 0 1 0 1 0 1 0 1 0 1 0 1 0 1 0 1 0 1 0 1 0 1 0 1 0 1 0 1-1 1-2 1-5 1-9 1-14 1-16 1-16 1-10 1 0 1 11 1 16 1 17 1 14 1 10 1 5 1 3 1 1 1 1 1 0 1 0 1 1 1 0 1 0 1 1 1 0 1 0 1 1 1 0 1 0 1 1 1 0 1 1 1 0 1 0 1 1 1 0 1 1 1 0 1 0 1 1 1 0 1 0 1 1 1 0 1 1 1 0 1 0 1 1 1 0 1 0 1 1 1 0 1 0 1 1 1 0 1 0 1 1 1 0 1 0 1 0 1 1 1 0 1 0 1 0 1 1 1 0 1 0 1 0 1 0 1 1 1 0 1 0 1 0 1 0 1 0 1 0 1 0 1 0 1 1 1 0 1 0 1 0 1 0 1 0 1 0 1 0 1 0 1 0 1 1 1 0 1 0 1 0 1 0 1 0 1 0 1 0 1 0 1 0 1 0 1 0 1 1 1 0 1 0 1 0 1 0 1 0 1 0 1 0 1 0 1 0 1 0 1 0 1 0 1 1 1 0 1 0 1 0 1 0 1 0 1 0 1 0 1 0 1 0 1 0 1 0 1 0 1 0 1 0 1 0 1 1 1 0 1 0 1 0 1 0 1 0 1 0 1 0 1 0 1 0 1 0 1 0 1 0 1 0 1 0 1 0 1 0 1 0 1 0 1 0 1 0 1 1 1 0 1 0 1 0 1 0 1 0 1 0 1 0 1 0 1 0 1 0 1 0 1 0 1 0 1 0 1 0 1 0 1 0 1 0 1 0 1 0 1 0 1 0 1 0 1 0 1 0 1 0 1 0 1 0 1 0 1 0 1 0 1 0 1 0 1 0 1 0 1 1 1 0 1 0 1 0 1 0 1 0 1 0 1 0 1 0 1 0 1 0 1 0 1 0 1 0 1 0 1 0 1 0 1 0 1 0 1 0 1 0 1 0 1 0 1 0 1 0 1 0 1 0 1 0 1 0 1 0 1 0 1 0 1 0 1 0 1 0 1 0 1 0 1 0 1 0 1 0" fill="none" stroke="#8800ff" stroke-width="5.00" stroke-linejoin="bevel" vector-effect="non-scaling-stroke"/>
<path transform="translate(135.000 0) scale(0.48104 0.5)" d="M0 702 l1 38 1-43 1 37 1-46 1 51 1-50 1 47 1-50 1 49 1-55 1 54 1-49 1 41 1-50 1 48 1-47 1 52 1-52 1 55 1-50 1 45 1-49 1 46 1-45 1 43 1-42 1 35 1-37 1 33 1-34 1 34 1-36 1 35 1-32 1 33 1-34 1 32 1-32 1 31 1-32 1 34 1-36 1 39 1-38 1 39 1-43 1 46 1-55 1 57 1-56 1 56 1-51 1 51 1-46 1 56 1-55 1 56 1-50 1 55 1-63 1 56 1-48 1 59 1-45 1 46 1-44 1 53 1-47 1 43 1-38 1 35 1-32 1 44 1-43 1 45 1-40 1 38 1-35 1 42 1-45 1 49 1-39 1 41 1-37 1 41 1-40 1 46 1-45 1 50 1-51 1 63 1-57 1 48 1-40 1 37 1-33 1 39 1-37 1 43 1-33 1 51 1-51 1 48 1-48 1 43 1-48 1 58 1-51 1 57 1-53 1 55 1-50 1 41 1-37 1 44 1-46 1 46 1-46 1 58 1-53 1 59 1-44 1 50 1-44 1 45 1-42 1 49 1-53 1 55 1-52 1 57 1-58 1 55 1-58 1 53 1-44 1 52 1-38 1 49 1-41 1 48 1-42 1 40 1-38 1 50 1-54 1 53 1-53 1 61 1-56 1 53 1-51 1 52 1-40 1 40 1-40 1 42 1-42 1 46 1-43 1 59 1-68 1 65 1-51 1 46 1-35 1 45 1-49 1 58 1-53 1 57 1-55 1 51 1-49 1 50 1-54 1 50 1-40 1 40 1-29 1 28 1-25 1 29 1-36 1 39 1-44 1 55 1-64 1 72 1-57 1 54 1-49 1 45 1-39 1 37 1-40 1 43 1-45 1 45 1-45 1 48 1-38 1 43 1-47 1 55 1-55 1 60 1-48 1 43 1-45 1 35 1-41 1 43 1-34 1 36 1-40 1 44 1-45 1 46 1-39 1 53 1-53 1 65 1-69 1 60 1-48 1 46 1-35 1 30 1-37 1 32 1-29 1 33 1-32 1 30 1-39 1 44 1-42 1 43 1-32 1 34 1-29 1 29 1-32 1 39 1-40 1 40 1-37 1 32 1-24 1 36 1-34 1 43 1-45 1 42 1-41 1 35 1-35 1 37 1-37 1 45 1-55 1 50 1-57 1 55 1-49 1 47 1-40 1 50 1-46 1 44 1-51 1 42 1-52 1 60 1-49 1 55 1-52 1 42 1-43 1 39 1-43 1 48 1-53 1 60 1-48 1 47 1-51 1 31 1-62 1 24 1-55 1 41 1-31 1 56 1-23 1 51 1-39 1 56 1-42 1 55 1-48 1 35 1-33 1 24 1-20 1 26 1-31 1 42 1-46 1 45 1-45 1 45 1-55 1 52 1-44 1 39 1-39 1 46 1-40 1 47 1-42 1 42 1-42 1 31 1-35 1 26 1-30 1 39 1-44 1 54 1-43 1 48 1-58 1 43 1-42 1 47 1-30 1 34 1-36 1 35 1-41 1 33 1-34 1 42 1-36 1 30 1-36 1 31 1-39 1 40 1-32 1 25 1-44 1 38 1-53 1 51 1-48 1 53 1-39 1 42 1-39 1 43 1-34 1 40 1-33 1 37 1-33 1 36 1-31 1 27 1-26 1 24 1-20 1 33 1-34 1 45 1-45 1 40 1-47 1 41 1-43 1 39 1-40 1 41 1-49 1 43 1-39 1 38 1-31 1 32 1-38 1 39 1-31 1 37 1-33 1 35 1-37 1 29 1-41 1 19 1-58 1 14 1-61 1 32 1-34 1 66 1-21 1 60 1-24 1 49 1-24 1 33 1-26 1 27 1-21 1 32 1-45 1 50 1-61 1 53 1-51 1 53 1-45 1 43 1-39 1 35 1-39 1 37 1-40 1 43 1-36 1 34 1-32 1 38 1-43 1 49 1-50 1 60 1-59 1 64 1-55 1 51 1-57 1 60 1-66 1 60 1-48 1 39 1-29 1 21 1-27 1 28 1-27 1 37 1-29 1 36 1-33 1 40 1-42 1 39 1-41 1 33 1-39 1 30 1-40 1 41 1-37 1 38 1-31 1 28 1-37 1 39 1-34 1 34 1-28 1 31 1-22 1 29 1-30 1 32 1-32 1 23 1-20 1 18 1-20 1 17 1-33 1 19 1-81 1-2 1-132 1-34 1-102 1 6 1 1 1 85 1 56 1 104 1 13 1 76 1-21 1 47 1-21 1 26 1-20 1 18 1-26 1 27 1-36 1 39 1-48 1 59 1-57 1 61 1-49 1 49 1-43 1 42 1-34 1 42 1-43 1 31 1-31 1 36 1-35 1 35 1-37 1 29 1-28 1 24 1-24 1 34 1-33 1 45 1-42 1 37 1-39 1 30 1-34 1 45 1-50 1 49 1-54 1 46 1-48 1 54 1-44 1 54 1-47 1 49 1-67 1 57 1-46 1 41 1-27 1 22 1-24 1 23 1-23 1 31 1-30 1 41 1-39 1 41 1-49 1 35 1-43 1 37 1-38 1 36 1-23 1 24 1-15 1 15 1-23 1 25 1-38 1 49 1-55 1 64 1-55 1 59 1-65 1 55 1-42 1 50 1-38 1 35 1-36 1 29 1-28 1 34 1-36 1 37 1-38 1 29 1-27 1 37 1-36 1 35 1-37 1 30 1-36 1 41 1-45 1 51 1-46 1 48 1-45 1 41 1-40 1 42 1-39 1 34 1-38 1 46 1-54 1 49 1-58 1 53 1-39 1 37 1-32 1 31 1-37 1 53 1-60 1 55 1-64 1 64 1-59 1 50 1-38 1 29 1-33 1 33 1-31 1 34 1-26 1 33 1-29 1 38 1-36 1 37 1-39 1 39 1-42 1 44 1-52 1 29 1-70 1 28 1-78 1 2 1-31 1 29 1-2 1 67 1-8 1 51 1-28 1 55 1-49 1 61 1-42 1 44 1-49 1 40 1-36 1 44 1-50 1 56 1-63 1 64 1-61 1 55 1-48 1 38 1-28 1 26 1-25 1 24 1-26 1 35 1-35 1 43 1-50 1 64 1-66 1 55 1-63 1 66 1-52 1 61 1-51 1 41 1-37 1 26 1-23 1 18 1-26 1 26 1-35 1 35 1-37 1 35 1-36 1 37 1-27 1 28 1-33 1 40 1-36 1 45 1-42 1 49 1-60 1 63 1-51 1 44 1-42 1 34 1-40 1 49 1-59 1 59 1-59 1 61 1-51 1 40 1-46 1 46 1-54 1 64 1-50 1 47 1-48 1 41 1-37 1 34 1-34 1 40 1-45 1 53 1-52 1 59 1-51 1 40 1-44 1 42 1-47 1 61 1-60 1 50 1-51 1 45 1-52 1 47 1-39 1 35 1-34 1 43 1-41 1 57 1-49 1 36 1-38 1 24 1-29 1 36 1-31 1 32 1-27 1 43 1-58 1 52 1-59 1 52 1-48 1 54 1-52 1 45 1-35 1 32 1-36 1 33 1-33 1 32 1-27 1 26 1-29 1 32 1-35 1 35 1-42 1 52 1-54 1 64 1-56 1 47 1-53 1 61 1-57 1 63 1-53 1 43 1-36 1 29 1-29 1 26 1-28 1 40 1-48 1 53 1-63 1 52 1-45 1 32 1-43 1 57 1-44 1 50 1-46 1 30 1-31 1 27 1-31 1 35 1-29 1 34 1-29 1 31 1-45 1 42 1-52 1 46 1-39 1 50 1-52 1 60 1-66 1 64 1-54 1 54 1-44 1 49 1-43 1 33 1-34 1 27 1-27 1 34 1-42 1 51 1-68 1 61 1-59 1 63 1-65 1 59 1-50 1 60 1-49 1 39 1-35 1 23 1-23 1 21 1-20 1 26 1-29 1 35 1-36 1 33 1-40 1 35 1-32 1 42 1-38 1 31 1-34 1 24 1-34 1 39 1-27 1 35 1-39 1 38 1-38 1 43 1-51 1 45 1-46 1 51 1-39 1 49 1-58 1 49 1-55 1 46 1-41 1 46 1-48 1 48 1-51 1 56 1-44 1 47 1-44 1 29 1-35 1 21 1-35 1 31 1-46 1 42 1-46 1 42 1-40 1 50 1-44 1 55 1-47 1 45 1-36 1 45 1-36 1 48 1-56 1 45 1-41 1 49 1-40 1 40 1-50 1 45 1-54 1 57 1-47 1 54 1-56 1 46 1-53 1 51 1-56 1 52 1-44 1 36 1-39 1 47 1-50 1 47 1-32 1 23 1-17 1 20 1-19 1 22 1-31 1 34 1-47 1 42 1-36 1 34 1-21 1 23 1-21 1 26 1-25 1 29 1-28 1 31 1-39 1 33 1-36 1 29 1-22 1 30 1-43 1 51 1-60 1 51 1-43 1 38 1-28 1 22 1-17 1 18 1-17 1 25 1-25 1 39 1-38 1 34 1-33 1 36 1-37 1 39 1-41 1 30 1-30 1 23 1-24 1 37 1-42 1 49 1-57 1 44 1-46 1 39 1-41 1 46 1-52 1 63 1-54 1 53 1-46 1 37 1-44 1 56 1-56 1 60 1-57 1 45 1-37 1 42 1-39 1 46 1-60 1 49 1-52 1 48 1-40 1 42 1-37 1 32 1-29 1 23 1-24 1 23 1-31 1 34 1-42 1 55 1-56 1 63 1-62 1 57 1-64 1 55 1-46 1 41 1-31 1 36 1-40 1 43 1-41 1 48 1-56 1 55 1-49 1 43 1-57 1 68 1-62 1 49 1-51 1 42 1-39 1 37 1-43 1 42 1-47 1 53 1-35 1 47 1-53 1 59 1-55 1 45 1-37 1 27 1-32 1 27 1-33 1 33 1-40 1 39 1-42 1 44 1-31 1 34 1-36 1 48 1-41 1 51 1-51 1 44 1-44 1 43 1-50 1 37 1-33 1 30 1-42 1 50 1-49 1 46 1-36 1 36 1-35 1 44 1-51 1 56 1-58 1 60 1-67 1 59 1-54 1 51 1-47 1 53 1-43 1 40 1-37 1 41 1-42 1 33 1-42 1 34 1-40 1 37 1-40 1 46 1-36 1 45 1-41 1 52 1-61 1 56 1-55 1 51 1-48 1 41 1-46 1 55 1-59 1 67 1-51 1 43 1-55 1 43 1-39 1 38 1-33 1 41 1-53 1 56 1-58 1 61 1-58 1 61 1-47 1 33 1-28 1 25 1-23 1 19 1-20 1 26 1-32 1 33 1-39 1 36 1-35 1 28 1-24 1 25 1-33 1 34 1-46 1 47 1-49 1 45 1-41 1 21 1-54 1 24 1-38 1 40 1-22 1 43 1-6 1 35 1-19 1 37 1-33 1 45 1-56 1 50 1-49 1 43 1-54 1 46 1-44 1 40 1-28 1 37 1-39 1 44 1-42 1 40 1-43 1 43 1-40 1 34 1-27 1 33 1-28 1 24 1-23 1 19 1-21 1 18 1-18 1 24 1-23 1 31 1-36 1 53 1-56 1 41 1-43 1 41 1-35 1 48 1-44 1 37 1-36 1 35 1-36 1 48 1-54 1 40 1-41 1 35 1-41 1 47 1-51 1 50 1-42 1 33 1-21 1 23 1-24 1 36 1-42 1 49 1-59 1 58 1-60 1 56 1-47 1 59 1-57 1 48 1-57 1 48 1-43 1 47 1-39 1 38 1-49 1 44 1-46 1 45 1-34 1 40 1-36 1 42 1-49 1 50 1-60 1 52 1-41 1 42 1-30 1 23 1-21 1 40 1-41 1 31 1-30 1 25 1-24 1 22 1-30 1 41 1-48 1 51 1-54 1 61 1-57 1 45 1-35 1 37 1-44 1 51 1-66 1 60 1-48 1 39 1-27 1 22 1-20 1 17 1-18 1 17 1-16 1 21 1-20 1 28 1-32 1 44 1-49 1 50 1-49 1 45 1-39 1 29 1-28 1 22 1-19 1 30 1-32 1 41 1-48 1 46 1-58 1 49 1-45 1 40 1-38 1 37 1-41 1 48 1-40 1 46 1-45 1 37 1-32 1 31 1-34 1 35 1-37 1 49 1-44 1 48 1-43 1 42 1-47 1 39 1-42 1 46 1-51 1 54 1-54 1 47 1-42 1 53 1-54 1 38 1-48 1 36 1-37 1 39 1-37 1 38 1-41 1 42 1-33 1 32 1-25 1 24 1-23 1 22 1-25 1 29 1-27 1 24 1-21 1 20 1-16 1 21 1-19 1 32 1-32 1 31 1-34 1 26 1-29 1 23 1-30 1 41 1-38 1 36 1-31 1 28 1-31 1 34 1-32 1 42 1-43 1 36 1-37 1 34 1-30 1 25 1-23 1 25 1-37 1 42 1-50 1 49 1-42 1 37 1-51 1 48 1-40 1 48 1-38 1 44 1-49 1 57 1-52 1 51 1-58 1 55 1-55 1 55 1-52 1 50 1-61 1 55 1-43 1 38 1-28 1 34 1-29 1 32 1-45 1 51 1-59 1 51 1-56 1 46 1-43 1 40 1-36 1 40 1-39 1 48 1-42 1 46 1-51 1 47 1-45 1 44 1-40 1 48 1-52 1 54 1-65 1 56 1-48 1 40 1-32 1 31 1-44 1 45 1-43 1 44 1-34 1 34 1-24 1 16 1-13 1 27 1-29 1 40 1-41 1 36 1-36 1 44 1-44 1 30 1-49 1 49 1-52 1 56 1-38 1 28 1-22 1 33 1-39 1 47 1-51 1 41 1-36 1 30 1-30 1 29 1-23 1 33 1-42 1 52 1-63 1 55 1-58 1 47 1-49 1 42 1-45 1 50 1-45 1 34 1-41 1 19 1-39 1 15 1-46 1 43 1-37 1 54 1-34 1 56 1-24 1 40 1-29 1 37 1-43 1 54 1-57 1 61 1-56 1 49 1-38 1 30 1-32 1 41 1-39 1 46 1-50 1 37 1-34 1 39 1-30 1 33 1-27 1 30 1-28 1 39 1-40 1 42 1-48 1 56 1-56 1 45 1-43 1 34 1-30 1 25 1-32 1 38 1-51 1 59 1-43 1 38 1-26 1 35 1-38 1 42 1-55 1 49 1-57 1 49 1-38 1 44 1-31 1 45 1-43 1 27 1-26 1 18 1-22 1 20 1-24 1 36 1-38 1 47 1-40 1 34 1-38 1 34 1-50 1 54 1-49 1 52 1-36 1 32 1-28 1 26 1-26 1 27 1-28 1 25 1-26 1 23 1-22 1 23 1-21 1 27 1-29 1 23 1-24 1 21 1-25 1 26 1-26 1 36 1-36 1 28 1-25 1 23 1-33 1 32 1-39 1 46 1-46 1 49 1-37 1 45 1-51 1 44 1-53 1 45 1-40 1 36 1-29 1 30 1-29 1 27 1-25 1 28 1-22 1 27 1-36 1 40 1-49 1 52 1-45 1 52 1-49 1 57 1-58 1 51 1-45 1 34 1-28 1 22 1-22 1 27 1-25 1 40 1-44 1 41 1-57 1 49 1-43 1 41 1-41 1 40 1-43 1 35 1-43 1 44 1-28 1 37 1-36 1 49 1-52 1 47 1-52 1 47 1-42 1 40 1-45 1 51 1-56 1 53 1-43 1 38 1-32 1 41 1-37 1 45 1-43 1 38 1-39 1 29 1-29 1 17 1-16 1 20 1-22 1 26 1-42 1 52 1-58 1 62 1-52 1 49 1-42 1 40 1-43 1 52 1-56 1 44 1-58 1 60 1-43 1 51 1-56 1 55 1-61 1 52 1-43 1 38 1-46 1 49 1-37 1 46 1-40 1 35 1-34 1 28 1-34 1 45 1-51" fill="none" stroke="#8800ff" stroke-width="1.20" vector-effect="non-scaling-stroke"/>
<path transform="translate(135.000 0) scale(0.48104 0.5)" d="M0 328 l1-1 1-1 1-1 1-1 1-1 1-1 1-1 1-1 1-1 1-1 1-1 1 0 1-1 1-1 1 0 1-1 1-1 1 0 1-1 1 0 1 0 1-1 1 0 1-1 1 0 1 0 1-1 1 0 1 0 1 0 1-1 1 0 1 0 1 0 1 0 1 0 1 0 1 1 1 0 1 1 1 1 1 0 1 1 1 1 1 1 1 1 1 2 1 1 1 1 1 1 1 1 1 1 1 1 1 1 1 1 1 2 1 1 1 1 1 2 1 1 1 1 1 2 1 1 1 2 1 1 1 2 1 1 1 1 1 2 1 1 1 1 1 1 1 2 1 1 1 1 1 1 1 0 1 1 1 1 1 1 1 1 1 1 1 1 1 0 1 1 1 1 1 1 1 1 1 1 1 1 1 1 1 1 1 2 1 1 1 1 1 1 1 2 1 1 1 2 1 1 1 2 1 2 1 2 1 3 1 3 1 5 1 5 1 5 1 5 1 4 1 3 1 3 1 3 1 3 1 2 1 2 1 3 1 2 1 2 1 2 1 3 1 2 1 2 1 2 1 2 1 2 1 2 1 1 1 2 1 1 1 2 1 1 1 2 1 1 1 1 1 1 1 1 1 1 1 1 1 1 1 0 1 1 1 1 1 1 1 1 1 0 1 1 1 1 1 1 1 1 1 1 1 1 1 2 1 1 1 2 1 1 1 2 1 2 1 2 1 2 1 2 1 2 1 2 1 2 1 2 1 3 1 2 1 2 1 1 1 2 1 2 1 1 1 2 1 1 1 1 1 2 1 1 1 1 1 1 1 1 1 1 1 1 1 1 1 1 1 2 1 1 1 0 1 1 1 1 1 1 1 1 1 1 1 1 1 1 1 1 1 1 1 1 1 1 1 1 1 0 1 1 1 1 1 1 1 1 1 1 1 0 1 1 1 1 1 1 1 0 1 1 1 1 1 1 1 0 1 1 1 1 1 0 1 1 1 1 1 0 1 1 1 0 1 1 1 1 1 0 1 1 1 0 1 1 1 0 1 1 1 0 1 1 1 0 1 1 1 0 1 0 1 1 1 0 1 0 1 0 1 0 1 0 1 1 1-1 1 0 1 0 1-1 1 0 1-1 1-1 1-2 1-1 1-2 1-2 1-1 1-2 1-1 1-1 1-1 1 0 1 1 1 1 1 1 1 2 1 2 1 3 1 2 1 2 1 3 1 2 1 2 1 2 1 1 1 2 1 1 1 1 1 2 1 1 1 1 1 1 1 1 1 1 1 1 1 1 1 1 1 1 1 1 1 1 1 1 1 1 1 1 1 0 1 1 1 1 1 1 1 1 1 0 1 1 1 0 1 1 1 0 1 1 1 0 1 1 1 0 1 1 1 0 1 1 1 0 1 0 1 1 1 0 1 1 1 0 1 0 1 1 1 0 1 1 1 0 1 0 1 1 1 0 1 0 1 1 1 0 1 0 1 1 1 0 1 0 1 1 1 0 1 0 1 1 1 0 1 0 1 1 1 0 1 0 1 0 1 1 1 0 1 0 1 1 1 0 1 0 1 0 1 1 1 0 1 0 1 0 1 1 1 0 1 0 1 0 1 1 1 0 1 0 1 0 1 1 1 0 1 0 1 0 1 1 1 0 1 0 1 0 1 1 1 0 1 0 1 0 1 1 1 0 1 0 1 0 1 1 1 0 1 0 1 0 1 1 1 0 1 0 1 0 1 1 1 0 1 0 1 0 1 1 1 0 1 0 1 0 1 1 1 0 1 0 1 0 1 0 1 1 1 0 1 0 1 0 1 0 1 1 1 0 1 0 1 0 1 0 1 0 1 1 1 0 1 0 1 0 1 0 1 0 1 0 1 0 1 0 1 0 1 0 1 0 1 0 1 0 1 0 1 0 1 0 1 0 1 0 1 0 1 0 1 0 1 0 1 0 1 0 1 0 1 0 1 0 1 0 1 0 1 0 1 0 1 0 1 0 1 0 1 0 1 0 1 0 1 0 1 0 1 0 1 0 1 0 1 0 1-1 1 0 1 0 1 0 1 0 1 0 1 0 1 0 1 0 1-1 1 0 1 0 1 0 1 0 1-1 1 0 1 0 1-1 1 0 1-1 1 0 1-1 1-1 1-1 1-1 1-2 1-1 1-2 1-3 1-2 1-4 1-4 1-5 1-6 1-8 1-8 1-10 1-10 1-10 1-7 1-3 1 2 1 6 1 7 1 8 1 6 1 6 1 5 1 4 1 3 1 3 1 3 1 2 1 2 1 3 1 2 1 3 1 2 1 2 1 3 1 3 1 2 1 3 1 3 1 2 1 3 1 2 1 2 1 3 1 2 1 2 1 2 1 1 1 2 1 1 1 2 1 1 1 1 1 1 1 1 1 0 1 1 1 1 1 0 1 1 1 0 1 0 1 1 1 0 1 0 1 0 1 1 1 0 1 0 1 0 1 0 1 0 1 0 1 0 1 0 1 0 1 0 1 0 1 0 1 0 1 0 1 0 1 0 1 0 1 0 1 0 1 0 1 0 1 0 1 0 1 0 1 0 1 0 1 0 1 0 1 0 1 0 1 0 1 0 1-1 1 0 1 0 1 0 1 0 1 0 1 0 1 0 1 0 1 0 1 0 1 0 1 0 1 0 1-1 1 0 1 0 1 0 1 0 1 0 1 0 1 0 1 0 1 0 1 0 1 0 1 0 1 0 1-1 1 0 1 0 1 0 1 0 1 0 1 0 1 0 1 0 1 0 1 0 1 0 1 0 1 0 1 0 1 0 1 0 1 0 1 0 1 0 1 0 1 0 1 0 1 0 1 0 1 0 1 0 1-1 1 0 1 0 1 0 1-1 1 0 1-1 1-1 1-1 1-1 1-1 1-1 1-2 1-1 1-2 1-2 1-1 1-1 1-2 1-1 1 0 1-1 1 0 1 0 1 1 1 1 1 1 1 1 1 2 1 2 1 1 1 2 1 2 1 2 1 2 1 2 1 1 1 2 1 2 1 1 1 2 1 1 1 2 1 1 1 2 1 1 1 1 1 1 1 2 1 1 1 1 1 1 1 1 1 1 1 1 1 1 1 1 1 1 1 0 1 1 1 0 1 1 1 1 1 0 1 1 1 0 1 1 1 1 1 0 1 1 1 0 1 1 1 0 1 1 1 0 1 1 1 0 1 0 1 1 1 0 1 0 1 0 1 1 1 0 1 0 1 0 1 0 1 0 1 0 1 0 1 0 1 0 1 0 1 0 1 0 1 0 1 0 1 0 1 0 1 1 1 0 1 0 1 0 1 0 1 0 1 0 1 0 1 0 1 0 1 0 1 0 1 0 1 0 1 0 1 0 1 0 1 0 1 0 1 0 1 0 1 0 1 0 1 0 1 0 1 0 1 0 1 0 1 0 1 0 1 0 1 0 1 0 1 0 1 0 1 0 1 0 1 0 1 0 1 0 1 0 1 0 1 0 1 0 1 0 1 0 1 0 1 1 1 0 1 0 1 0 1 0 1 0 1 0 1 0 1 0 1 0 1 0 1 0 1 0 1 0 1 0 1 0 1 0 1 0 1 0 1 0 1 0 1 0 1 0 1 0 1 0 1 0 1 0 1 0 1 0 1 0 1 0 1 0 1 0 1 0 1 0 1 0 1 0 1 0 1 0 1 0 1 0 1 0 1 0 1 0 1 0 1 0 1 0 1 0 1 0 1 0 1 0 1 0 1 0 1 0 1 0 1 0 1 0 1 0 1 0 1 0 1 1 1 0 1 0 1 0 1 0 1 0 1 0 1 0 1 0 1 0 1 0 1 0 1 0 1 0 1 0 1 0 1 0 1 0 1 0 1 0 1 0 1 0 1 0 1 0 1 0 1 0 1 0 1 0 1 0 1 0 1 0 1 0 1 0 1 0 1 0 1 0 1 0 1 0 1 0 1 0 1 0 1 0 1 0 1 0 1 0 1 0 1 0 1 0 1 1 1 0 1 0 1 0 1 0 1 0 1 0 1 0 1 0 1 0 1 0 1 0 1 0 1 0 1 0 1 0 1 0 1 0 1 0 1 0 1 0 1 0 1 0 1 0 1 0 1 0 1 0 1 0 1 0 1 0 1 0 1 0 1 0 1 0 1 0 1 0 1 0 1 0 1 0 1 0 1 0 1 0 1 0 1 0 1 0 1 0 1 0 1 0 1 0 1 0 1 0 1 0 1 0 1 0 1 0 1 0 1 0 1 0 1 0 1 0 1 0 1 0 1 0 1 0 1 0 1 0 1 0 1 0 1 0 1 0 1 0 1 0 1 0 1 0 1 0 1 0 1 0 1 0 1 0 1 0 1 0 1 0 1 0 1 0 1 0 1 0 1 0 1 0 1 0 1 0 1 0 1 0 1 0 1 0 1 0 1 0 1 0 1 0 1 0 1 0 1 0 1 0 1 0 1 0 1 0 1 0 1 0 1 0 1 0 1 0 1 0 1 0 1 0 1 0 1 0 1 0 1 0 1 0 1 0 1 0 1 0 1 0 1 0 1 0 1 0 1 0 1 0 1 0 1 0 1 0 1 0 1 0 1 0 1 0 1 0 1 0 1 0 1 0 1 0 1 0 1 0 1 0 1 0 1 0 1 0 1 0 1 0 1 0 1 0 1 0 1 0 1 0 1 0 1 0 1 0 1 0 1 0 1 0 1 0 1 0 1 0 1 0 1 0 1 0 1 0 1 0 1 0 1 0 1 0 1 0 1 0 1 0 1 0 1 0 1 0 1 0 1 0 1 0 1 0 1 0 1 0 1 0 1 0 1 0 1 0 1 0 1 0 1 0 1 0 1 0 1 0 1 0 1 0 1 0 1 0 1 0 1-1 1 0 1 0 1 0 1 0 1 0 1 0 1 0 1 0 1 0 1 0 1 0 1 0 1 0 1 0 1 0 1 0 1 0 1 0 1-1 1 0 1 0 1 0 1 0 1 0 1 0 1 0 1 0 1 0 1 0 1 0 1 0 1 0 1-1 1 0 1 0 1 0 1 0 1 0 1 0 1 0 1 0 1 0 1 0 1 0 1 0 1 0 1-1 1 0 1 0 1 0 1 0 1 0 1 0 1 0 1 0 1 0 1 0 1 0 1 0 1 0 1 0 1-1 1 0 1 0 1 0 1 0 1 0 1 0 1 0 1 0 1 0 1 0 1 0 1 0 1 0 1 0 1 0 1 0 1-1 1 0 1 0 1 0 1 0 1 0 1 0 1-1 1 0 1-1 1 0 1-1 1 0 1-1 1-1 1-2 1-1 1-2 1-1 1-2 1-2 1-1 1-2 1-1 1-2 1-1 1-1 1-1 1 0 1 0 1 0 1 1 1 1 1 1 1 2 1 1 1 2 1 2 1 2 1 2 1 1 1 2 1 1 1 1 1 2 1 1 1 1 1 0 1 1 1 1 1 0 1 0 1 1 1 0 1 0 1 0 1 1 1 0 1 0 1 0 1 0 1 1 1 0 1 0 1 0 1 0 1 1 1 0 1 0 1 0 1 0 1 1 1 0 1 0 1 0 1 0 1 1 1 0 1 0 1 0 1 0 1 1 1 0 1 0 1 0 1 0 1 1 1 0 1 0 1 0 1 1 1 0 1 0 1 0 1 0 1 1 1 0 1 0 1 0 1 0 1 1 1 0 1 0 1 0 1 1 1 0 1 0 1 0 1 0 1 1 1 0 1 0 1 0 1 0 1 1 1 0 1 0 1 0 1 0 1 1 1 0 1 0 1 0 1 0 1 0 1 1 1 0 1 0 1 0 1 0 1 0 1 1 1 0 1 0 1 0 1 0 1 0 1 0 1 1 1 0 1 0 1 0 1 0 1 0 1 0 1 0 1 0 1 0 1 0 1 1 1 0 1 0 1 0 1 0 1 0 1 0 1 0 1 0 1 0 1 0 1 0 1 0 1 0 1 0 1 0 1 0 1 0 1 0 1 0 1 0 1 0 1 0 1 0 1 0 1 0 1 0 1 0 1 0 1 0 1 0 1 0 1 0 1 0 1 0 1 0 1 0 1 0 1 0 1 0 1 0 1 0 1 0 1 0 1 0 1 0 1 0 1 0 1 0 1 0 1 0 1 0 1 0 1 0 1 0 1 0 1 0 1 0 1 0 1 0 1 0 1 0 1 0 1 0 1 0 1 0 1-1 1 0 1 0 1 0 1 0 1 0 1 0 1 0 1 0 1 0 1 0 1 0 1 0 1 0 1 0 1 0 1 0 1 0 1 0 1 0 1 0 1 0 1 0 1 0 1 0 1 0 1 0 1 0 1 0 1 0 1 0 1 0 1 0 1 0 1 0 1 0 1 0 1 0 1 0 1 0 1 0 1 0 1 0 1 0 1 0 1 0 1 0 1 0 1-1 1 0 1 0 1 0 1 0 1 0 1 0 1 0 1 0 1 0 1 0 1 0 1 0 1 0 1 0 1 0 1 0 1 0 1 0 1 0 1 0 1 0 1 0 1 0 1 0 1 0 1 0 1 0 1 0 1 0 1 0 1 0 1 0 1 0 1 0 1-1 1 0 1 0 1 0 1 0 1 0 1 0 1 0 1 0 1 0 1 0 1 0 1 0 1 0 1 0 1 0 1 0 1 0 1 0 1-1 1 0 1 0 1 0 1 0 1 0 1 0 1 0 1 0 1 0 1 0 1 0 1 0 1 0 1 0 1 0 1 0 1-1 1 0 1 0 1 0 1 0 1 0 1 0 1 0 1 0 1 0 1 0 1-1 1 0 1 0 1 0 1 0 1-1 1 0 1-1 1 0 1 0 1-1 1-1 1 0 1-1 1-1 1-1 1-1 1-1 1-1 1-1 1 0 1-1 1-1 1-1 1-1 1 0 1-1 1 0 1 0 1 0 1 0 1 0 1 1 1 0 1 1 1 1 1 1 1 1 1 1 1 1 1 1 1 1 1 2 1 1 1 1 1 1 1 1 1 1 1 1 1 1 1 1 1 0 1 1 1 1 1 1 1 0 1 1 1 0 1 1 1 1 1 0 1 1 1 0 1 1 1 1 1 0 1 1 1 0 1 1 1 0 1 1 1 0 1 1 1 0 1 1 1 0 1 1 1 0 1 1 1 0 1 1 1 0 1 1 1 0 1 0 1 1 1 0 1 0 1 1 1 0 1 0 1 0 1 1 1 0 1 0 1 0 1 0 1 1 1 0 1 0 1 0 1 0 1 0 1 1 1 0 1 0 1 0 1 0 1 0 1 0 1 1 1 0 1 0 1 0 1 0 1 0 1 0 1 1 1 0 1 0 1 0 1 0 1 0 1 0 1 0 1 1 1 0 1 0 1 0 1 0 1 0 1 0 1 0 1 1 1 0 1 0 1 0 1 0 1 0 1 0 1 0 1 0 1 0 1 1 1 0 1 0 1 0 1 0 1 0 1 0 1 0 1 0 1 0 1 0 1 1 1 0 1 0 1 0 1 0 1 0 1 0 1 0 1 0 1 0 1 0 1 0 1 1 1 0 1 0 1 0 1 0 1 0 1 0 1 0 1 0 1 0 1 0 1 0 1 0 1 1 1 0 1 0 1 0 1 0 1 0 1 0 1 0 1 0 1 0 1 0 1 0 1 0 1 0 1 0 1 1 1 0 1 0 1 0 1 0 1 0 1 0 1 0 1 0 1 0 1 0 1 0 1 0 1 0 1 0 1 0 1 1 1 0 1 0 1 0 1 0 1 0 1 0 1 0 1 0 1 0 1 0 1 0 1 0 1 0 1 0 1 0 1 0 1 0 1 0 1 1 1 0 1 0 1 0 1 0 1 0 1 0 1 0 1 0 1 0 1 0 1 0 1 0 1 0 1 0 1 0 1 0 1 0" fill="none" stroke="#990099" stroke-width="5.00" stroke-linejoin="bevel" vector-effect="non-scaling-stroke"/>
<path transform="translate(135.000 0) scale(0.48104 0.5)" d="M0 310 l1 39 1-49 1 48 1-52 1 43 1-45 1 48 1-45 1 45 1-54 1 53 1-54 1 53 1-56 1 57 1-53 1 47 1-51 1 48 1-41 1 42 1-43 1 43 1-43 1 43 1-42 1 47 1-45 1 36 1-40 1 44 1-42 1 37 1-41 1 39 1-35 1 36 1-39 1 39 1-41 1 45 1-51 1 57 1-49 1 55 1-50 1 48 1-50 1 53 1-47 1 55 1-55 1 48 1-40 1 39 1-44 1 49 1-45 1 52 1-49 1 51 1-56 1 55 1-47 1 60 1-49 1 42 1-39 1 40 1-35 1 40 1-47 1 47 1-47 1 53 1-49 1 50 1-53 1 65 1-65 1 56 1-53 1 51 1-40 1 39 1-33 1 38 1-32 1 36 1-46 1 44 1-43 1 50 1-48 1 49 1-49 1 61 1-49 1 49 1-48 1 51 1-47 1 52 1-50 1 49 1-37 1 57 1-47 1 55 1-42 1 49 1-50 1 47 1-44 1 49 1-36 1 44 1-37 1 46 1-43 1 49 1-54 1 52 1-42 1 56 1-49 1 49 1-48 1 47 1-51 1 45 1-45 1 51 1-43 1 42 1-35 1 35 1-34 1 35 1-43 1 49 1-41 1 46 1-40 1 47 1-48 1 49 1-53 1 54 1-49 1 50 1-51 1 54 1-51 1 48 1-32 1 41 1-36 1 46 1-43 1 45 1-49 1 48 1-51 1 61 1-59 1 60 1-45 1 40 1-38 1 41 1-39 1 47 1-38 1 45 1-41 1 53 1-62 1 61 1-63 1 58 1-48 1 46 1-50 1 58 1-52 1 58 1-64 1 58 1-45 1 40 1-34 1 37 1-32 1 44 1-50 1 63 1-65 1 58 1-56 1 55 1-57 1 52 1-51 1 62 1-57 1 56 1-59 1 63 1-53 1 55 1-49 1 47 1-46 1 43 1-39 1 45 1-44 1 50 1-41 1 38 1-45 1 41 1-43 1 37 1-36 1 47 1-42 1 46 1-48 1 50 1-58 1 52 1-42 1 33 1-38 1 41 1-40 1 39 1-34 1 44 1-38 1 48 1-50 1 49 1-45 1 37 1-37 1 34 1-40 1 47 1-58 1 44 1-48 1 35 1-38 1 42 1-50 1 60 1-51 1 52 1-51 1 45 1-49 1 49 1-45 1 53 1-42 1 59 1-52 1 57 1-52 1 48 1-42 1 39 1-42 1 47 1-57 1 61 1-59 1 62 1-50 1 51 1-39 1 34 1-37 1 38 1-39 1 46 1-54 1 59 1-55 1 49 1-34 1 33 1-29 1 30 1-34 1 33 1-35 1 43 1-45 1 55 1-63 1 72 1-59 1 49 1-37 1 31 1-32 1 43 1-41 1 43 1-44 1 33 1-34 1 40 1-45 1 46 1-52 1 46 1-37 1 40 1-45 1 48 1-54 1 54 1-47 1 52 1-46 1 43 1-32 1 30 1-30 1 39 1-39 1 35 1-32 1 36 1-37 1 34 1-34 1 27 1-23 1 20 1-27 1 24 1-30 1 33 1-42 1 41 1-39 1 41 1-33 1 32 1-25 1 29 1-34 1 40 1-49 1 44 1-47 1 48 1-38 1 44 1-45 1 45 1-43 1 45 1-37 1 52 1-58 1 50 1-59 1 68 1-63 1 53 1-43 1 37 1-29 1 21 1-21 1 21 1-25 1 26 1-35 1 38 1-33 1 36 1-30 1 34 1-32 1 45 1-53 1 59 1-65 1 58 1-49 1 43 1-39 1 32 1-38 1 35 1-45 1 52 1-48 1 49 1-43 1 37 1-38 1 39 1-29 1 34 1-29 1 25 1-26 1 22 1-27 1 28 1-25 1 26 1-22 1 18 1-19 1 23 1-19 1 24 1-28 1 34 1-36 1 33 1-34 1 38 1-33 1 31 1-35 1 38 1-50 1 59 1-58 1 49 1-50 1 49 1-58 1 60 1-49 1 40 1-29 1 21 1-20 1 24 1-23 1 31 1-36 1 36 1-46 1 39 1-44 1 39 1-26 1 23 1-22 1 31 1-27 1 32 1-41 1 51 1-52 1 47 1-48 1 52 1-52 1 47 1-56 1 46 1-49 1 56 1-51 1 35 1-35 1 29 1-45 1 50 1-61 1 37 1-56 1 27 1-55 1 30 1-36 1 26 1-23 1 31 1-35 1 48 1-25 1 37 1-38 1 53 1-40 1 53 1-41 1 54 1-46 1 43 1-47 1 48 1-38 1 42 1-37 1 53 1-60 1 71 1-60 1 57 1-56 1 53 1-47 1 62 1-52 1 64 1-66 1 63 1-59 1 61 1-50 1 56 1-52 1 45 1-38 1 38 1-40 1 40 1-37 1 44 1-48 1 48 1-49 1 47 1-38 1 41 1-42 1 47 1-55 1 54 1-61 1 51 1-38 1 29 1-21 1 20 1-29 1 38 1-32 1 48 1-43 1 32 1-32 1 26 1-25 1 33 1-34 1 37 1-36 1 25 1-34 1 31 1-42 1 49 1-48 1 43 1-39 1 36 1-42 1 45 1-45 1 47 1-54 1 60 1-49 1 55 1-57 1 55 1-45 1 40 1-39 1 46 1-51 1 38 1-46 1 47 1-36 1 37 1-47 1 59 1-59 1 53 1-47 1 34 1-39 1 35 1-42 1 51 1-36 1 38 1-31 1 25 1-38 1 40 1-49 1 58 1-42 1 46 1-38 1 27 1-28 1 30 1-31 1 44 1-44 1 36 1-35 1 26 1-31 1 35 1-42 1 42 1-37 1 31 1-37 1 42 1-44 1 48 1-50 1 50 1-57 1 52 1-49 1 45 1-55 1 46 1-35 1 27 1-26 1 25 1-30 1 32 1-42 1 51 1-51 1 54 1-61 1 62 1-57 1 50 1-48 1 51 1-41 1 35 1-27 1 36 1-35 1 46 1-58 1 56 1-58 1 68 1-59 1 60 1-54 1 48 1-51 1 51 1-45 1 47 1-38 1 41 1-42 1 56 1-46 1 56 1-52 1 53 1-65 1 69 1-64 1 66 1-47 1 39 1-35 1 45 1-44 1 30 1-30 1 34 1-31 1 32 1-36 1 47 1-51 1 45 1-51 1 39 1-35 1 33 1-38 1 40 1-39 1 40 1-29 1 26 1-18 1 23 1-34 1 36 1-45 1 46 1-31 1 32 1-25 1 25 1-26 1 36 1-34 1 26 1-27 1 24 1-24 1 25 1-26 1 33 1-38 1 50 1-56 1 52 1-43 1 34 1-30 1 30 1-30 1 34 1-34 1 29 1-37 1 30 1-41 1 38 1-39 1 36 1-27 1 28 1-16 1 20 1-29 1 34 1-41 1 43 1-44 1 47 1-58 1 71 1-62 1 55 1-47 1 40 1-45 1 46 1-39 1 34 1-24 1 29 1-31 1 21 1-22 1 34 1-35 1 37 1-54 1 54 1-54 1 45 1-33 1 27 1-31 1 32 1-43 1 57 1-53 1 49 1-37 1 30 1-35 1 45 1-55 1 60 1-64 1 64 1-55 1 49 1-38 1 45 1-37 1 38 1-39 1 33 1-33 1 44 1-47 1 43 1-43 1 41 1-49 1 34 1-40 1 34 1-29 1 31 1-24 1 33 1-36 1 39 1-45 1 53 1-51 1 56 1-67 1 58 1-47 1 37 1-25 1 31 1-32 1 38 1-37 1 33 1-35 1 28 1-28 1 21 1-18 1 19 1-22 1 34 1-37 1 44 1-50 1 51 1-48 1 38 1-34 1 39 1-40 1 32 1-35 1 26 1-38 1 39 1-30 1 34 1-21 1 25 1-28 1 34 1-41 1 45 1-47 1 56 1-56 1 41 1-38 1 27 1-34 1 38 1-43 1 55 1-52 1 50 1-45 1 34 1-43 1 38 1-43 1 44 1-33 1 34 1-28 1 28 1-40 1 40 1-43 1 55 1-45 1 54 1-53 1 48 1-47 1 45 1-49 1 58 1-49 1 38 1-46 1 41 1-51 1 43 1-29 1 30 1-19 1 20 1-31 1 37 1-46 1 62 1-64 1 54 1-46 1 33 1-32 1 30 1-27 1 28 1-23 1 23 1-29 1 30 1-29 1 27 1-21 1 22 1-18 1 16 1-18 1 18 1-22 1 26 1-32 1 29 1-19 1 21 1-21 1 18 1-14 1 16 1-16 1 15 1-16 1 18 1-23 1 25 1-32 1 41 1-45 1 49 1-46 1 36 1-27 1 29 1-27 1 34 1-35 1 42 1-44 1 39 1-50 1 42 1-40 1 37 1-29 1 29 1-34 1 52 1-58 1 48 1-52 1 44 1-46 1 60 1-45 1 42 1-41 1 25 1-30 1 30 1-37 1 37 1-27 1 27 1-19 1 28 1-29 1 33 1-34 1 32 1-30 1 21 1-21 1 18 1-16 1 15 1-16 1 18 1-20 1 29 1-29 1 31 1-39 1 33 1-39 1 36 1-45 1 54 1-52 1 54 1-50 1 54 1-44 1 37 1-36 1 28 1-31 1 28 1-37 1 39 1-42 1 51 1-43 1 46 1-47 1 61 1-73 1 53 1-45 1 37 1-32 1 32 1-44 1 42 1-35 1 39 1-33 1 41 1-29 1 35 1-33 1 37 1-38 1 45 1-52 1 41 1-50 1 41 1-52 1 47 1-36 1 34 1-30 1 30 1-39 1 38 1-28 1 28 1-21 1 26 1-29 1 38 1-39 1 33 1-50 1 47 1-35 1 40 1-48 1 59 1-63 1 68 1-54 1 45 1-60 1 48 1-35 1 41 1-37 1 41 1-54 1 47 1-50 1 50 1-40 1 45 1-45 1 45 1-56 1 61 1-52 1 57 1-63 1 53 1-48 1 46 1-33 1 45 1-53 1 44 1-53 1 50 1-42 1 37 1-36 1 29 1-27 1 29 1-32 1 40 1-48 1 52 1-50 1 49 1-56 1 60 1-52 1 44 1-52 1 51 1-34 1 27 1-29 1 31 1-40 1 46 1-46 1 58 1-50 1 48 1-52 1 51 1-62 1 54 1-46 1 39 1-29 1 24 1-21 1 18 1-32 1 33 1-43 1 43 1-39 1 50 1-52 1 50 1-37 1 42 1-46 1 44 1-53 1 53 1-45 1 41 1-27 1 19 1-19 1 23 1-22 1 27 1-26 1 36 1-39 1 32 1-33 1 20 1-22 1 28 1-32 1 31 1-42 1 29 1-27 1 21 1-21 1 32 1-45 1 38 1-50 1 54 1-58 1 56 1-45 1 36 1-25 1 25 1-21 1 31 1-26 1 39 1-36 1 42 1-39 1 39 1-35 1 28 1-29 1 30 1-35 1 46 1-39 1 43 1-47 1 47 1-55 1 39 1-34 1 37 1-27 1 29 1-34 1 35 1-44 1 49 1-54 1 64 1-53 1 56 1-50 1 45 1-39 1 32 1-31 1 30 1-27 1 38 1-42 1 48 1-62 1 61 1-56 1 55 1-46 1 48 1-42 1 33 1-31 1 30 1-33 1 44 1-45 1 43 1-48 1 38 1-37 1 29 1-48 1 56 1-38 1 51 1-49 1 46 1-50 1 43 1-58 1 74 1-54 1 40 1-33 1 31 1-40 1 33 1-35 1 31 1-31 1 35 1-25 1 26 1-27 1 29 1-29 1 26 1-24 1 23 1-21 1 27 1-30 1 38 1-36 1 36 1-37 1 36 1-41 1 35 1-34 1 35 1-32 1 42 1-50 1 59 1-61 1 56 1-48 1 40 1-39 1 47 1-48 1 37 1-37 1 39 1-42 1 41 1-49 1 54 1-57 1 60 1-52 1 43 1-47 1 50 1-54 1 51 1-42 1 42 1-33 1 37 1-33 1 28 1-34 1 27 1-23 1 23 1-33 1 37 1-45 1 58 1-54 1 59 1-51 1 36 1-32 1 31 1-24 1 29 1-34 1 35 1-38 1 41 1-47 1 60 1-51 1 44 1-48 1 37 1-35 1 31 1-45 1 52 1-53 1 60 1-52 1 52 1-49 1 41 1-50 1 40 1-35 1 39 1-48 1 62 1-62 1 57 1-47 1 35 1-29 1 26 1-25 1 24 1-23 1 29 1-38 1 48 1-57 1 56 1-39 1 51 1-62 1 57 1-65 1 55 1-50 1 39 1-27 1 28 1-28 1 26 1-28 1 30 1-34 1 37 1-38 1 48 1-58 1 67 1-59 1 59 1-64 1 56 1-57 1 49 1-49 1 55 1-49 1 49 1-51 1 48 1-45 1 39 1-25 1 24 1-21 1 28 1-30 1 39 1-48 1 56 1-62 1 52 1-47 1 40 1-47 1 47 1-40 1 35 1-29 1 38 1-33 1 40 1-39 1 32 1-33 1 40 1-41 1 34 1-40 1 39 1-44 1 33 1-37 1 42 1-41 1 41 1-32 1 38 1-32 1 39 1-41 1 38 1-34 1 26 1-47 1 36 1-40 1 47 1-30 1 33 1-27 1 33 1-33 1 28 1-27 1 29 1-30 1 26 1-36 1 33 1-41 1 33 1-33 1 36 1-29 1 33 1-23 1 36 1-37 1 42 1-46 1 39 1-45 1 44 1-39 1 48 1-42 1 41 1-43 1 42 1-43 1 45 1-49 1 44 1-53 1 41 1-49 1 53 1-49 1 45 1-39 1 38 1-48 1 48 1-48 1 43 1-44 1 43 1-30 1 37 1-36 1 39 1-37 1 36 1-41 1 52 1-58 1 41 1-49 1 34 1-44 1 42 1-34 1 38 1-46 1 51 1-48 1 53 1-45 1 46 1-42 1 34 1-33 1 25 1-26 1 23 1-27 1 29 1-21 1 21 1-26 1 31 1-37 1 42 1-34 1 44 1-39 1 42 1-48 1 47 1-39 1 39 1-46 1 42 1-37 1 37 1-25 1 27 1-18 1 21 1-22 1 26 1-23 1 29 1-32 1 45 1-58 1 64 1-72 1 74 1-71 1 71 1-57 1 48 1-40 1 40 1-49 1 45 1-50 1 51 1-48 1 44 1-46 1 43 1-47 1 50 1-37 1 45 1-35 1 43 1-61 1 55 1-51 1 60 1-58 1 63 1-53 1 45 1-48 1 42 1-34 1 42 1-37 1 33 1-30 1 44 1-46 1 33 1-33 1 36 1-41 1 50 1-58 1 52 1-63 1 69 1-64 1 50 1-42 1 48 1-48 1 43 1-47 1 42 1-33 1 29 1-39 1 39 1-44 1 56 1-45 1 55 1-50 1 42 1-57 1 43 1-32 1 30 1-30 1 43 1-46 1 57 1-49 1 45 1-44 1 44 1-51 1 52 1-50 1 57 1-46 1 39 1-34 1 25 1-38 1 34 1-44 1 56 1-44 1 53 1-45 1 30 1-42 1 44 1-51 1 50 1-37 1 38 1-38 1 41 1-48 1 58 1-60 1 60 1-55 1 43 1-35 1 39 1-42 1 41 1-46 1 45 1-46 1 44 1-40 1 54 1-58 1 57 1-64 1 58 1-54 1 38 1-31 1 29 1-34 1 41 1-51 1 59 1-52 1 56 1-61 1 70 1-57 1 45 1-46 1 34 1-47 1 46 1-32 1 28 1-31 1 33 1-34 1 36 1-29 1 34 1-49 1 53 1-40 1 34 1-24 1 18 1-30 1 30 1-37 1 37 1-28 1 31 1-26 1 26 1-21 1 21 1-19 1 17 1-17 1 18 1-27 1 42 1-51 1 57 1-63 1 47 1-43 1 40 1-35 1 32 1-42 1 45 1-28" fill="none" stroke="#990099" stroke-width="1.20" vector-effect="non-scaling-stroke"/>
<path transform="translate(135.000 0) scale(0.48104 0.5)" d="M0 184 l1-2 1-2 1-2 1-1 1-2 1-2 1-2 1-1 1-2 1-1 1-2 1-1 1-2 1-1 1-1 1-1 1-1 1-1 1-2 1-1 1-1 1-1 1-1 1-1 1-1 1-1 1-1 1-1 1-1 1 0 1-1 1 0 1-1 1 0 1 0 1 0 1 0 1 1 1 0 1 1 1 1 1 1 1 1 1 1 1 1 1 1 1 1 1 1 1 1 1 1 1 1 1 1 1 1 1 1 1 1 1 1 1 1 1 1 1 1 1 1 1 1 1 1 1 1 1 1 1 1 1 1 1 1 1 1 1 2 1 1 1 1 1 1 1 1 1 1 1 2 1 1 1 1 1 2 1 1 1 2 1 1 1 2 1 1 1 2 1 1 1 2 1 1 1 2 1 1 1 2 1 1 1 1 1 2 1 1 1 1 1 2 1 1 1 1 1 2 1 1 1 1 1 2 1 1 1 1 1 1 1 2 1 1 1 1 1 2 1 1 1 1 1 2 1 1 1 1 1 2 1 1 1 1 1 1 1 2 1 1 1 1 1 2 1 1 1 2 1 1 1 1 1 2 1 1 1 1 1 2 1 1 1 2 1 1 1 2 1 2 1 1 1 2 1 2 1 2 1 2 1 2 1 1 1 2 1 2 1 2 1 2 1 1 1 2 1 1 1 2 1 1 1 1 1 2 1 1 1 1 1 1 1 0 1 1 1 1 1 1 1 1 1 1 1 0 1 1 1 1 1 1 1 0 1 1 1 1 1 1 1 0 1 1 1 1 1 1 1 0 1 1 1 1 1 1 1 1 1 0 1 1 1 1 1 1 1 1 1 0 1 1 1 1 1 1 1 0 1 1 1 1 1 1 1 0 1 1 1 1 1 1 1 1 1 0 1 1 1 1 1 1 1 0 1 1 1 1 1 1 1 0 1 1 1 1 1 0 1 1 1 1 1 1 1 0 1 1 1 1 1 0 1 1 1 1 1 0 1 1 1 1 1 0 1 1 1 0 1 1 1 1 1 0 1 1 1 0 1 1 1 1 1 0 1 1 1 0 1 1 1 1 1 0 1 1 1 0 1 1 1 1 1 0 1 1 1 0 1 1 1 1 1 0 1 1 1 1 1 0 1 1 1 1 1 0 1 1 1 0 1 1 1 1 1 0 1 1 1 1 1 0 1 1 1 1 1 0 1 1 1 0 1 1 1 1 1 0 1 1 1 0 1 1 1 1 1 0 1 1 1 0 1 1 1 0 1 1 1 0 1 1 1 0 1 0 1 1 1 0 1 1 1 0 1 0 1 1 1 0 1 0 1 1 1 0 1 0 1 0 1 1 1 0 1 0 1 0 1 0 1 1 1 0 1 0 1 0 1 0 1 1 1 0 1 0 1 0 1 0 1 1 1 0 1 0 1 0 1 0 1 0 1 0 1 1 1 0 1 0 1 0 1 0 1 0 1 1 1 0 1 0 1 0 1 0 1 0 1 1 1 0 1 0 1 0 1 1 1 0 1 0 1 0 1 0 1 1 1 0 1 0 1 1 1 0 1 0 1 1 1 0 1 0 1 1 1 0 1 1 1 0 1 0 1 1 1 0 1 1 1 0 1 1 1 0 1 1 1 0 1 1 1 0 1 1 1 0 1 1 1 0 1 1 1 0 1 1 1 0 1 1 1 0 1 1 1 0 1 1 1 0 1 1 1 0 1 0 1 1 1 0 1 1 1 0 1 0 1 1 1 0 1 0 1 1 1 0 1 0 1 0 1 1 1 0 1 0 1 0 1 1 1 0 1 0 1 0 1 0 1 1 1 0 1 0 1 0 1 0 1 1 1 0 1 0 1 0 1 0 1 1 1 0 1 0 1 0 1 0 1 0 1 1 1 0 1 0 1 0 1 0 1 0 1 0 1 1 1 0 1 0 1 0 1 0 1 0 1 0 1 1 1 0 1 0 1 0 1 0 1 0 1 0 1 0 1 1 1 0 1 0 1 0 1 0 1 0 1 0 1 0 1 1 1 0 1 0 1 0 1 0 1 0 1 0 1 0 1 0 1 0 1 0 1 1 1 0 1 0 1 0 1 0 1 0 1 0 1 0 1 0 1 0 1 0 1 1 1 0 1 0 1 0 1 0 1 0 1 0 1 0 1 0 1 0 1 0 1 0 1 1 1 0 1 0 1 0 1 0 1 0 1 0 1 0 1 0 1 1 1 0 1 0 1 0 1 0 1 0 1 0 1 0 1 0 1 1 1 0 1 0 1 0 1 0 1 0 1 0 1 0 1 1 1 0 1 0 1 0 1 0 1 0 1 0 1 0 1 1 1 0 1 0 1 0 1 0 1 0 1 0 1 0 1 1 1 0 1 0 1 0 1 0 1 0 1 0 1 1 1 0 1 0 1 0 1 0 1 0 1 0 1 0 1 1 1 0 1 0 1 0 1 0 1 0 1 0 1 0 1 1 1 0 1 0 1 0 1 0 1 0 1 0 1 0 1 0 1 1 1 0 1 0 1 0 1 0 1 0 1 0 1 0 1 0 1 1 1 0 1 0 1 0 1 0 1 0 1 0 1 0 1 0 1 0 1 1 1 0 1 0 1 0 1 0 1 0 1 0 1 0 1 0 1 1 1 0 1 0 1 0 1 0 1 0 1 0 1 0 1 0 1 0 1 1 1 0 1 0 1 0 1 0 1 0 1 0 1 0 1 0 1 1 1 0 1 0 1 0 1 0 1 0 1 0 1 0 1 0 1 1 1 0 1 0 1 0 1 0 1 0 1 0 1 0 1 1 1 0 1 0 1 0 1 0 1 0 1 0 1 0 1 1 1 0 1 0 1 0 1 0 1 0 1 0 1 1 1 0 1 0 1 0 1 0 1 0 1 1 1 0 1 0 1 0 1 0 1 0 1 1 1 0 1 0 1 0 1 0 1 0 1 1 1 0 1 0 1 0 1 0 1 0 1 1 1 0 1 0 1 0 1 0 1 0 1 1 1 0 1 0 1 0 1 0 1 0 1 1 1 0 1 0 1 0 1 0 1 0 1 1 1 0 1 0 1 0 1 0 1 0 1 1 1 0 1 0 1 0 1 0 1 0 1 0 1 1 1 0 1 0 1 0 1 0 1 0 1 0 1 1 1 0 1 0 1 0 1 0 1 0 1 1 1 0 1 0 1 0 1 0 1 0 1 1 1 0 1 0 1 0 1 0 1 0 1 0 1 1 1 0 1 0 1 0 1 0 1 0 1 1 1 0 1 0 1 0 1 0 1 0 1 1 1 0 1 0 1 0 1 0 1 0 1 1 1 0 1 0 1 0 1 0 1 0 1 1 1 0 1 0 1 0 1 0 1 0 1 0 1 1 1 0 1 0 1 0 1 0 1 0 1 0 1 1 1 0 1 0 1 0 1 0 1 0 1 0 1 1 1 0 1 0 1 0 1 0 1 0 1 0 1 0 1 1 1 0 1 0 1 0 1 0 1 0 1 0 1 0 1 1 1 0 1 0 1 0 1 0 1 0 1 0 1 0 1 0 1 0 1 1 1 0 1 0 1 0 1 0 1 0 1 0 1 0 1 0 1 0 1 0 1 0 1 0 1 1 1 0 1 0 1 0 1 0 1 0 1 0 1 0 1 0 1 0 1 0 1 0 1 0 1 0 1 0 1 0 1 0 1 0 1 0 1 0 1 0 1 0 1 0 1 0 1 0 1 0 1 0 1 0 1 0 1 0 1 0 1 0 1 1 1 0 1 0 1 0 1 0 1 0 1 0 1 0 1 0 1 0 1 0 1 0 1 0 1 0 1 0 1 0 1 0 1 0 1 0 1 0 1 0 1 0 1 0 1 0 1 0 1 0 1 0 1 0 1 0 1 0 1 0 1 0 1 0 1 0 1 0 1 0 1 0 1 0 1 0 1 0 1 0 1 0 1 0 1 0 1 0 1 0 1 0 1 0 1 0 1 0 1 0 1 0 1 0 1 0 1 0 1 0 1 0 1 0 1 0 1 0 1 0 1 0 1 0 1 0 1 0 1 0 1 0 1 0 1 0 1 0 1 0 1 0 1 0 1 0 1 0 1 1 1 0 1 0 1 0 1 0 1 0 1 0 1 0 1 0 1 0 1 0 1 0 1 0 1 0 1 0 1 0 1 0 1 0 1 0 1 0 1 0 1 0 1 0 1 0 1 0 1 0 1 0 1 0 1 0 1 0 1 0 1 0 1 0 1 0 1 0 1 0 1 0 1 0 1 0 1 0 1 0 1 0 1 0 1 1 1 0 1 0 1 0 1 0 1 0 1 0 1 0 1 0 1 0 1 0 1 0 1 0 1 0 1 0 1 0 1 0 1 0 1 0 1 0 1 0 1 1 1 0 1 0 1 0 1 0 1 0 1 0 1 0 1 0 1 0 1 0 1 0 1 0 1 0 1 0 1 0 1 0 1 0 1 0 1 1 1 0 1 0 1 0 1 0 1 0 1 0 1 0 1 0 1 0 1 0 1 0 1 0 1 0 1 0 1 0 1 0 1 0 1 0 1 1 1 0 1 0 1 0 1 0 1 0 1 0 1 0 1 0 1 0 1 0 1 0 1 0 1 0 1 0 1 0 1 0 1 0 1 0 1 0 1 0 1 0 1 0 1 1 1 0 1 0 1 0 1 0 1 0 1 0 1 0 1 0 1 0 1 0 1 0 1 0 1 0 1 0 1 0 1 0 1 0 1 0 1 0 1 0 1 0 1 0 1 0 1 0 1 0 1 0 1 0 1 0 1 0 1 0 1 0 1 0 1 0 1 0 1 0 1 0 1 0 1 0 1 0 1 0 1 0 1 0 1 0 1 0 1 0 1 0 1 0 1 0 1 0 1 0 1 0 1 0 1 0 1 0 1 0 1 0 1 0 1 0 1-1 1 0 1 0 1 0 1 0 1 0 1 0 1 0 1 0 1 0 1 0 1 0 1 0 1 0 1 0 1 0 1 0 1 0 1 0 1 0 1 0 1 0 1 0 1 0 1 0 1 0 1 0 1 0 1 0 1 0 1 0 1-1 1 0 1 0 1 0 1 0 1 0 1 0 1 0 1 0 1 0 1 0 1 0 1 0 1 0 1 0 1 0 1 0 1 0 1 0 1 0 1 0 1 0 1 0 1 0 1 0 1 0 1 0 1 0 1 0 1 0 1-1 1 0 1 0 1 0 1 0 1 0 1 0 1 0 1 0 1 0 1 0 1 0 1 0 1 0 1 0 1 0 1 0 1 0 1 0 1 0 1 0 1 0 1 0 1 0 1 0 1 0 1 0 1 0 1 0 1 0 1 0 1 0 1 0 1 0 1 0 1 0 1 0 1 0 1 0 1 0 1 0 1 0 1 0 1 0 1 0 1 0 1 0 1 0 1 0 1 0 1 0 1 0 1 0 1 0 1 0 1 0 1 0 1 0 1 0 1 0 1 1 1 0 1 0 1 0 1 0 1 0 1 0 1 0 1 0 1 0 1 0 1 0 1 0 1 0 1 0 1 0 1 0 1 0 1 0 1 0 1 0 1 0 1 0 1 1 1 0 1 0 1 0 1 0 1 0 1 0 1 0 1 0 1 0 1 0 1 0 1 0 1 0 1 0 1 0 1 0 1 0 1 0 1 1 1 0 1 0 1 0 1 0 1 0 1 0 1 0 1 0 1 0 1 0 1 0 1 0 1 0 1 0 1 0 1 0 1 1 1 0 1 0 1 0 1 0 1 0 1 0 1 0 1 0 1 0 1 0 1 0 1 0 1 0 1 0 1 0 1 0 1 1 1 0 1 0 1 0 1 0 1 0 1 0 1 0 1 0 1 0 1 0 1 0 1 0 1 0 1 0 1 0 1 0 1 0 1 0 1 0 1 1 1 0 1 0 1 0 1 0 1 0 1 0 1 0 1 0 1 0 1 0 1 0 1 0 1 0 1 0 1 0 1 0 1 0 1 0 1 0 1 0 1 0 1 0 1 0 1 0 1 0 1 0 1 0 1 0 1 0 1 0 1 1 1 0 1 0 1 0 1 0 1 0 1 0 1 0 1 0 1 0 1 0 1 0 1 0 1 0 1 0 1 0 1 0 1 0 1 0 1 0 1 0 1 0 1 0 1 0 1 0 1 0 1 0 1 0 1 0 1 0 1 0 1 0 1 0 1 0 1 0 1 0 1 0 1 0 1 0 1 0 1 0 1 0 1 0 1 0 1 0 1 1 1 0 1 0 1 0 1 0 1 0 1 0 1 0 1 0 1 0 1 0 1 0 1 0 1 0 1 0 1 0 1 0 1 0 1 0 1 0 1 0 1 0 1 0 1 0 1 0 1 0 1 0 1 0 1 0 1 0 1 0 1 0 1 0 1 0 1 0 1 0 1 0 1 0 1 0 1 0 1 1 1 0 1 0 1 0 1 0 1 0 1 0 1 0 1 0 1 0 1 0 1 0 1 0 1 0 1 0 1 0 1 0 1 0 1 0 1 0 1 0 1 0 1 0 1 0 1 0 1 0 1 0 1 1 1 0 1 0 1 0 1 0 1 0 1 0 1 0 1 0 1 0 1 0 1 0 1 0 1 0 1 0 1 0 1 1 1 0 1 0 1 0 1 0 1 0 1 0 1 0 1 0 1 0 1 0 1 0 1 0 1 1 1 0 1 0 1 0 1 0 1 0 1 0 1 0 1 0 1 0 1 0 1 1 1 0 1 0 1 0 1 0 1 0 1 0 1 0 1 0 1 0 1 1 1 0 1 0 1 0 1 0 1 0 1 0 1 0 1 0 1 0 1 1 1 0 1 0 1 0 1 0 1 0 1 0 1 0 1 0 1 1 1 0 1 0 1 0 1 0 1 0 1 0 1 0 1 0 1 1 1 0 1 0 1 0 1 0 1 0 1 0 1 0 1 0 1 1 1 0 1 0 1 0 1 0 1 0 1 0 1 0 1 1 1 0 1 0 1 0 1 0 1 0 1 0 1 0 1 0 1 1 1 0 1 0 1 0 1 0 1 0 1 0 1 0 1 0 1 1 1 0 1 0 1 0 1 0 1 0 1 0 1 0 1 0 1 0 1 1 1 0 1 0 1 0 1 0 1 0 1 0 1 0 1 1 1 0 1 0 1 0 1 0 1 0 1 0 1 0 1 1 1 0 1 0 1 0 1 0 1 0 1 0 1 1 1 0 1 0 1 0 1 0 1 0 1 0 1 0 1 1 1 0 1 0 1 0 1 0 1 0 1 0 1 1 1 0 1 0 1 0 1 0 1 0 1 0 1 1 1 0 1 0 1 0 1 0 1 0 1 0 1 1 1 0 1 0 1 0 1 0 1 0 1 0 1 1 1 0 1 0 1 0 1 0 1 0 1 0 1 1 1 0 1 0 1 0 1 0 1 0 1 0 1 0 1 1 1 0 1 0 1 0 1 0 1 0 1 0 1 0 1 1 1 0 1 0 1 0 1 0 1 0 1 0 1 0 1 1 1 0 1 0 1 0 1 0 1 0 1 0 1 0 1 0 1 0 1 1 1 0 1 0 1 0 1 0 1 0 1 0 1 0 1 0 1 0 1 0 1 1 1 0 1 0 1 0 1 0 1 0 1 0 1 0 1 0 1 0 1 0 1 0 1 0 1 0 1 1 1 0 1 0 1 0 1 0 1 0 1 0 1 0 1 0 1 0 1 0 1 0 1 0 1 0 1 0 1 0 1 0 1 1 1 0 1 0 1 0 1 0 1 0 1 0 1 0 1 0 1 0 1 0 1 0 1 0 1 0 1 0 1 0 1 0 1 0 1 0 1 0 1 1 1 0 1 0 1 0 1 0 1 0 1 0 1 0 1 0 1 0 1 0 1 0 1 0 1 0 1 0 1 0" fill="none" stroke="#990000" stroke-width="5.00" stroke-linejoin="bevel" vector-effect="non-scaling-stroke"/>
<path transform="translate(135.000 0) scale(0.48104 0.5)" d="M0 166 l1 40 1-46 1 49 1-65 1 58 1-50 1 45 1-43 1 42 1-44 1 42 1-47 1 47 1-50 1 39 1-41 1 40 1-42 1 48 1-56 1 48 1-46 1 35 1-40 1 40 1-46 1 44 1-49 1 42 1-41 1 42 1-37 1 38 1-38 1 35 1-38 1 48 1-41 1 39 1-37 1 42 1-48 1 54 1-56 1 49 1-51 1 50 1-42 1 43 1-31 1 32 1-29 1 39 1-50 1 49 1-49 1 59 1-59 1 59 1-51 1 54 1-41 1 43 1-51 1 41 1-42 1 46 1-34 1 34 1-30 1 41 1-42 1 48 1-43 1 45 1-46 1 46 1-46 1 58 1-56 1 56 1-54 1 55 1-47 1 45 1-42 1 45 1-40 1 42 1-42 1 54 1-60 1 57 1-49 1 49 1-43 1 53 1-51 1 45 1-34 1 32 1-31 1 33 1-33 1 43 1-41 1 43 1-41 1 43 1-50 1 52 1-50 1 51 1-37 1 38 1-44 1 54 1-53 1 57 1-59 1 70 1-57 1 50 1-42 1 48 1-52 1 52 1-47 1 39 1-48 1 49 1-42 1 44 1-36 1 42 1-37 1 41 1-40 1 45 1-40 1 53 1-48 1 53 1-47 1 51 1-47 1 39 1-34 1 34 1-36 1 44 1-47 1 46 1-45 1 50 1-47 1 50 1-44 1 53 1-48 1 56 1-56 1 56 1-51 1 47 1-38 1 46 1-47 1 40 1-36 1 31 1-42 1 43 1-49 1 57 1-56 1 63 1-59 1 63 1-52 1 50 1-44 1 54 1-65 1 59 1-55 1 60 1-53 1 45 1-43 1 38 1-37 1 38 1-32 1 33 1-40 1 38 1-44 1 49 1-43 1 44 1-34 1 41 1-39 1 43 1-35 1 43 1-44 1 47 1-46 1 37 1-40 1 46 1-52 1 56 1-55 1 47 1-37 1 33 1-29 1 27 1-30 1 33 1-28 1 30 1-33 1 46 1-46 1 47 1-49 1 47 1-55 1 65 1-52 1 50 1-55 1 61 1-63 1 63 1-54 1 53 1-46 1 50 1-42 1 39 1-41 1 35 1-32 1 34 1-31 1 40 1-45 1 42 1-48 1 44 1-34 1 42 1-45 1 49 1-54 1 45 1-43 1 40 1-39 1 45 1-39 1 47 1-35 1 36 1-40 1 37 1-45 1 38 1-39 1 41 1-40 1 44 1-36 1 42 1-42 1 42 1-38 1 39 1-47 1 46 1-50 1 48 1-43 1 43 1-41 1 39 1-45 1 44 1-35 1 36 1-25 1 24 1-20 1 21 1-22 1 22 1-31 1 42 1-48 1 55 1-61 1 59 1-51 1 37 1-26 1 27 1-24 1 30 1-27 1 30 1-34 1 48 1-50 1 40 1-44 1 29 1-25 1 27 1-22 1 24 1-20 1 23 1-26 1 30 1-29 1 38 1-35 1 33 1-35 1 46 1-46 1 43 1-50 1 45 1-47 1 46 1-39 1 36 1-33 1 24 1-25 1 28 1-36 1 39 1-44 1 57 1-50 1 51 1-46 1 40 1-48 1 51 1-42 1 48 1-43 1 46 1-54 1 50 1-47 1 51 1-57 1 55 1-55 1 53 1-41 1 40 1-46 1 37 1-36 1 39 1-31 1 34 1-22 1 27 1-27 1 34 1-43 1 36 1-43 1 36 1-24 1 27 1-31 1 32 1-38 1 46 1-39 1 48 1-41 1 41 1-37 1 36 1-37 1 46 1-42 1 38 1-38 1 31 1-32 1 41 1-49 1 40 1-42 1 32 1-29 1 39 1-41 1 52 1-59 1 48 1-44 1 44 1-51 1 54 1-44 1 42 1-35 1 40 1-36 1 26 1-22 1 31 1-31 1 24 1-30 1 26 1-27 1 31 1-41 1 48 1-37 1 43 1-42 1 44 1-46 1 38 1-37 1 44 1-50 1 55 1-54 1 46 1-47 1 38 1-47 1 55 1-50 1 55 1-61 1 56 1-48 1 40 1-41 1 38 1-34 1 43 1-46 1 52 1-60 1 58 1-45 1 54 1-59 1 53 1-62 1 53 1-42 1 36 1-27 1 28 1-20 1 25 1-37 1 42 1-46 1 49 1-42 1 53 1-58 1 50 1-56 1 50 1-45 1 37 1-39 1 43 1-41 1 44 1-31 1 27 1-25 1 32 1-40 1 44 1-54 1 56 1-46 1 54 1-47 1 38 1-47 1 52 1-57 1 60 1-63 1 55 1-54 1 53 1-50 1 51 1-45 1 45 1-39 1 37 1-43 1 46 1-48 1 44 1-46 1 50 1-46 1 33 1-29 1 43 1-60 1 72 1-61 1 47 1-43 1 33 1-22 1 25 1-28 1 38 1-47 1 47 1-53 1 46 1-31 1 29 1-38 1 48 1-58 1 69 1-59 1 47 1-48 1 57 1-54 1 56 1-64 1 56 1-59 1 57 1-46 1 37 1-34 1 39 1-49 1 45 1-44 1 38 1-21 1 27 1-22 1 34 1-34 1 29 1-36 1 35 1-43 1 39 1-50 1 54 1-50 1 56 1-54 1 49 1-55 1 48 1-41 1 36 1-25 1 27 1-34 1 34 1-42 1 45 1-37 1 38 1-30 1 36 1-29 1 33 1-31 1 33 1-31 1 27 1-28 1 32 1-33 1 27 1-35 1 42 1-49 1 59 1-56 1 53 1-48 1 35 1-37 1 28 1-29 1 31 1-33 1 46 1-56 1 68 1-49 1 44 1-39 1 36 1-33 1 36 1-48 1 40 1-56 1 60 1-47 1 55 1-53 1 47 1-44 1 39 1-46 1 43 1-33 1 34 1-33 1 40 1-47 1 45 1-53 1 45 1-43 1 40 1-34 1 36 1-36 1 36 1-33 1 31 1-36 1 41 1-30 1 37 1-28 1 35 1-41 1 49 1-61 1 53 1-59 1 54 1-41 1 35 1-25 1 19 1-23 1 25 1-30 1 29 1-22 1 24 1-29 1 29 1-35 1 41 1-45 1 49 1-40 1 33 1-27 1 28 1-24 1 37 1-32 1 41 1-44 1 28 1-31 1 26 1-32 1 35 1-43 1 44 1-40 1 36 1-30 1 30 1-36 1 38 1-35 1 43 1-34 1 40 1-41 1 43 1-46 1 53 1-66 1 49 1-39 1 42 1-47 1 56 1-65 1 71 1-58 1 49 1-55 1 55 1-56 1 63 1-58 1 45 1-41 1 51 1-57 1 66 1-62 1 51 1-47 1 36 1-24 1 20 1-22 1 21 1-28 1 29 1-36 1 36 1-30 1 32 1-32 1 47 1-53 1 62 1-58 1 47 1-50 1 36 1-40 1 51 1-42 1 52 1-41 1 50 1-53 1 46 1-49 1 49 1-55 1 51 1-61 1 70 1-61 1 55 1-54 1 43 1-50 1 44 1-34 1 33 1-25 1 31 1-36 1 46 1-51 1 62 1-63 1 52 1-47 1 39 1-35 1 35 1-39 1 45 1-44 1 44 1-49 1 43 1-46 1 41 1-46 1 51 1-39 1 44 1-37 1 45 1-48 1 42 1-43 1 36 1-43 1 42 1-30 1 28 1-20 1 35 1-47 1 43 1-51 1 60 1-51 1 47 1-39 1 26 1-36 1 31 1-25 1 32 1-23 1 41 1-47 1 34 1-49 1 48 1-56 1 60 1-50 1 52 1-42 1 34 1-28 1 19 1-21 1 24 1-39 1 39 1-35 1 41 1-34 1 43 1-37 1 47 1-46 1 38 1-46 1 49 1-57 1 53 1-58 1 51 1-39 1 38 1-27 1 24 1-30 1 33 1-49 1 48 1-48 1 44 1-33 1 25 1-31 1 33 1-31 1 42 1-45 1 59 1-55 1 52 1-56 1 58 1-68 1 59 1-49 1 55 1-50 1 45 1-40 1 28 1-37 1 35 1-44 1 55 1-48 1 48 1-52 1 42 1-37 1 40 1-25 1 22 1-20 1 19 1-21 1 20 1-28 1 32 1-46 1 51 1-47 1 41 1-25 1 37 1-33 1 42 1-44 1 42 1-39 1 30 1-32 1 33 1-34 1 39 1-39 1 33 1-38 1 33 1-32 1 28 1-26 1 40 1-49 1 36 1-50 1 44 1-29 1 29 1-16 1 17 1-29 1 33 1-44 1 49 1-35 1 34 1-26 1 35 1-38 1 36 1-43 1 37 1-38 1 37 1-33 1 38 1-44 1 43 1-49 1 45 1-45 1 52 1-45 1 46 1-51 1 41 1-42 1 38 1-34 1 35 1-29 1 26 1-23 1 25 1-19 1 23 1-31 1 43 1-49 1 49 1-44 1 34 1-28 1 29 1-26 1 21 1-19 1 16 1-16 1 19 1-19 1 23 1-28 1 37 1-44 1 37 1-39 1 50 1-53 1 62 1-56 1 50 1-60 1 59 1-56 1 55 1-47 1 51 1-55 1 39 1-51 1 56 1-50 1 56 1-52 1 48 1-48 1 53 1-52 1 60 1-70 1 51 1-43 1 53 1-61 1 56 1-47 1 60 1-64 1 51 1-34 1 38 1-35 1 42 1-39 1 31 1-43 1 37 1-47 1 43 1-48 1 44 1-37 1 37 1-31 1 42 1-41 1 54 1-50 1 44 1-37 1 36 1-34 1 27 1-29 1 20 1-19 1 17 1-16 1 15 1-17 1 21 1-19 1 21 1-30 1 39 1-50 1 58 1-65 1 58 1-53 1 63 1-52 1 45 1-50 1 40 1-52 1 45 1-39 1 40 1-40 1 42 1-41 1 42 1-33 1 41 1-50 1 64 1-58 1 57 1-44 1 45 1-52 1 35 1-37 1 28 1-29 1 42 1-38 1 37 1-32 1 23 1-20 1 30 1-39 1 49 1-55 1 53 1-56 1 47 1-43 1 44 1-48 1 57 1-66 1 70 1-64 1 54 1-42 1 51 1-50 1 40 1-44 1 37 1-32 1 25 1-22 1 17 1-15 1 23 1-25 1 28 1-25 1 32 1-33 1 29 1-31 1 30 1-42 1 54 1-57 1 53 1-46 1 32 1-31 1 27 1-34 1 34 1-45 1 47 1-40 1 48 1-39 1 50 1-39 1 29 1-30 1 23 1-22 1 24 1-25 1 27 1-32 1 39 1-44 1 35 1-44 1 40 1-32 1 47 1-39 1 46 1-48 1 38 1-45 1 43 1-49 1 44 1-44 1 51 1-45 1 48 1-41 1 31 1-26 1 19 1-29 1 30 1-41 1 55 1-59 1 59 1-49 1 37 1-44 1 42 1-46 1 52 1-45 1 48 1-44 1 44 1-36 1 35 1-27 1 23 1-24 1 28 1-36 1 40 1-48 1 43 1-56 1 54 1-43 1 36 1-26 1 24 1-16 1 17 1-26 1 35 1-40 1 52 1-47 1 53 1-58 1 47 1-41 1 42 1-41 1 48 1-57 1 53 1-61 1 59 1-55 1 66 1-58 1 49 1-44 1 46 1-40 1 44 1-54 1 44 1-54 1 53 1-49 1 56 1-46 1 41 1-32 1 26 1-29 1 32 1-38 1 36 1-42 1 39 1-34 1 33 1-39 1 37 1-44 1 42 1-38 1 36 1-27 1 34 1-43 1 55 1-58 1 65 1-56 1 50 1-58 1 57 1-48 1 50 1-53 1 49 1-40 1 37 1-44 1 44 1-52 1 49 1-45 1 41 1-32 1 36 1-40 1 40 1-50 1 52 1-50 1 48 1-39 1 45 1-41 1 50 1-49 1 42 1-40 1 33 1-36 1 29 1-33 1 32 1-39 1 40 1-36 1 46 1-47 1 55 1-54 1 47 1-54 1 52 1-40 1 45 1-37 1 39 1-34 1 26 1-28 1 20 1-17 1 15 1-16 1 30 1-30 1 30 1-33 1 41 1-46 1 50 1-57 1 51 1-46 1 38 1-38 1 30 1-37 1 46 1-42 1 54 1-58 1 56 1-57 1 49 1-44 1 52 1-50 1 53 1-55 1 52 1-47 1 41 1-33 1 28 1-36 1 27 1-31 1 30 1-34 1 34 1-26 1 42 1-32 1 41 1-49 1 38 1-35 1 26 1-26 1 23 1-26 1 33 1-40 1 43 1-37 1 40 1-37 1 36 1-38 1 33 1-42 1 36 1-44 1 41 1-35 1 34 1-32 1 44 1-42 1 52 1-61 1 47 1-42 1 39 1-31 1 40 1-38 1 35 1-28 1 20 1-20 1 20 1-18 1 25 1-26 1 27 1-31 1 36 1-40 1 42 1-44 1 41 1-41 1 52 1-45 1 45 1-41 1 33 1-31 1 40 1-45 1 42 1-46 1 36 1-42 1 30 1-34 1 46 1-46 1 61 1-54 1 47 1-50 1 49 1-46 1 50 1-57 1 62 1-67 1 55 1-49 1 48 1-39 1 48 1-50 1 51 1-49 1 47 1-53 1 56 1-56 1 45 1-54 1 53 1-51 1 55 1-55 1 60 1-62 1 41 1-34 1 40 1-28 1 39 1-32 1 40 1-42 1 41 1-40 1 38 1-39 1 30 1-39 1 41 1-60 1 64 1-42 1 33 1-28 1 22 1-19 1 19 1-24 1 24 1-32 1 30 1-42 1 42 1-37 1 37 1-33 1 36 1-43 1 42 1-25 1 25 1-42 1 42 1-27 1 29 1-20 1 18 1-17 1 19 1-21 1 33 1-30 1 37 1-39 1 44 1-42 1 34 1-38 1 47 1-52 1 42 1-45 1 48 1-53 1 51 1-52 1 44 1-28 1 22 1-20 1 25 1-39 1 48 1-57 1 70 1-59 1 45 1-36 1 31 1-37 1 45 1-39 1 34 1-31 1 27 1-25 1 31 1-41 1 49 1-48 1 55 1-50 1 42 1-36 1 45 1-46 1 39 1-53 1 53 1-48 1 46 1-37 1 25 1-23 1 21 1-25 1 31 1-33 1 32 1-29 1 30 1-30 1 43 1-52 1 50 1-63 1 55 1-50 1 39 1-35 1 35 1-22 1 27 1-33 1 41 1-45 1 41 1-40 1 36 1-36 1 55 1-47 1 41 1-35 1 41 1-41 1 40 1-36 1 33 1-43 1 55 1-62 1 51 1-52 1 48 1-38 1 42 1-43 1 42 1-53 1 47 1-42 1 31 1-21 1 21 1-16 1 24 1-23 1 33 1-38 1 38 1-52 1 45 1-53 1 52 1-45 1 47 1-44 1 53 1-43 1 37 1-30 1 39 1-38 1 29 1-34 1 33 1-46 1 39 1-39 1 40 1-31 1 30 1-33 1 33 1-29 1 37 1-31 1 44 1-43 1 38 1-41 1 28 1-29 1 34 1-41 1 46 1-54 1 54 1-49 1 46 1-36 1 43 1-45 1 47 1-48 1 49 1-43 1 47 1-43 1 45 1-42 1 29 1-35 1 32 1-43 1 46 1-48 1 45 1-37 1 34 1-41 1 40 1-42 1 41 1-33 1 31 1-34 1 36 1-32 1 45 1-38 1 49 1-47 1 45 1-42 1 43 1-42 1 34 1-35 1 27 1-24 1 42 1-42 1 34 1-35 1 16 1-15 1 18 1-24 1 25 1-33 1 33 1-44 1 41 1-30 1 30 1-22 1 23 1-18 1 29 1-30 1 44 1-40 1 30 1-32 1 21 1-19 1 26 1-27 1 34 1-38 1 46 1-49 1 43 1-44 1 45 1-42 1 35 1-32 1 40 1-42 1 32 1-31 1 28 1-33 1 45 1-45" fill="none" stroke="#990000" stroke-width="1.20" vector-effect="non-scaling-stroke"/>
<rect x="98.50" y="8.90" width="915.00" height="1280.60" fill="none" stroke="#000" stroke-width="5.20"/>
<path d="M135.00 1289.50V1316.40M195.13 1289.50V1303.70M255.26 1289.50V1316.40M315.39 1289.50V1303.70M375.52 1289.50V1316.40M435.65 1289.50V1303.70M495.78 1289.50V1316.40M555.91 1289.50V1303.70M616.04 1289.50V1316.40M676.17 1289.50V1303.70M736.30 1289.50V1316.40M796.43 1289.50V1303.70M856.56 1289.50V1316.40M916.69 1289.50V1303.70M976.82 1289.50V1316.40" stroke="#000" stroke-width="5.00" fill="none"/>
<text x="0" y="0" text-anchor="middle" font-size="62.0" transform="translate(136.00 1371.20) scale(0.909 1)">20</text>
<text x="0" y="0" text-anchor="middle" font-size="62.0" transform="translate(256.26 1371.20) scale(0.909 1)">30</text>
<text x="0" y="0" text-anchor="middle" font-size="62.0" transform="translate(376.52 1371.20) scale(0.909 1)">40</text>
<text x="0" y="0" text-anchor="middle" font-size="62.0" transform="translate(496.78 1371.20) scale(0.909 1)">50</text>
<text x="0" y="0" text-anchor="middle" font-size="62.0" transform="translate(617.04 1371.20) scale(0.909 1)">60</text>
<text x="0" y="0" text-anchor="middle" font-size="62.0" transform="translate(737.30 1371.20) scale(0.909 1)">70</text>
<text x="0" y="0" text-anchor="middle" font-size="62.0" transform="translate(857.56 1371.20) scale(0.909 1)">80</text>
<text x="0" y="0" text-anchor="middle" font-size="62.0" transform="translate(977.82 1371.20) scale(0.909 1)">90</text>
<text x="0" y="0" font-size="63.5" transform="translate(372.30 1441.80) scale(0.872 1)">2 Theta / degree</text>
<text x="0" y="0" font-size="62.0" transform="translate(50.50 813.00) rotate(-90) scale(0.906 1)">Intensity / a.u.</text>
<text x="0" y="0" font-size="50.5" transform="translate(681.20 200.00) scale(0.873 1)">Pt/La<tspan font-size="30.0" dy="16.5">2</tspan><tspan dy="-16.5">O</tspan><tspan font-size="30.0" dy="16.5">3</tspan><tspan dy="-16.5">/SiO</tspan><tspan font-size="30.0" dy="16.5">2</tspan></text>
<text x="0" y="0" font-size="50.5" transform="translate(680.90 323.80) scale(0.873 1)">Pt/BaO/SiO<tspan font-size="30.0" dy="16.5">2</tspan></text>
<text x="0" y="0" font-size="50.5" transform="translate(681.70 483.70) scale(0.873 1)">Pt/ZnO/SiO<tspan font-size="30.0" dy="16.5">2</tspan></text>
<text x="0" y="0" font-size="50.5" transform="translate(683.70 622.50) scale(0.873 1)">Pt/CuO<tspan font-size="30.0" dy="16.5">x</tspan><tspan dy="-16.5" dx="2.5">/SiO</tspan><tspan font-size="30.0" dy="16.5">2</tspan></text>
<text x="0" y="0" font-size="50.5" transform="translate(680.90 719.90) scale(0.873 1)">Pt/CoO<tspan font-size="30.0" dy="16.5">x</tspan><tspan dy="-16.5">/SiO</tspan><tspan font-size="30.0" dy="16.5">2</tspan></text>
<text x="0" y="0" font-size="50.5" transform="translate(680.90 840.60) scale(0.873 1)">Pt/FeO<tspan font-size="30.0" dy="16.5">x</tspan><tspan dy="-16.5">/SiO</tspan><tspan font-size="30.0" dy="16.5">2</tspan></text>
<text x="0" y="0" font-size="50.5" transform="translate(682.50 955.40) scale(0.873 1)">Pt/Al<tspan font-size="30.0" dy="16.5">2</tspan><tspan dy="-16.5">O</tspan><tspan font-size="30.0" dy="16.5">3</tspan><tspan dy="-16.5">/SiO</tspan><tspan font-size="30.0" dy="16.5">2</tspan></text>
<text x="0" y="0" font-size="50.5" transform="translate(727.90 1087.90) scale(0.873 1)">Pt/SiO<tspan font-size="30.0" dy="16.5">2</tspan></text>
<text x="0" y="0" font-size="50.5" transform="translate(750.20 1217.50) scale(0.873 1)">SiO<tspan font-size="30.0" dy="16.5">2</tspan></text>
<path d="M363.4 980.4h18.4M372.6 971.2v18.4M363.4 971.2l18.4 18.4M363.4 989.6l18.4 -18.4M441.3 1053.7h18.4M450.5 1044.5v18.4M441.3 1044.5l18.4 18.4M441.3 1062.9l18.4 -18.4M695.4 1100.5h18.4M704.6 1091.3v18.4M695.4 1091.3l18.4 18.4M695.4 1109.7l18.4 -18.4M862.8 1108.6h18.4M872.0 1099.4v18.4M862.8 1099.4l18.4 18.4M862.8 1117.8l18.4 -18.4M915.3 1142.0h18.4M924.5 1132.8v18.4M915.3 1132.8l18.4 18.4M915.3 1151.2l18.4 -18.4" stroke="#000" stroke-width="1.70" stroke-linecap="round" fill="none"/>
</svg></body></html>
